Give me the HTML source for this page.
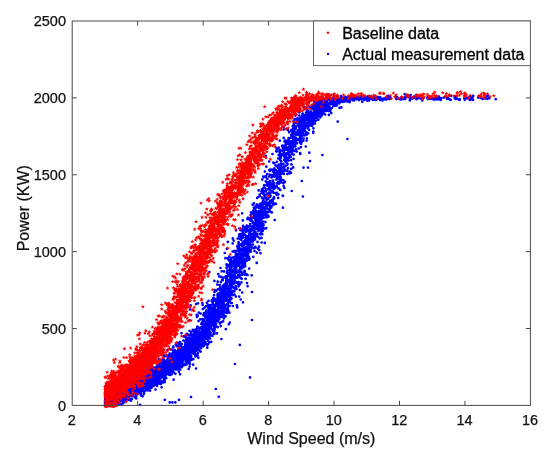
<!DOCTYPE html>
<html lang="en"><head><meta charset="utf-8"><title>Wind power scatter</title>
<style>html,body{margin:0;padding:0;background:#fff}body{width:550px;height:456px;overflow:hidden}</style></head>
<body>
<svg width="550" height="456" viewBox="0 0 550 456" style="display:block;font-family:'Liberation Sans',Arial,sans-serif">
<rect width="550" height="456" fill="#fff"/>
<path d="M176.9 366.1h0M205.4 342.0h0M130.5 393.2h0M400.5 99.0h0M128.0 390.3h0M373.0 98.9h0M269.8 208.5h0M169.4 374.0h0M135.3 397.4h0M242.3 273.1h0M292.6 150.0h0M346.8 99.7h0M176.5 358.9h0M165.4 373.7h0M111.2 402.2h0M142.5 385.9h0M248.8 242.4h0M213.4 323.5h0M287.9 160.0h0M435.8 98.0h0M198.8 340.4h0M176.7 361.3h0M188.1 357.8h0M214.7 328.9h0M188.6 343.2h0M126.5 389.7h0M238.5 250.4h0M130.3 395.8h0M185.6 358.7h0M167.1 373.5h0M261.6 222.7h0M159.3 374.4h0M105.1 399.2h0M175.5 367.0h0M299.3 112.4h0M285.7 159.2h0M456.8 98.7h0M210.3 317.0h0M188.8 348.0h0M133.2 394.1h0M305.8 123.0h0M203.4 314.5h0M186.8 338.9h0M197.9 349.0h0M123.8 390.2h0M253.2 226.2h0M171.0 364.1h0M112.0 405.4h0M292.2 142.1h0M233.2 270.7h0M109.2 402.3h0M162.2 372.4h0M305.7 116.7h0M234.6 280.2h0M278.7 183.5h0M227.5 282.8h0M140.4 393.5h0M260.1 233.8h0M208.7 327.8h0M400.9 99.5h0M146.2 376.2h0M225.5 298.7h0M204.6 333.4h0M189.9 347.0h0M302.9 196.5h0M118.1 398.0h0M304.2 123.5h0M161.4 382.3h0M153.2 381.7h0M183.0 352.8h0M162.1 370.2h0M152.4 375.7h0M267.3 185.5h0M202.1 340.6h0M155.9 379.7h0M157.5 371.0h0M152.9 369.0h0M115.9 388.4h0M143.2 387.5h0M122.8 397.9h0M161.7 372.5h0M183.4 355.9h0M303.8 128.3h0M244.8 234.7h0M227.2 293.8h0M291.4 148.5h0M256.7 207.1h0M264.5 207.5h0M329.8 99.4h0M212.0 321.0h0M222.4 307.3h0M312.6 118.9h0M114.0 401.5h0M389.5 99.1h0M327.4 102.9h0M209.9 326.9h0M269.3 183.1h0M241.1 236.6h0M191.5 344.7h0M213.5 325.9h0M147.2 381.7h0M186.4 350.9h0M185.2 345.8h0M314.3 106.0h0M280.7 160.6h0M254.6 239.7h0M216.6 301.7h0M114.1 393.0h0M291.8 141.4h0M293.0 138.0h0M286.0 170.5h0M167.4 373.9h0M119.2 394.4h0M314.2 116.1h0M105.7 397.4h0M242.3 228.5h0M124.0 385.2h0M231.0 268.3h0M234.2 270.6h0M310.0 118.7h0M252.6 204.7h0M301.2 143.8h0M256.7 262.9h0M150.0 374.2h0M301.2 126.4h0M228.0 303.4h0M109.5 399.7h0M158.3 378.1h0M161.4 367.3h0M348.5 100.8h0M154.9 384.4h0M267.5 202.9h0M214.1 328.5h0M125.0 392.3h0M178.7 344.2h0M216.0 305.0h0M330.2 98.1h0M200.1 337.2h0M261.6 242.5h0M256.0 211.8h0M330.6 100.7h0M165.1 370.0h0M299.6 120.0h0M147.9 381.5h0M138.4 391.1h0M200.0 339.8h0M291.7 164.5h0M218.8 316.4h0M208.6 324.8h0M111.0 399.7h0M358.3 96.8h0M262.7 215.6h0M181.4 352.1h0M232.7 291.9h0M344.4 98.3h0M243.0 237.7h0M105.8 394.1h0M255.6 218.0h0M243.4 267.2h0M207.0 325.6h0M189.5 330.8h0M168.1 365.6h0M268.7 182.0h0M319.7 114.3h0M207.0 333.3h0M197.4 326.5h0M331.6 102.6h0M147.2 373.7h0M131.9 379.7h0M140.8 380.5h0M212.5 318.3h0M150.3 383.1h0M275.5 165.3h0M354.0 100.5h0M157.0 386.0h0M198.0 343.0h0M178.9 361.2h0M187.1 354.5h0M125.0 391.1h0M118.5 402.4h0M120.2 399.1h0M146.2 385.2h0M282.1 145.9h0M250.0 238.1h0M192.1 348.8h0M147.1 386.6h0M220.3 303.1h0M200.7 332.1h0M138.3 393.4h0M140.3 387.3h0M140.4 383.0h0M290.6 148.2h0M270.0 181.2h0M196.8 339.0h0M283.7 129.4h0M244.4 274.6h0M329.3 104.0h0M140.5 377.3h0M183.6 349.1h0M311.2 117.7h0M123.5 388.0h0M182.6 354.4h0M292.5 144.0h0M163.5 366.9h0M173.0 359.8h0M183.5 356.5h0M108.3 394.2h0M155.8 373.0h0M230.0 290.4h0M322.9 110.9h0M171.4 363.0h0M137.6 385.9h0M133.2 396.3h0M145.7 374.3h0M304.4 125.9h0M278.1 172.4h0M191.5 358.6h0M390.8 98.5h0M262.2 207.5h0M281.6 150.5h0M438.6 99.3h0M354.4 96.9h0M122.7 389.0h0M239.6 263.7h0M312.6 113.4h0M227.3 304.0h0M244.6 252.4h0M238.1 262.6h0M127.3 393.0h0M268.6 216.7h0M198.0 342.5h0M231.8 272.3h0M295.1 143.9h0M198.3 336.3h0M156.5 374.2h0M168.0 365.1h0M131.1 388.8h0M270.3 193.0h0M227.8 309.0h0M231.9 291.5h0M181.3 358.5h0M125.8 389.6h0M314.0 109.6h0M181.3 360.8h0M242.2 250.6h0M185.8 353.2h0M265.8 198.4h0M243.6 248.6h0M242.7 236.4h0M177.2 360.8h0M174.1 368.8h0M114.3 394.5h0M106.0 400.0h0M234.4 262.7h0M348.7 99.8h0M245.4 228.8h0M187.1 357.0h0M203.6 321.3h0M287.8 152.7h0M132.7 389.2h0M418.4 97.7h0M195.1 337.1h0M160.2 362.5h0M290.2 143.5h0M231.9 263.2h0M169.0 369.0h0M226.0 293.7h0M172.3 359.4h0M255.3 246.9h0M245.8 261.5h0M113.9 395.6h0M124.4 392.8h0M112.2 389.3h0M246.4 239.1h0M312.4 105.9h0M186.8 348.5h0M232.7 243.4h0M204.8 314.7h0M188.5 348.4h0M322.7 110.2h0M271.2 207.6h0M195.2 347.7h0M296.1 127.4h0M109.7 402.5h0M239.8 251.4h0M129.9 384.2h0M156.6 379.3h0M179.8 357.9h0M107.4 393.1h0M173.4 352.2h0M264.3 195.5h0M164.2 367.0h0M163.4 370.5h0M114.5 401.5h0M228.1 274.9h0M167.8 364.8h0M325.2 105.0h0M140.3 387.8h0M138.2 376.7h0M239.5 263.9h0M322.4 101.9h0M322.0 111.0h0M175.2 355.7h0M164.1 365.5h0M109.0 396.3h0M210.0 338.4h0M287.5 164.6h0M252.7 238.8h0M255.2 211.7h0M141.4 384.2h0M137.9 378.4h0M164.3 364.3h0M196.3 335.0h0M163.5 370.5h0M331.0 100.1h0M154.8 379.3h0M112.1 401.4h0M189.0 355.1h0M188.2 351.9h0M238.1 254.5h0M213.8 300.7h0M136.7 380.1h0M178.4 359.2h0M148.9 387.5h0M113.1 400.4h0M177.1 359.9h0M217.0 318.5h0M159.6 376.3h0M195.3 350.8h0M239.4 228.5h0M173.1 352.1h0M178.6 352.7h0M300.6 124.6h0M268.0 189.3h0M146.1 382.7h0M281.3 166.8h0M191.6 348.3h0M230.1 290.9h0M133.6 391.6h0M150.7 377.4h0M303.5 130.6h0M115.3 396.4h0M214.9 311.4h0M187.4 353.3h0M224.4 298.8h0M168.3 373.0h0M107.9 394.9h0M131.2 389.0h0M364.6 100.0h0M256.0 206.9h0M241.7 278.8h0M484.8 97.7h0M242.5 260.1h0M107.7 400.8h0M152.6 372.2h0M248.7 248.5h0M289.4 155.3h0M253.8 233.4h0M301.6 140.6h0M194.8 337.2h0M126.3 385.9h0M204.5 328.2h0M246.0 243.3h0M266.0 194.6h0M124.4 391.6h0M325.7 103.2h0M255.4 219.9h0M150.8 376.6h0M213.1 298.1h0M230.2 274.5h0M410.6 95.0h0M146.9 382.4h0M233.9 281.4h0M163.1 373.8h0M125.5 397.2h0M214.6 306.9h0M276.5 148.4h0M320.5 107.6h0M193.7 341.5h0M160.9 365.5h0M131.5 387.5h0M303.4 140.7h0M109.0 392.2h0M178.7 367.4h0M220.0 304.8h0M247.5 252.2h0M337.5 97.0h0M153.1 381.0h0M161.7 376.2h0M180.4 357.8h0M283.0 173.2h0M270.5 192.4h0M336.3 105.3h0M145.6 384.7h0M221.9 293.7h0M211.8 322.4h0M116.4 389.6h0M211.9 307.5h0M248.3 252.1h0M160.8 371.0h0M341.7 97.7h0M353.5 96.5h0M167.6 366.0h0M189.6 340.3h0M208.2 304.8h0M294.5 146.5h0M136.1 389.0h0M229.8 264.3h0M215.0 314.9h0M202.9 335.7h0M171.7 374.3h0M188.2 347.0h0M117.1 395.4h0M275.2 188.1h0M195.2 342.4h0M224.3 307.5h0M243.4 253.2h0M189.5 320.3h0M172.9 356.0h0M156.9 365.3h0M166.3 371.5h0M180.3 357.9h0M199.6 333.5h0M263.4 191.9h0M323.6 103.2h0M236.1 230.3h0M337.3 100.2h0M332.3 100.9h0M300.1 138.5h0M322.2 102.3h0M165.7 363.4h0M196.4 332.5h0M235.1 257.2h0M332.4 100.1h0M229.8 322.5h0M179.8 354.4h0M233.3 276.7h0M122.3 401.1h0M220.3 292.4h0M110.7 405.0h0M150.0 383.8h0M299.9 122.5h0M211.8 312.9h0M161.6 387.3h0M116.9 397.1h0M113.0 395.5h0M285.2 117.8h0M221.4 290.4h0M120.5 399.8h0M210.1 310.5h0M116.8 402.2h0M149.2 379.4h0M233.6 275.6h0M287.6 147.5h0M336.0 99.2h0M317.4 104.7h0M193.2 346.6h0M167.5 371.4h0M255.6 233.7h0M208.5 315.9h0M176.0 357.6h0M176.0 357.8h0M168.4 368.9h0M129.4 371.0h0M311.2 124.0h0M253.4 227.3h0M111.5 394.2h0M336.8 98.8h0M169.0 371.7h0M262.8 230.8h0M137.5 387.9h0M335.2 100.3h0M254.2 230.7h0M239.2 251.3h0M301.3 123.7h0M240.7 254.5h0M285.1 145.8h0M165.6 375.4h0M269.9 188.4h0M214.2 309.8h0M198.3 336.2h0M331.3 113.1h0M175.7 365.3h0M205.5 317.8h0M122.3 398.3h0M136.6 395.0h0M237.0 277.9h0M124.1 389.1h0M115.4 400.9h0M289.3 155.8h0M114.8 403.1h0M348.7 98.6h0M166.5 369.8h0M311.3 112.3h0M165.2 355.9h0M140.6 384.8h0M195.8 342.0h0M266.6 206.3h0M266.3 228.2h0M140.9 395.3h0M120.0 396.5h0M212.3 329.8h0M153.6 386.1h0M228.8 324.3h0M267.4 179.0h0M317.9 111.6h0M148.3 376.1h0M195.3 332.2h0M230.4 263.1h0M238.6 282.0h0M207.8 339.5h0M247.2 250.6h0M173.1 369.2h0M323.5 102.3h0M172.5 371.2h0M134.5 388.6h0M138.2 382.0h0M121.1 400.7h0M214.6 313.7h0M228.4 310.6h0M258.4 215.7h0M274.2 173.3h0M172.0 361.2h0M120.1 388.5h0M167.1 365.5h0M182.4 365.5h0M208.6 336.2h0M350.6 98.8h0M109.3 399.3h0M150.2 374.2h0M204.6 307.7h0M210.4 318.6h0M214.7 318.9h0M262.0 197.8h0M189.0 344.0h0M145.0 386.7h0M107.6 403.6h0M106.2 405.4h0M118.7 393.8h0M167.0 367.9h0M269.9 174.7h0M142.1 382.9h0M115.7 398.2h0M121.9 396.6h0M221.7 316.6h0M186.7 353.5h0M202.7 329.6h0M111.7 401.1h0M115.3 393.7h0M175.4 369.3h0M311.7 115.5h0M421.4 96.3h0M334.9 97.5h0M141.5 386.6h0M223.8 309.4h0M231.0 292.2h0M122.2 388.8h0M253.1 223.2h0M134.6 387.1h0M161.5 362.6h0M225.1 290.4h0M150.3 384.2h0M179.3 346.5h0M156.1 378.6h0M181.2 351.2h0M179.3 367.2h0M280.8 164.1h0M269.7 182.6h0M131.5 380.4h0M115.7 395.8h0M157.2 374.1h0M137.5 389.7h0M272.6 180.6h0M158.1 371.7h0M202.5 323.8h0M214.2 300.4h0M127.9 392.4h0M108.8 400.8h0M208.8 320.1h0M274.2 188.4h0M121.2 394.6h0M176.2 355.7h0M134.6 384.1h0M221.5 307.9h0M133.7 387.4h0M106.1 402.9h0M307.2 118.2h0M107.6 401.6h0M142.5 381.5h0M226.3 287.7h0M153.5 375.8h0M190.4 344.7h0M157.7 373.6h0M208.6 321.1h0M164.0 368.4h0M113.5 395.4h0M242.1 213.3h0M185.5 343.1h0M162.6 369.8h0M201.4 335.3h0M276.6 185.8h0M214.6 325.0h0M226.5 285.0h0M131.4 390.3h0M219.2 299.3h0M135.4 386.4h0M348.7 97.0h0M204.7 327.0h0M116.1 397.3h0M290.6 149.5h0M116.0 395.3h0M215.8 313.5h0M225.0 307.4h0M258.7 222.7h0M258.1 228.2h0M489.3 98.2h0M236.2 258.4h0M209.5 331.2h0M146.5 377.3h0M126.3 397.0h0M236.6 250.9h0M341.3 107.4h0M276.9 161.8h0M179.2 366.7h0M147.9 379.6h0M153.8 382.0h0M305.2 123.9h0M148.2 380.3h0M122.0 382.5h0M259.4 215.0h0M329.2 109.1h0M217.8 313.7h0M193.3 341.2h0M198.7 336.5h0M329.5 107.0h0M218.8 305.2h0M208.8 325.2h0M185.7 335.7h0M357.1 97.2h0M286.4 158.9h0M295.8 128.7h0M221.8 302.2h0M174.5 367.6h0M155.1 377.4h0M352.9 95.5h0M248.1 245.3h0M334.7 101.0h0M151.2 380.0h0M145.9 382.7h0M126.6 392.2h0M159.1 367.9h0M225.7 300.5h0M128.0 394.7h0M191.0 335.6h0M346.3 99.3h0M169.4 363.4h0M182.4 355.7h0M145.7 375.2h0M222.2 298.9h0M196.7 344.5h0M219.6 289.6h0M149.6 384.4h0M282.7 148.1h0M295.8 138.6h0M244.7 255.7h0M257.0 220.7h0M284.1 171.0h0M213.9 317.4h0M142.4 381.1h0M377.5 98.5h0M173.7 365.9h0M149.2 387.6h0M196.2 350.8h0M204.9 329.9h0M245.0 259.2h0M185.5 346.0h0M317.3 107.6h0M302.2 119.5h0M168.2 368.0h0M262.2 209.5h0M263.5 224.5h0M152.2 372.8h0M471.2 98.8h0M178.5 349.2h0M218.6 315.6h0M106.3 403.1h0M109.6 395.5h0M200.3 339.4h0M205.5 333.2h0M285.3 157.3h0M294.7 131.7h0M108.4 401.3h0M160.8 373.5h0M270.2 169.5h0M171.6 362.9h0M114.6 390.6h0M257.1 226.3h0M194.0 346.8h0M226.2 298.0h0M323.9 103.3h0M226.1 300.6h0M114.6 396.0h0M174.1 363.6h0M257.7 217.1h0M339.2 103.5h0M326.5 106.0h0M132.4 387.6h0M470.1 95.9h0M207.8 318.2h0M125.5 389.4h0M234.4 250.8h0M224.7 253.0h0M239.2 270.4h0M310.1 118.0h0M281.3 161.5h0M151.1 383.7h0M229.6 306.0h0M176.3 356.2h0M178.0 354.8h0M140.7 379.5h0M192.3 338.7h0M183.1 355.5h0M315.0 123.6h0M146.9 375.0h0M277.3 177.3h0M114.9 405.4h0M294.6 150.9h0M148.6 375.3h0M232.2 277.1h0M215.5 325.7h0M255.1 223.6h0M184.2 354.3h0M169.2 357.1h0M144.2 382.2h0M176.5 357.9h0M308.2 118.7h0M200.8 334.0h0M201.8 329.7h0M403.5 98.9h0M203.0 324.3h0M215.2 300.2h0M274.4 169.5h0M155.5 372.6h0M332.6 103.7h0M224.7 286.4h0M181.8 356.2h0M390.2 98.5h0M321.9 106.7h0M136.7 381.9h0M226.1 292.4h0M205.7 336.8h0M176.9 356.8h0M241.9 256.0h0M272.7 201.2h0M333.5 102.4h0M203.1 333.3h0M132.5 383.0h0M234.5 288.2h0M143.4 384.9h0M151.6 373.0h0M116.3 397.1h0M215.6 304.6h0M121.1 399.2h0M459.7 99.8h0M268.9 195.8h0M266.6 199.0h0M255.5 208.6h0M116.6 390.1h0M240.1 267.6h0M151.3 382.2h0M228.2 281.9h0M217.5 295.1h0M225.9 283.4h0M142.9 373.7h0M361.5 98.6h0M444.0 97.6h0M193.3 359.2h0M165.2 369.8h0M150.1 386.6h0M195.0 342.7h0M168.3 368.2h0M297.9 124.8h0M162.5 373.9h0M314.0 106.3h0M226.9 272.7h0M170.2 372.8h0M241.4 271.6h0M108.4 398.0h0M316.7 104.8h0M196.1 304.1h0M279.4 170.1h0M160.4 384.0h0M226.4 312.9h0M133.8 385.4h0M118.1 396.4h0M121.0 388.8h0M188.6 362.5h0M238.5 260.9h0M240.6 230.1h0M139.3 392.1h0M250.2 239.9h0M181.2 360.7h0M144.6 382.0h0M138.7 381.7h0M227.6 293.8h0M155.6 374.6h0M148.1 373.5h0M310.5 119.4h0M235.5 268.5h0M143.2 384.1h0M218.3 309.1h0M170.6 364.2h0M133.8 381.8h0M263.3 215.4h0M157.4 375.5h0M372.9 99.1h0M114.5 394.2h0M187.8 360.6h0M266.6 208.3h0M105.9 398.2h0M178.5 350.4h0M183.0 354.6h0M147.0 376.8h0M128.8 389.7h0M242.8 262.5h0M278.2 158.5h0M220.7 326.1h0M182.8 357.4h0M175.8 362.3h0M191.0 334.2h0M134.8 383.2h0M272.1 187.5h0M148.3 379.7h0M210.3 324.1h0M205.6 338.6h0M149.4 374.4h0M181.2 351.6h0M129.9 387.5h0M126.3 387.2h0M199.4 342.8h0M283.6 152.1h0M156.0 381.3h0M235.9 286.9h0M153.0 371.1h0M198.6 344.1h0M114.8 399.9h0M174.5 366.8h0M455.9 99.1h0M245.8 255.7h0M197.0 343.3h0M125.9 388.8h0M138.8 388.5h0M232.2 280.0h0M154.1 375.5h0M145.5 386.0h0M140.7 384.6h0M255.2 218.7h0M185.2 354.1h0M149.1 378.0h0M184.0 363.9h0M155.0 375.8h0M260.1 206.3h0M187.7 339.0h0M269.8 209.3h0M116.1 393.8h0M203.9 327.2h0M128.2 381.2h0M187.5 351.4h0M343.7 99.8h0M135.4 393.4h0M246.6 258.1h0M240.3 244.4h0M125.1 393.4h0M206.9 333.9h0M169.8 364.6h0M150.8 376.7h0M293.6 138.5h0M186.9 339.8h0M308.6 115.4h0M228.0 291.4h0M151.3 383.2h0M284.1 156.0h0M334.8 98.3h0M118.8 396.7h0M326.0 111.0h0M109.0 405.4h0M127.2 395.6h0M160.9 375.1h0M317.1 103.4h0M183.6 356.2h0M299.7 130.1h0M146.6 376.9h0M254.7 213.6h0M191.4 343.2h0M273.5 198.9h0M224.6 288.7h0M257.7 225.8h0M122.6 400.8h0M113.4 397.2h0M114.0 402.3h0M311.7 120.3h0M217.0 311.1h0M138.5 389.7h0M176.9 364.1h0M248.0 238.3h0M231.2 298.7h0M241.5 257.4h0M249.3 231.2h0M291.2 134.8h0M176.0 361.6h0M133.2 392.5h0M329.1 110.0h0M308.8 122.8h0M134.5 378.5h0M247.4 219.2h0M223.1 321.3h0M228.0 273.1h0M297.3 121.5h0M187.4 345.4h0M264.7 187.8h0M160.4 378.7h0M242.8 259.0h0M167.2 364.9h0M356.2 96.4h0M164.9 370.6h0M182.6 350.6h0M131.0 389.1h0M175.1 352.4h0M153.2 371.7h0M212.3 325.0h0M135.4 391.8h0M133.6 389.9h0M106.4 399.9h0M147.3 377.2h0M236.2 259.2h0M229.3 285.9h0M202.6 304.9h0M222.2 303.4h0M267.1 199.5h0M336.8 105.4h0M294.0 124.0h0M330.8 101.3h0M120.4 394.1h0M215.6 301.2h0M264.2 203.9h0M245.6 243.8h0M197.9 327.7h0M151.9 379.9h0M404.7 94.2h0M223.9 298.8h0M188.1 351.3h0M250.4 242.2h0M105.6 397.4h0M336.4 100.1h0M270.4 190.0h0M226.8 248.8h0M311.2 119.2h0M166.1 366.1h0M153.6 381.0h0M253.1 226.9h0M159.5 361.6h0M213.9 328.6h0M263.3 188.2h0M174.6 352.9h0M107.3 397.0h0M284.3 150.5h0M472.6 99.8h0M186.2 346.6h0M164.9 365.2h0M141.3 384.6h0M141.4 382.1h0M317.2 117.7h0M115.7 397.8h0M132.1 384.9h0M226.2 280.9h0M161.9 365.4h0M285.5 146.4h0M273.1 180.9h0M205.9 323.4h0M302.4 123.2h0M293.6 124.7h0M175.1 365.5h0M110.2 404.8h0M227.3 270.6h0M294.4 129.3h0M239.5 248.2h0M134.6 388.0h0M204.0 324.0h0M259.1 219.1h0M220.6 299.0h0M240.7 266.5h0M153.3 374.0h0M136.0 391.5h0M291.1 130.6h0M172.0 362.6h0M150.2 379.4h0M109.4 395.5h0M316.2 112.2h0M116.2 390.2h0M151.6 368.7h0M125.0 391.2h0M302.9 126.8h0M141.3 375.2h0M204.4 341.0h0M246.7 225.6h0M116.2 399.3h0M196.5 329.0h0M317.5 112.2h0M290.5 138.0h0M311.7 108.6h0M149.8 387.2h0M154.9 377.0h0M111.2 394.7h0M317.4 111.0h0M111.2 391.4h0M162.9 371.0h0M290.4 155.0h0M208.2 317.0h0M213.7 313.3h0M239.1 258.3h0M297.6 131.4h0M272.2 186.2h0M189.4 352.9h0M146.9 377.6h0M253.6 217.0h0M116.4 395.7h0M184.2 358.2h0M236.5 282.0h0M193.0 347.9h0M186.8 348.7h0M172.8 361.7h0M153.3 380.3h0M311.5 116.3h0M115.1 394.8h0M283.6 170.5h0M140.7 383.4h0M268.8 196.3h0M183.6 336.4h0M247.6 275.0h0M201.1 343.4h0M291.2 168.9h0M297.7 131.6h0M185.6 350.1h0M293.6 158.8h0M287.8 154.1h0M203.0 332.4h0M336.7 98.7h0M197.7 347.2h0M204.2 332.3h0M122.8 392.9h0M105.3 405.3h0M231.0 303.1h0M312.3 105.5h0M129.9 389.6h0M285.1 147.3h0M296.5 133.4h0M220.6 296.8h0M210.1 319.2h0M261.7 193.0h0M162.4 369.5h0M253.6 230.9h0M127.9 391.7h0M187.5 351.9h0M315.9 114.5h0M167.3 367.6h0M204.3 328.1h0M163.2 365.6h0M147.2 370.9h0M255.7 218.0h0M327.4 105.1h0M298.1 130.3h0M174.2 364.2h0M142.7 383.3h0M249.2 246.6h0M198.6 336.9h0M207.3 314.6h0M186.2 355.1h0M262.2 179.6h0M203.8 330.0h0M119.6 398.4h0M194.8 352.4h0M235.7 286.1h0M320.4 104.0h0M160.3 374.8h0M226.8 279.0h0M167.9 369.4h0M189.5 348.1h0M314.3 101.6h0M203.0 334.1h0M164.1 373.9h0M170.3 363.9h0M184.2 352.8h0M214.4 315.9h0M345.6 99.6h0M299.2 125.7h0M113.2 400.2h0M207.8 318.5h0M353.9 99.2h0M260.5 226.4h0M105.8 395.7h0M220.8 289.7h0M316.4 111.8h0M287.9 168.2h0M259.8 214.7h0M258.7 212.5h0M173.2 352.3h0M173.3 356.7h0M164.1 371.2h0M357.9 98.8h0M142.8 380.9h0M112.7 404.3h0M226.1 294.1h0M346.0 101.3h0M203.8 345.9h0M203.5 324.4h0M215.3 305.1h0M232.5 278.3h0M126.8 395.9h0M180.3 350.7h0M114.3 399.0h0M209.5 313.8h0M268.4 185.7h0M207.2 321.5h0M121.2 391.1h0M134.2 386.0h0M142.8 383.8h0M299.1 126.4h0M229.9 269.1h0M115.5 401.1h0M108.0 404.7h0M278.1 167.8h0M211.4 321.9h0M120.5 397.1h0M181.2 359.2h0M118.8 394.1h0M247.3 240.8h0M246.1 231.8h0M322.0 104.1h0M222.7 298.4h0M157.8 369.4h0M197.9 334.0h0M263.0 212.1h0M342.2 101.8h0M177.9 364.1h0M319.2 102.9h0M227.7 307.9h0M154.1 374.3h0M233.0 270.1h0M451.3 95.9h0M311.3 119.7h0M291.8 131.3h0M238.7 243.9h0M237.9 260.6h0M164.7 378.6h0M221.7 290.5h0M224.3 311.9h0M182.4 356.8h0M404.4 97.6h0M123.4 397.9h0M138.7 389.2h0M245.8 261.0h0M210.3 310.0h0M114.6 395.0h0M166.9 356.2h0M293.5 120.8h0M189.0 342.7h0M159.2 376.7h0M204.6 338.2h0M189.0 357.6h0M174.4 361.7h0M287.4 173.9h0M122.7 393.2h0M253.6 228.3h0M160.7 365.9h0M131.3 386.9h0M139.0 385.6h0M146.9 374.4h0M111.4 402.8h0M243.4 226.8h0M302.5 132.8h0M161.0 373.6h0M160.9 362.9h0M167.8 368.9h0M231.4 271.4h0M318.2 102.9h0M464.3 98.2h0M274.0 198.2h0M267.6 182.8h0M154.9 381.2h0M170.5 370.5h0M180.6 360.4h0M265.3 195.7h0M314.7 109.1h0M198.4 336.9h0M139.8 383.5h0M165.8 362.6h0M301.8 117.8h0M243.3 252.9h0M129.3 393.1h0M252.7 229.2h0M150.1 368.2h0M316.0 115.3h0M259.7 222.6h0M230.2 273.8h0M238.3 247.9h0M227.2 285.0h0M248.9 250.2h0M129.1 384.5h0M260.5 211.8h0M150.6 382.7h0M134.9 389.9h0M240.1 257.1h0M275.6 193.1h0M376.7 98.5h0M145.8 386.7h0M221.2 307.3h0M138.9 391.8h0M266.9 206.3h0M229.6 275.6h0M208.1 307.7h0M224.0 298.4h0M285.5 155.1h0M170.9 358.5h0M155.5 389.5h0M200.3 336.0h0M109.1 392.1h0M269.6 205.7h0M135.1 387.1h0M220.5 304.7h0M303.1 119.7h0M296.3 126.3h0M302.3 134.0h0M294.3 136.8h0M222.0 291.3h0M139.3 384.1h0M187.7 359.4h0M432.1 98.8h0M406.3 96.3h0M200.6 328.4h0M291.3 164.4h0M110.8 401.2h0M188.7 341.4h0M136.3 398.4h0M132.1 385.1h0M117.1 399.9h0M281.4 155.5h0M112.5 405.4h0M222.5 301.2h0M120.7 391.8h0M254.5 235.8h0M141.3 380.0h0M124.1 391.9h0M223.1 303.5h0M209.1 319.1h0M211.5 314.6h0M269.2 195.7h0M253.3 237.8h0M290.1 146.6h0M223.6 314.2h0M164.2 361.9h0M177.5 362.7h0M200.8 340.8h0M263.5 198.8h0M231.8 295.0h0M256.1 223.5h0M140.1 404.8h0M306.8 112.1h0M158.0 374.0h0M217.1 312.9h0M340.9 96.2h0M280.7 180.6h0M230.3 266.2h0M341.9 99.0h0M205.9 337.2h0M191.2 355.8h0M212.7 311.4h0M212.4 309.4h0M167.9 358.5h0M280.8 174.1h0M175.9 353.5h0M277.5 179.0h0M189.7 354.3h0M178.8 359.8h0M432.7 98.8h0M168.5 370.3h0M142.8 386.1h0M176.9 358.9h0M170.8 369.9h0M158.6 377.6h0M151.6 376.8h0M226.0 297.9h0M267.4 205.5h0M283.3 180.2h0M196.9 334.5h0M196.6 314.8h0M216.5 320.3h0M257.6 229.3h0M253.3 223.4h0M144.1 384.0h0M306.9 115.9h0M175.9 359.0h0M250.3 246.3h0M254.5 251.0h0M270.5 192.8h0M238.8 249.6h0M328.6 98.3h0M206.1 334.5h0M318.4 119.8h0M204.4 337.8h0M147.8 381.0h0M285.4 149.7h0M328.0 108.6h0M116.2 399.1h0M340.1 102.0h0M156.9 376.5h0M141.6 380.2h0M109.0 393.9h0M301.8 135.0h0M189.3 347.2h0M168.8 369.1h0M157.9 369.5h0M330.5 104.3h0M145.9 388.9h0M243.7 241.5h0M209.4 319.9h0M196.9 350.5h0M121.7 399.0h0M153.1 379.7h0M217.7 300.4h0M179.0 352.1h0M303.0 135.2h0M133.7 388.6h0M155.7 373.8h0M178.9 364.6h0M174.6 359.0h0M322.0 114.0h0M134.0 385.6h0M119.4 396.4h0M216.2 323.5h0M123.3 395.7h0M267.1 184.1h0M241.6 262.4h0M141.4 379.0h0M251.9 220.9h0M348.9 96.8h0M108.4 403.2h0M232.6 295.1h0M111.6 404.4h0M273.6 183.4h0M186.5 351.1h0M210.2 324.3h0M160.2 373.2h0M223.8 286.1h0M174.5 360.0h0M186.8 353.3h0M170.7 372.0h0M386.6 96.7h0M177.6 353.3h0M259.1 219.3h0M118.1 396.5h0M145.3 380.9h0M248.1 252.3h0M168.9 366.2h0M195.3 332.8h0M303.0 132.5h0M213.1 322.3h0M317.9 113.8h0M127.3 372.9h0M222.7 285.9h0M121.9 397.4h0M115.0 397.9h0M175.4 361.5h0M249.8 249.8h0M191.2 340.8h0M113.9 399.7h0M224.0 299.1h0M384.5 98.6h0M321.5 105.3h0M114.3 394.1h0M153.1 372.3h0M156.6 374.5h0M177.4 364.6h0M235.9 254.4h0M292.9 147.8h0M116.7 397.2h0M246.4 242.9h0M354.3 97.9h0M343.9 100.2h0M213.4 330.9h0M141.0 395.3h0M239.3 247.7h0M280.8 157.7h0M138.1 391.6h0M147.8 383.7h0M306.4 118.9h0M222.2 296.0h0M336.6 104.4h0M191.9 348.9h0M230.3 269.9h0M234.4 282.3h0M128.3 397.7h0M184.4 357.8h0M172.5 365.8h0M219.4 306.3h0M283.9 167.2h0M223.7 297.3h0M199.0 344.0h0M136.6 382.6h0M213.5 317.2h0M464.5 95.8h0M212.2 312.6h0M169.5 373.9h0M126.8 395.4h0M164.2 373.4h0M208.2 308.0h0M174.8 367.2h0M213.5 333.7h0M325.1 114.5h0M174.1 361.4h0M179.7 364.9h0M486.9 96.1h0M190.8 334.0h0M176.1 362.6h0M137.6 382.7h0M164.8 382.1h0M216.7 313.2h0M239.4 272.6h0M147.4 382.4h0M207.1 317.6h0M279.9 177.3h0M159.1 367.3h0M388.1 95.9h0M184.5 347.0h0M121.0 404.4h0M220.7 293.6h0M153.0 378.7h0M197.4 326.7h0M172.7 362.6h0M183.4 357.1h0M282.7 195.6h0M210.3 327.9h0M313.9 120.2h0M187.3 347.6h0M160.6 371.0h0M128.7 386.7h0M182.3 355.9h0M159.0 368.0h0M173.7 362.1h0M119.5 388.5h0M264.7 209.2h0M187.9 349.3h0M145.6 381.2h0M148.6 385.2h0M279.4 181.7h0M175.7 364.1h0M184.5 347.6h0M242.4 250.7h0M313.7 121.1h0M114.7 393.0h0M201.9 322.9h0M342.1 99.4h0M106.4 405.4h0M144.5 379.5h0M259.3 250.0h0M361.8 97.7h0M213.4 316.6h0M227.6 310.7h0M222.6 288.3h0M216.7 314.5h0M324.6 100.4h0M241.7 234.5h0M230.9 282.9h0M224.2 291.3h0M128.8 382.6h0M231.6 286.0h0M116.5 396.3h0M178.3 367.7h0M250.3 243.1h0M155.4 380.7h0M159.2 375.5h0M164.4 370.3h0M358.0 97.3h0M160.8 382.9h0M469.9 99.9h0M139.8 375.1h0M181.5 333.2h0M248.3 237.4h0M293.5 129.1h0M278.1 197.9h0M165.8 362.9h0M241.4 254.7h0M158.8 368.6h0M242.0 244.3h0M308.7 117.6h0M272.4 199.5h0M255.8 236.4h0M264.8 242.9h0M269.9 205.7h0M322.7 110.4h0M128.6 383.5h0M135.7 386.0h0M396.0 96.9h0M145.7 380.5h0M164.8 371.5h0M158.3 379.9h0M278.6 170.9h0M253.3 256.8h0M162.7 376.1h0M120.8 392.7h0M239.6 250.3h0M165.3 361.7h0M278.2 182.3h0M249.7 219.8h0M279.5 152.1h0M139.4 388.9h0M137.9 384.0h0M128.5 394.1h0M113.2 394.6h0M435.5 98.4h0M325.1 104.7h0M287.5 164.0h0M193.7 334.4h0M209.0 331.8h0M129.4 386.8h0M159.9 369.0h0M196.7 337.1h0M135.9 388.2h0M290.8 148.2h0M131.9 391.8h0M135.1 381.9h0M314.1 113.7h0M285.8 143.5h0M118.4 393.7h0M184.9 356.5h0M147.5 377.9h0M321.7 103.3h0M254.6 215.2h0M161.7 375.2h0M214.5 326.0h0M142.5 377.7h0M448.1 97.6h0M265.3 213.8h0M170.3 367.3h0M264.4 203.1h0M309.6 125.8h0M342.0 100.7h0M169.6 373.8h0M164.9 365.4h0M212.2 324.4h0M162.8 370.7h0M112.1 395.6h0M308.4 122.5h0M208.7 330.1h0M149.1 375.4h0M341.5 99.1h0M123.5 393.3h0M180.0 359.2h0M355.9 96.3h0M115.7 392.5h0M175.0 364.6h0M137.2 376.4h0M131.6 390.2h0M205.7 327.5h0M315.0 108.0h0M123.5 392.6h0M154.0 368.0h0M300.2 121.7h0M181.9 357.1h0M152.2 376.1h0M318.7 110.3h0M208.9 312.1h0M368.2 97.6h0M114.8 395.2h0M292.5 132.7h0M129.8 390.5h0M139.8 383.1h0M193.5 347.9h0M233.8 270.0h0M165.5 363.8h0M153.1 379.4h0M203.1 340.3h0M285.9 140.8h0M136.7 386.0h0M135.1 392.3h0M295.4 141.1h0M190.3 352.9h0M147.2 389.3h0M256.5 221.4h0M178.3 355.8h0M254.9 217.9h0M134.8 383.5h0M214.1 306.7h0M257.5 204.7h0M264.1 217.6h0M464.7 99.8h0M227.8 286.4h0M148.3 380.1h0M316.3 104.8h0M157.0 375.6h0M107.4 400.9h0M320.6 108.7h0M282.7 145.5h0M195.6 339.3h0M176.7 346.2h0M339.3 100.4h0M232.9 306.0h0M125.4 385.1h0M147.0 381.0h0M160.9 370.6h0M107.2 405.4h0M213.7 313.9h0M136.0 383.5h0M172.4 366.9h0M174.5 359.6h0M219.7 285.0h0M208.6 313.7h0M192.1 347.6h0M248.6 243.7h0M220.0 302.2h0M181.6 353.2h0M359.1 98.1h0M240.7 263.5h0M110.4 398.2h0M202.9 330.5h0M129.6 392.9h0M196.9 341.0h0M174.6 362.7h0M155.0 371.4h0M271.9 169.7h0M139.6 380.7h0M125.7 393.7h0M105.0 401.4h0M163.2 365.9h0M396.3 97.6h0M261.4 210.4h0M192.5 339.2h0M281.1 174.0h0M127.4 391.4h0M263.4 201.2h0M193.6 341.7h0M153.1 381.2h0M346.2 98.5h0M223.5 294.1h0M183.1 351.6h0M135.8 384.0h0M402.5 98.8h0M182.3 351.4h0M273.9 204.3h0M254.0 223.0h0M124.3 398.9h0M219.9 315.2h0M158.8 377.5h0M149.8 384.4h0M278.8 178.8h0M268.5 209.1h0M153.0 369.5h0M153.5 378.9h0M292.7 134.7h0M206.2 331.6h0M156.1 375.6h0M312.9 119.9h0M178.9 352.7h0M117.2 401.9h0M203.1 326.3h0M121.5 391.7h0M139.9 388.5h0M269.2 161.5h0M143.1 370.7h0M257.7 215.3h0M210.4 319.7h0M109.5 393.2h0M148.3 385.7h0M185.1 347.3h0M239.7 252.3h0M158.0 382.1h0M249.2 245.5h0M209.9 332.4h0M194.2 337.0h0M277.9 174.1h0M280.1 159.9h0M240.8 258.0h0M116.7 404.1h0M289.6 171.6h0M159.3 368.3h0M380.3 97.3h0M148.1 375.7h0M302.0 121.3h0M183.2 355.0h0M328.5 110.9h0M266.5 185.2h0M269.7 171.0h0M285.1 140.8h0M161.6 375.6h0M158.7 380.0h0M149.5 377.2h0M321.4 107.6h0M349.4 98.6h0M230.7 278.8h0M259.7 194.6h0M266.1 202.8h0M159.8 370.5h0M189.9 309.4h0M131.9 384.8h0M194.6 342.2h0M141.7 385.5h0M110.9 398.6h0M226.1 285.5h0M111.8 394.6h0M322.8 104.3h0M152.1 378.6h0M273.5 188.8h0M127.6 384.6h0M246.4 246.8h0M209.2 334.3h0M432.7 98.3h0M147.6 385.2h0M297.3 133.7h0M128.7 388.9h0M198.5 331.6h0M116.8 382.0h0M339.7 98.7h0M212.4 312.6h0M189.6 354.1h0M213.4 328.6h0M301.0 129.8h0M248.2 248.3h0M195.3 345.5h0M236.4 261.3h0M169.7 353.6h0M155.4 370.2h0M153.1 382.1h0M312.9 113.9h0M201.1 335.2h0M485.5 97.9h0M157.7 383.3h0M178.5 352.9h0M297.1 140.1h0M312.7 106.4h0M230.4 276.1h0M164.6 367.2h0M233.3 257.4h0M267.1 184.1h0M222.7 307.2h0M251.5 213.1h0M241.4 237.8h0M118.4 383.6h0M137.6 385.4h0M356.1 98.9h0M259.9 220.4h0M209.3 334.9h0M316.5 104.2h0M138.2 376.3h0M347.7 99.6h0M124.3 401.4h0M109.8 399.2h0M195.7 335.8h0M119.1 393.1h0M155.2 376.3h0M179.8 349.3h0M213.3 308.4h0M207.1 333.6h0M293.2 138.7h0M288.8 152.8h0M110.8 391.9h0M165.3 362.9h0M242.3 260.1h0M146.0 380.5h0M130.7 394.7h0M106.1 399.0h0M231.7 267.0h0M222.7 306.7h0M158.7 377.9h0M142.3 388.9h0M179.6 353.4h0M340.3 98.4h0M265.5 198.1h0M175.7 368.7h0M196.8 345.4h0M288.8 149.4h0M152.1 385.9h0M328.7 94.6h0M287.9 153.2h0M200.7 332.1h0M434.7 99.1h0M164.0 378.1h0M113.2 388.5h0M163.4 371.9h0M111.1 392.3h0M201.3 347.9h0M168.6 367.3h0M260.6 234.3h0M232.6 251.5h0M238.7 258.7h0M289.7 147.9h0M167.2 366.0h0M214.0 323.1h0M171.4 363.4h0M209.0 323.2h0M198.2 339.8h0M108.5 404.2h0M228.7 265.0h0M176.9 363.5h0M310.4 114.4h0M148.6 379.6h0M163.7 365.9h0M157.4 371.1h0M204.3 336.7h0M256.7 235.1h0M163.0 366.9h0M217.3 284.6h0M330.6 98.6h0M356.8 99.3h0M173.3 366.0h0M297.9 134.0h0M245.7 254.0h0M174.9 367.3h0M152.9 382.1h0M152.7 371.8h0M111.0 395.0h0M118.1 392.8h0M105.8 403.0h0M200.2 319.4h0M286.8 160.1h0M271.5 177.4h0M316.9 117.7h0M300.8 120.2h0M223.8 292.0h0M108.5 397.1h0M185.4 349.6h0M229.6 266.0h0M285.2 140.8h0M287.1 163.4h0M360.5 97.7h0M441.4 98.2h0M159.9 360.0h0M125.4 393.5h0M133.2 388.2h0M286.3 147.8h0M247.8 240.2h0M125.9 392.2h0M240.6 259.8h0M382.6 99.4h0M214.3 316.9h0M164.7 370.6h0M146.5 377.4h0M140.5 383.9h0M188.4 338.5h0M261.4 224.9h0M280.5 174.3h0M137.9 384.9h0M286.6 159.3h0M269.8 184.9h0M159.1 370.2h0M208.7 312.3h0M180.5 357.3h0M314.8 111.4h0M174.7 355.6h0M206.5 322.9h0M422.2 100.4h0M345.2 98.5h0M204.6 315.8h0M283.0 150.5h0M180.1 374.3h0M105.9 398.7h0M171.4 365.5h0M126.6 393.2h0M145.6 381.8h0M213.2 330.9h0M164.9 374.5h0M188.0 340.7h0M239.1 236.3h0M296.6 121.7h0M225.7 316.3h0M293.2 151.0h0M238.7 265.7h0M274.1 176.7h0M259.7 212.8h0M269.1 187.0h0M222.9 301.2h0M157.8 378.4h0M113.5 393.2h0M306.6 134.7h0M232.9 284.2h0M217.4 303.4h0M348.5 99.1h0M153.6 370.2h0M119.3 394.5h0M254.2 216.3h0M215.8 304.9h0M136.2 387.3h0M106.2 404.6h0M227.6 296.9h0M190.0 348.1h0M128.3 390.9h0M183.5 352.6h0M242.8 232.6h0M120.9 391.2h0M194.3 332.1h0M397.3 97.4h0M454.7 96.9h0M117.5 396.2h0M200.9 334.0h0M285.5 161.6h0M133.1 390.4h0M292.0 153.5h0M152.7 376.5h0M193.4 343.3h0M247.0 248.2h0M299.7 142.5h0M110.3 399.7h0M115.0 405.3h0M217.1 303.4h0M144.1 392.9h0M120.5 391.2h0M199.3 338.9h0M308.1 111.0h0M291.3 146.8h0M328.5 107.6h0M230.8 274.1h0M200.7 337.5h0M119.8 387.4h0M261.1 207.9h0M211.8 300.2h0M300.8 117.7h0M209.6 336.0h0M184.9 354.6h0M266.0 204.2h0M302.1 130.1h0M236.2 267.5h0M139.0 388.9h0M311.5 123.1h0M114.0 404.3h0M414.1 96.5h0M162.7 367.2h0M175.6 356.1h0M169.5 365.5h0M198.5 337.9h0M132.1 385.1h0M254.2 232.8h0M110.4 395.2h0M196.9 346.3h0M311.2 120.4h0M129.5 386.9h0M227.4 275.6h0M246.5 250.6h0M397.1 98.5h0M253.6 212.1h0M321.1 104.2h0M248.0 247.1h0M219.9 323.4h0M279.6 154.1h0M222.0 305.4h0M247.1 260.4h0M250.8 240.4h0M234.2 271.3h0M314.0 105.8h0M228.6 295.8h0M145.0 375.0h0M147.5 385.2h0M273.5 162.5h0M320.9 105.7h0M335.4 99.6h0M203.6 336.2h0M124.5 395.1h0M278.4 174.5h0M386.4 99.6h0M148.9 376.2h0M427.8 97.4h0M209.1 305.1h0M225.7 276.3h0M184.2 351.8h0M208.5 300.9h0M162.1 365.3h0M128.8 390.1h0M286.2 143.3h0M215.2 322.3h0M230.0 289.0h0M125.4 396.8h0M313.0 123.8h0M203.8 330.6h0M173.1 350.6h0M164.6 372.1h0M323.4 112.9h0M145.8 380.7h0M309.1 114.4h0M128.8 384.0h0M133.0 385.7h0M203.3 331.8h0M301.0 132.2h0M313.3 104.9h0M113.1 392.9h0M238.8 242.5h0M243.2 250.3h0M146.7 383.5h0M336.0 99.3h0M259.8 238.5h0M241.7 272.8h0M175.0 368.2h0M346.9 97.5h0M148.4 387.6h0M211.3 310.8h0M244.1 263.3h0M240.7 299.5h0M447.2 99.0h0M182.6 365.6h0M292.6 143.1h0M205.1 329.2h0M244.0 244.8h0M219.1 317.6h0M158.0 381.4h0M138.7 386.4h0M182.0 362.5h0M268.1 198.7h0M191.3 350.5h0M106.0 404.9h0M472.6 97.1h0M162.3 374.0h0M209.1 332.9h0M277.0 179.3h0M270.6 188.1h0M254.5 227.5h0M235.7 282.2h0M269.8 208.9h0M107.9 397.8h0M143.5 382.7h0M243.1 245.8h0M188.8 351.7h0M201.4 337.3h0M274.5 163.1h0M173.8 372.5h0M279.5 173.6h0M282.7 146.3h0M189.4 360.9h0M270.9 200.7h0M176.2 362.3h0M171.4 367.8h0M352.9 99.9h0M299.0 139.4h0M168.2 370.8h0M114.5 393.1h0M328.9 114.9h0M205.9 343.9h0M283.2 172.8h0M108.9 401.0h0M227.6 288.2h0M166.2 368.3h0M146.9 378.4h0M272.5 154.0h0M105.6 401.9h0M199.2 347.0h0M231.5 298.4h0M115.3 399.1h0M378.7 97.4h0M303.6 138.5h0M470.0 97.4h0M304.1 122.5h0M245.8 249.8h0M189.0 359.6h0M169.4 361.9h0M106.8 401.8h0M130.3 389.2h0M112.3 394.1h0M136.5 388.1h0M122.7 390.3h0M196.0 342.2h0M185.1 354.8h0M297.0 133.5h0M188.5 344.3h0M230.3 283.4h0M308.8 116.5h0M233.5 275.6h0M405.9 96.6h0M212.1 311.0h0M218.3 321.3h0M348.6 99.2h0M227.2 287.4h0M313.6 118.7h0M165.3 372.7h0M173.2 367.0h0M141.9 388.8h0M210.9 305.0h0M321.4 104.9h0M226.6 295.7h0M336.5 97.8h0M203.7 315.5h0M247.3 252.5h0M281.2 179.3h0M263.9 188.2h0M178.7 360.2h0M194.6 330.2h0M180.2 362.3h0M105.9 399.5h0M255.9 218.5h0M139.5 389.5h0M260.1 205.3h0M165.8 370.0h0M144.2 391.3h0M167.5 359.9h0M183.4 356.5h0M132.4 389.3h0M274.0 197.2h0M188.9 350.9h0M244.9 272.2h0M200.7 351.6h0M160.0 376.6h0M222.7 307.1h0M315.7 104.9h0M147.8 378.5h0M252.6 238.2h0M304.6 127.0h0M238.6 254.1h0M190.8 348.8h0M142.7 387.0h0M256.7 215.4h0M127.7 390.3h0M151.7 368.8h0M126.6 389.6h0M174.3 365.0h0M200.0 338.6h0M209.9 319.9h0M318.8 111.1h0M121.6 392.7h0M207.4 320.5h0M188.3 348.0h0M213.1 304.7h0M110.3 396.6h0M251.6 228.6h0M242.2 246.3h0M259.2 228.6h0M139.1 376.8h0M309.2 122.5h0M296.6 120.2h0M197.0 316.9h0M263.3 202.6h0M159.3 378.5h0M181.7 344.0h0M119.5 396.0h0M105.0 403.3h0M112.7 396.2h0M159.4 372.3h0M244.3 242.8h0M209.9 325.7h0M119.4 394.3h0M184.6 341.2h0M307.3 109.9h0M298.7 148.5h0M217.0 302.7h0M246.6 275.0h0M313.7 106.9h0M165.1 372.8h0M190.6 353.9h0M248.0 248.5h0M341.7 97.5h0M245.6 252.6h0M293.2 167.4h0M128.9 393.2h0M266.7 182.5h0M253.9 203.3h0M280.6 165.1h0M249.1 259.8h0M202.1 332.4h0M203.4 333.8h0M196.2 350.1h0M337.6 101.5h0M185.8 354.1h0M107.1 398.1h0M134.5 383.5h0M373.9 97.0h0M213.9 327.5h0M209.9 314.1h0M166.2 365.7h0M170.3 357.9h0M292.6 141.1h0M226.5 294.8h0M139.8 388.1h0M209.5 318.1h0M206.4 323.8h0M224.8 292.2h0M151.1 365.2h0M335.6 103.2h0M152.1 384.8h0M167.4 364.2h0M255.8 207.7h0M311.4 113.9h0M313.5 109.2h0M338.1 98.6h0M230.2 288.6h0M115.0 401.9h0M255.5 224.7h0M181.4 358.7h0M259.6 219.6h0M240.7 258.2h0M123.9 395.5h0M123.0 389.8h0M231.6 282.4h0M165.2 377.7h0M369.1 97.9h0M333.8 99.3h0M198.1 342.8h0M272.1 176.3h0M238.0 262.1h0M139.5 384.3h0M125.9 394.5h0M217.5 296.1h0M183.5 364.6h0M256.7 204.7h0M225.1 294.5h0M318.3 111.8h0M112.2 400.6h0M154.8 373.4h0M272.9 171.6h0M147.1 383.1h0M157.8 366.4h0M114.3 393.0h0M225.2 295.7h0M108.4 400.3h0M134.3 385.5h0M320.2 117.4h0M176.6 369.3h0M251.3 237.0h0M212.0 307.9h0M140.2 389.0h0M109.3 399.9h0M290.1 151.1h0M161.1 376.3h0M202.9 339.6h0M137.4 384.4h0M207.5 318.6h0M205.2 332.9h0M226.2 284.0h0M296.0 149.3h0M230.0 299.8h0M161.0 377.0h0M221.7 271.3h0M286.0 144.7h0M108.7 399.7h0M368.2 96.2h0M261.3 212.7h0M306.0 112.5h0M232.8 238.4h0M118.7 401.5h0M366.2 97.5h0M306.8 124.7h0M113.1 397.7h0M227.7 282.4h0M247.6 286.2h0M179.1 364.7h0M183.5 353.2h0M138.7 383.3h0M132.0 381.5h0M123.9 399.6h0M178.0 358.3h0M147.3 376.7h0M325.9 102.0h0M224.8 294.5h0M119.5 388.7h0M213.1 324.8h0M130.4 394.2h0M156.4 384.4h0M166.8 371.1h0M117.7 395.7h0M228.4 299.9h0M202.4 324.5h0M198.5 344.7h0M161.7 370.1h0M155.7 381.5h0M168.7 362.9h0M241.7 266.5h0M159.9 379.0h0M207.6 336.8h0M190.0 357.6h0M310.8 108.0h0M344.4 101.2h0M228.2 292.2h0M304.8 115.2h0M158.6 376.7h0M255.5 210.7h0M202.6 345.8h0M152.8 379.3h0M149.8 373.9h0M188.6 341.2h0M188.7 368.9h0M118.9 393.3h0M299.6 140.6h0M214.3 308.8h0M262.4 211.8h0M266.0 211.8h0M250.7 249.6h0M247.0 236.9h0M390.0 97.2h0M186.8 354.9h0M321.1 114.0h0M181.1 353.8h0M254.8 216.3h0M141.8 373.9h0M276.1 151.3h0M146.9 377.4h0M155.1 381.6h0M139.5 377.6h0M183.3 349.2h0M136.7 377.3h0M111.6 393.0h0M156.4 367.0h0M199.6 341.8h0M319.3 101.9h0M219.7 312.6h0M205.7 328.7h0M254.1 209.0h0M164.9 365.1h0M107.9 402.0h0M131.0 398.9h0M291.2 135.7h0M121.4 395.6h0M107.5 398.0h0M117.3 398.9h0M177.3 360.6h0M225.2 298.6h0M136.1 395.6h0M225.8 305.1h0M206.1 306.0h0M217.8 305.1h0M217.4 313.2h0M244.9 249.2h0M185.8 353.4h0M183.5 350.5h0M224.3 284.6h0M246.8 228.6h0M192.4 348.1h0M140.0 376.3h0M307.7 120.1h0M211.0 317.7h0M263.3 224.2h0M214.2 318.0h0M456.2 97.0h0M133.9 392.4h0M212.8 302.9h0M118.6 402.1h0M211.4 310.9h0M166.6 373.8h0M233.3 283.8h0M144.5 380.3h0M201.3 324.0h0M268.1 204.5h0M129.5 387.7h0M271.8 212.4h0M331.6 102.0h0M198.8 334.6h0M386.3 97.9h0M198.3 343.4h0M152.7 383.6h0M231.7 264.7h0M184.1 350.1h0M147.7 385.5h0M170.9 361.6h0M299.9 137.5h0M132.7 387.4h0M110.7 400.9h0M244.3 262.6h0M126.7 392.8h0M142.4 382.3h0M255.3 228.8h0M279.8 151.2h0M177.9 362.6h0M247.9 218.2h0M284.3 150.5h0M169.6 369.2h0M270.6 211.9h0M221.5 304.6h0M161.6 377.1h0M291.0 172.8h0M189.8 363.9h0M109.4 404.0h0M172.8 364.2h0M119.5 385.1h0M206.1 333.6h0M202.7 327.4h0M241.9 260.8h0M319.3 103.0h0M217.8 301.2h0M105.8 405.4h0M126.6 394.3h0M260.5 253.2h0M113.2 403.4h0M301.1 140.4h0M127.7 394.4h0M258.7 213.6h0M172.6 363.3h0M221.9 306.5h0M126.5 394.2h0M239.2 296.6h0M195.0 335.0h0M231.1 262.1h0M146.7 379.9h0M167.6 360.4h0M259.9 223.9h0M242.8 220.4h0M241.8 230.4h0M108.6 404.3h0M438.4 98.0h0M182.0 349.0h0M170.8 358.5h0M172.0 361.3h0M230.1 294.1h0M278.7 155.2h0M243.6 227.5h0M210.5 305.6h0M159.8 371.3h0M155.6 378.1h0M314.4 112.1h0M186.6 350.4h0M258.7 222.4h0M217.5 301.4h0M141.5 381.5h0M281.3 165.1h0M262.4 218.2h0M280.0 152.0h0M127.7 385.6h0M237.7 253.8h0M127.6 390.2h0M320.9 113.0h0M161.1 373.2h0M138.0 388.4h0M216.7 326.5h0M232.1 270.8h0M267.8 193.4h0M271.1 201.4h0M225.2 307.2h0M142.5 380.3h0M230.9 288.2h0M153.0 375.6h0M179.4 361.0h0M123.5 402.8h0M294.5 132.7h0M319.9 104.9h0M216.7 315.1h0M147.7 380.5h0M265.8 181.3h0M364.1 99.0h0M214.7 309.9h0M246.8 237.1h0M307.8 123.3h0M129.9 385.6h0M274.1 186.0h0M120.9 392.5h0M223.1 298.5h0M345.2 98.0h0M177.2 351.2h0M252.9 237.0h0M148.6 389.8h0M122.8 390.6h0M142.6 380.2h0M157.9 377.3h0M279.5 174.8h0M236.6 255.8h0M213.2 312.5h0M128.1 388.2h0M174.1 361.3h0M305.3 117.2h0M169.2 361.5h0M246.6 255.0h0M270.6 187.3h0M300.3 153.9h0M202.1 330.5h0M179.9 354.7h0M143.1 380.8h0M170.2 366.1h0M120.9 394.6h0M184.4 355.9h0M306.8 112.3h0M250.5 245.0h0M333.3 97.8h0M202.4 328.5h0M163.7 362.8h0M320.9 109.4h0M246.7 246.9h0M137.4 385.7h0M405.1 97.8h0M208.0 324.0h0M161.2 370.4h0M139.9 377.2h0M108.9 397.9h0M281.1 182.3h0M173.3 357.8h0M209.2 328.7h0M163.4 376.1h0M276.8 186.4h0M193.0 340.0h0M218.1 300.5h0M339.5 100.6h0M161.2 381.3h0M125.9 393.0h0M119.5 394.7h0M322.3 105.6h0M123.7 398.1h0M304.3 106.9h0M302.2 115.5h0M163.0 376.5h0M232.8 261.1h0M242.1 258.7h0M286.0 142.5h0M119.2 391.8h0M268.5 193.7h0M240.3 262.1h0M266.3 166.7h0M202.3 342.0h0M165.5 367.0h0M296.1 142.2h0M237.1 259.3h0M278.9 174.5h0M155.0 374.1h0M401.1 97.7h0M167.2 361.6h0M195.3 336.2h0M202.4 326.7h0M247.0 252.5h0M274.7 220.1h0M153.9 372.7h0M125.0 392.1h0M289.5 147.7h0M132.0 385.4h0M135.4 383.7h0M130.2 389.3h0M153.4 372.4h0M114.4 394.8h0M277.0 166.2h0M174.6 357.9h0M200.8 327.5h0M298.3 124.7h0M181.2 357.6h0M312.1 125.8h0M465.3 98.4h0M119.5 401.3h0M198.4 343.9h0M117.6 392.5h0M176.8 361.1h0M237.5 246.0h0M276.2 174.4h0M202.9 333.6h0M117.2 398.6h0M250.4 229.5h0M292.8 126.2h0M218.2 304.4h0M252.8 229.2h0M261.2 219.3h0M145.6 378.0h0M180.1 342.3h0M224.5 297.9h0M401.3 98.8h0M300.9 147.2h0M288.0 140.3h0M253.4 214.2h0M228.9 270.3h0M195.7 342.3h0M420.8 98.6h0M111.6 399.9h0M245.9 261.2h0M221.7 307.3h0M301.5 119.3h0M208.4 325.9h0M288.2 141.6h0M266.5 217.5h0M114.4 397.3h0M181.0 362.2h0M314.5 107.0h0M346.3 98.3h0M200.2 338.0h0M111.1 387.3h0M211.8 321.3h0M230.7 290.8h0M292.4 133.9h0M253.6 230.7h0M171.5 358.3h0M304.9 118.7h0M123.4 391.6h0M108.6 397.2h0M263.1 201.4h0M119.2 395.6h0M136.9 390.1h0M283.8 166.5h0M106.6 398.5h0M283.0 154.1h0M130.2 388.1h0M327.1 107.2h0M313.2 114.4h0M198.0 347.1h0M298.4 124.2h0M229.8 290.6h0M151.2 385.8h0M312.5 116.0h0M246.8 250.7h0M130.2 386.8h0M149.7 383.4h0M295.4 132.2h0M204.6 329.8h0M308.6 111.9h0M218.3 274.0h0M261.4 191.6h0M371.9 96.6h0M278.8 173.2h0M142.1 390.2h0M255.0 206.7h0M266.3 211.5h0M159.0 365.4h0M123.9 386.2h0M205.9 329.5h0M123.3 388.1h0M231.4 267.7h0M242.2 292.5h0M162.0 373.7h0M227.8 258.4h0M161.8 367.2h0M153.5 376.9h0M235.2 267.6h0M119.6 395.4h0M160.7 368.4h0M156.8 380.3h0M168.2 365.5h0M150.2 375.6h0M273.8 185.0h0M194.9 336.6h0M177.6 367.0h0M134.8 383.8h0M272.9 204.8h0M423.3 98.2h0M338.6 99.0h0M198.4 336.8h0M302.6 118.2h0M284.6 141.4h0M291.7 130.6h0M183.4 340.5h0M440.8 100.0h0M262.7 207.3h0M298.3 108.3h0M217.3 311.2h0M206.1 337.5h0M223.5 288.3h0M139.4 378.7h0M107.6 405.4h0M277.1 149.2h0M108.5 399.4h0M133.1 390.3h0M238.0 275.2h0M204.6 338.3h0M108.7 398.7h0M149.5 374.4h0M176.7 367.3h0M254.9 222.7h0M125.4 399.9h0M301.6 142.0h0M216.2 303.6h0M291.1 160.2h0M361.0 98.5h0M132.2 389.2h0M266.3 189.6h0M166.2 363.5h0M231.7 281.4h0M297.0 121.8h0M227.9 302.3h0M432.1 99.0h0M301.0 138.1h0M288.7 160.5h0M295.4 133.7h0M196.5 344.7h0M342.7 97.5h0M278.2 182.9h0M221.0 290.1h0M187.4 353.5h0M178.8 362.4h0M295.0 119.0h0M224.3 296.2h0M120.0 394.9h0M310.3 114.0h0M108.5 395.6h0M266.2 215.9h0M239.2 234.5h0M141.3 383.1h0M199.6 350.7h0M144.9 383.9h0M301.0 120.4h0M296.7 143.2h0M211.9 320.3h0M206.1 324.2h0M204.9 333.7h0M210.7 319.3h0M208.9 313.9h0M395.7 97.6h0M313.0 124.0h0M196.7 335.0h0M308.4 122.1h0M106.1 397.6h0M197.7 315.7h0M148.6 390.3h0M198.0 303.3h0M117.5 389.3h0M260.8 211.6h0M302.3 126.8h0M339.6 99.9h0M188.3 334.8h0M287.3 144.0h0M141.6 383.2h0M158.1 369.6h0M339.6 100.1h0M292.7 150.7h0M158.0 368.8h0M231.8 283.0h0M117.2 392.7h0M202.3 303.0h0M150.6 380.9h0M165.8 375.5h0M193.1 348.7h0M115.2 393.0h0M456.2 97.6h0M117.0 399.2h0M324.9 109.9h0M142.0 384.6h0M130.3 391.6h0M285.6 165.9h0M235.7 277.2h0M110.8 399.8h0M211.8 324.0h0M128.1 391.1h0M271.5 206.4h0M120.6 387.0h0M186.3 349.0h0M311.6 115.7h0M159.3 362.6h0M114.8 397.8h0M243.4 256.8h0M208.7 305.3h0M190.1 356.2h0M117.0 401.4h0M241.8 274.8h0M328.7 108.4h0M377.2 98.8h0M129.7 390.4h0M265.6 176.2h0M315.8 104.5h0M187.0 358.8h0M145.3 387.9h0M345.7 99.6h0M162.3 369.4h0M146.3 382.0h0M146.8 380.2h0M182.4 349.3h0M236.7 256.8h0M188.1 355.7h0M180.6 359.5h0M132.2 388.6h0M168.2 370.5h0M365.2 96.5h0M146.1 384.4h0M112.6 398.7h0M115.5 395.7h0M220.1 314.6h0M308.8 119.2h0M146.6 378.0h0M305.1 125.0h0M115.0 400.4h0M214.9 315.1h0M196.7 348.9h0M130.2 385.9h0M255.0 238.0h0M134.5 393.5h0M108.6 401.3h0M339.5 107.8h0M126.4 388.5h0M116.0 397.3h0M171.2 368.5h0M114.9 391.5h0M159.8 353.0h0M146.8 388.4h0M229.6 261.2h0M206.2 321.4h0M305.8 125.4h0M220.1 294.1h0M189.4 348.6h0M160.1 369.8h0M170.0 366.1h0M299.2 139.2h0M427.4 97.8h0M219.3 306.8h0M229.3 291.4h0M213.7 319.6h0M111.2 398.1h0M395.7 96.5h0M119.5 401.2h0M118.1 396.1h0M212.9 308.1h0M196.0 344.5h0M230.8 281.8h0M248.9 256.9h0M146.4 374.6h0M140.8 393.9h0M194.8 338.3h0M125.9 396.7h0M200.4 344.9h0M266.2 177.4h0M212.8 303.5h0M112.4 401.5h0M260.6 203.7h0M245.5 254.0h0M284.2 170.9h0M269.4 194.4h0M230.3 263.9h0M218.2 298.8h0M161.4 369.1h0M120.8 388.2h0M322.6 103.0h0M332.0 101.9h0M158.9 379.0h0M330.5 98.7h0M224.5 309.4h0M121.4 393.7h0M119.7 393.5h0M165.3 364.1h0M171.9 362.4h0M148.6 380.8h0M182.4 364.3h0M148.1 373.7h0M478.1 97.6h0M255.0 213.5h0M123.9 395.0h0M187.3 353.9h0M143.5 385.2h0M231.9 293.0h0M249.2 244.7h0M176.9 355.6h0M224.2 317.1h0M244.8 227.6h0M139.9 392.1h0M376.6 97.9h0M385.6 98.0h0M197.3 336.7h0M222.1 279.9h0M235.4 289.1h0M187.6 357.9h0M124.1 391.2h0M111.3 401.2h0M175.0 364.2h0M134.3 393.6h0M191.8 342.9h0M238.6 242.2h0M249.5 243.7h0M374.8 98.4h0M299.1 131.8h0M136.0 384.0h0M154.1 371.7h0M207.1 332.4h0M226.7 295.8h0M248.2 254.6h0M119.9 392.5h0M230.1 297.3h0M251.1 226.3h0M225.6 294.8h0M285.0 140.8h0M129.2 393.6h0M113.1 394.9h0M128.3 392.1h0M142.2 383.7h0M273.8 171.6h0M134.2 390.1h0M109.8 399.2h0M217.9 309.5h0M297.0 139.3h0M240.2 261.0h0M115.0 400.1h0M209.2 310.1h0M263.7 213.1h0M183.9 354.5h0M202.8 324.6h0M465.0 98.6h0M209.4 328.4h0M297.6 118.5h0M186.1 347.5h0M113.4 390.8h0M281.8 155.1h0M320.1 107.0h0M145.0 385.2h0M370.9 96.3h0M276.9 183.2h0M160.0 369.6h0M120.9 397.7h0M323.2 109.7h0M234.1 266.5h0M240.3 261.6h0M379.5 99.0h0M294.1 131.9h0M212.6 315.6h0M233.3 264.8h0M239.7 284.5h0M109.3 398.5h0M223.5 277.7h0M365.4 98.3h0M237.3 246.6h0M178.4 367.0h0M116.3 396.7h0M257.6 213.4h0M159.7 376.5h0M225.8 283.0h0M245.6 237.4h0M148.1 381.8h0M301.2 127.5h0M212.6 308.9h0M134.1 392.4h0M299.3 120.6h0M223.1 298.8h0M254.2 231.4h0M377.4 97.2h0M197.5 348.9h0M251.2 238.3h0M307.4 111.4h0M136.9 388.8h0M155.3 373.2h0M310.4 113.6h0M138.8 391.6h0M207.8 323.9h0M261.0 229.2h0M239.2 248.3h0M140.3 389.8h0M197.0 336.8h0M197.0 341.4h0M177.8 346.1h0M235.4 288.4h0M106.8 393.7h0M127.9 388.0h0M156.2 368.5h0M182.3 353.9h0M225.3 305.7h0M132.3 392.5h0M173.6 367.1h0M299.2 131.2h0M155.3 383.0h0M244.1 265.9h0M207.9 324.5h0M107.5 399.9h0M167.5 373.5h0M170.4 372.7h0M148.3 382.6h0M107.3 400.5h0M244.6 270.8h0M151.1 372.4h0M304.7 121.2h0M130.2 391.8h0M242.4 254.2h0M160.9 383.9h0M115.7 401.3h0M170.2 371.3h0M294.1 133.8h0M275.9 203.9h0M116.0 388.7h0M151.4 387.9h0M144.7 383.4h0M273.5 183.7h0M186.5 364.4h0M197.2 327.2h0M242.7 262.1h0M324.1 104.5h0M107.7 403.5h0M162.7 370.9h0M109.7 403.2h0M214.5 292.0h0M184.0 353.9h0M172.6 370.9h0M205.6 317.0h0M171.4 361.1h0M219.5 293.8h0M151.0 379.9h0M350.8 96.3h0M276.1 179.5h0M183.2 348.2h0M167.7 373.6h0M244.9 254.0h0M145.5 377.8h0M140.6 385.6h0M331.8 108.0h0M126.5 393.3h0M316.0 109.3h0M168.2 368.8h0M230.0 291.7h0M228.6 259.7h0M120.5 390.7h0M147.4 383.9h0M234.5 294.5h0M122.8 401.6h0M324.5 107.5h0M276.6 173.4h0M473.2 95.9h0M141.4 388.6h0M219.8 312.0h0M161.7 373.8h0M273.5 170.4h0M164.3 373.5h0M307.5 133.0h0M209.4 272.0h0M148.0 385.7h0M195.0 348.6h0M348.7 100.4h0M301.3 124.9h0M228.0 258.8h0M189.4 358.5h0M201.5 332.4h0M276.1 170.2h0M270.2 202.9h0M158.5 369.3h0M248.3 230.5h0M242.8 234.8h0M155.6 376.3h0M163.4 369.6h0M256.3 216.0h0M163.4 371.8h0M288.3 143.4h0M223.8 290.9h0M195.3 344.6h0M214.0 295.2h0M133.2 392.8h0M164.8 377.4h0M242.0 255.3h0M209.7 335.3h0M322.6 111.0h0M259.8 196.0h0M123.3 391.4h0M163.1 373.5h0M203.1 322.8h0M183.4 365.2h0M176.9 358.4h0M131.0 389.8h0M173.2 347.5h0M178.1 356.1h0M204.1 345.1h0M117.6 388.6h0M255.0 228.1h0M315.0 112.8h0M201.7 329.3h0M185.0 346.7h0M201.5 323.6h0M143.4 384.5h0M237.9 248.2h0M226.9 266.7h0M154.4 382.5h0M163.0 357.5h0M106.7 395.4h0M210.4 308.4h0M184.4 352.6h0M186.4 340.4h0M155.1 378.7h0M198.8 312.7h0M155.8 373.9h0M200.7 340.0h0M350.8 98.0h0M223.1 292.8h0M300.5 127.1h0M397.3 98.0h0M201.5 331.6h0M202.8 338.2h0M245.4 254.4h0M155.2 376.3h0M196.5 333.2h0M266.1 176.0h0M235.3 276.5h0M107.5 404.9h0M270.2 208.0h0M291.6 151.6h0M158.8 381.3h0M192.8 329.9h0M200.6 339.6h0M244.5 253.2h0M184.0 352.1h0M200.5 339.1h0M333.4 106.1h0M156.9 372.1h0M219.7 302.8h0M306.9 138.3h0M289.4 146.3h0M139.6 383.7h0M376.4 99.6h0M188.8 348.5h0M252.3 229.6h0M237.2 264.8h0M178.7 357.6h0M185.9 349.2h0M319.2 108.2h0M262.8 227.9h0M223.5 310.5h0M253.9 248.3h0M220.6 310.9h0M106.2 403.2h0M150.8 369.7h0M273.3 162.8h0M253.8 248.0h0M172.1 364.8h0M292.6 146.1h0M152.0 371.3h0M335.6 105.6h0M300.2 128.3h0M114.4 399.6h0M154.9 376.3h0M139.2 384.8h0M324.5 111.1h0M279.8 140.7h0M125.8 387.0h0M233.0 287.3h0M135.4 377.4h0M121.8 395.8h0M300.2 133.8h0M123.3 380.0h0M109.7 398.3h0M268.2 184.9h0M181.8 351.9h0M128.3 387.2h0M196.6 344.0h0M153.8 377.5h0M251.8 247.4h0M305.2 128.6h0M217.7 281.7h0M306.6 115.1h0M243.5 254.8h0M190.2 348.0h0M142.7 380.3h0M161.3 370.0h0M223.1 305.3h0M189.9 350.6h0M156.9 380.6h0M201.2 337.8h0M213.5 318.2h0M319.1 107.1h0M267.0 184.6h0M300.1 153.2h0M141.8 387.7h0M192.4 338.7h0M303.3 124.2h0M119.5 399.0h0M118.9 397.0h0M219.9 296.9h0M147.8 378.1h0M189.9 363.3h0M216.0 311.8h0M295.2 133.2h0M173.5 367.1h0M132.1 396.1h0M148.6 385.4h0M282.9 147.6h0M107.0 395.6h0M268.6 205.4h0M468.1 97.7h0M205.0 330.4h0M264.3 228.6h0M244.9 242.4h0M296.7 151.6h0M317.6 108.3h0M257.3 217.6h0M229.0 290.3h0M166.2 366.0h0M108.0 394.8h0M115.3 396.8h0M172.2 360.2h0M287.2 170.8h0M177.9 361.7h0M206.2 327.8h0M243.5 230.5h0M175.5 358.0h0M320.2 109.7h0M296.2 138.0h0M223.6 298.6h0M174.7 350.0h0M332.1 104.0h0M186.3 362.3h0M194.7 333.4h0M118.3 403.6h0M212.3 319.6h0M244.7 248.7h0M220.3 303.8h0M215.1 306.5h0M473.1 99.8h0M142.2 381.1h0M337.2 101.1h0M429.2 98.9h0M179.2 365.7h0M204.9 330.3h0M143.0 390.6h0M208.2 344.0h0M298.8 134.9h0M330.0 102.4h0M242.0 262.1h0M361.6 96.4h0M120.5 391.5h0M256.8 252.7h0M193.9 342.5h0M198.4 334.8h0M247.2 241.8h0M131.1 392.6h0M201.8 333.5h0M159.2 368.4h0M122.5 403.5h0M224.5 295.2h0M148.1 383.5h0M279.7 149.9h0M276.9 176.5h0M185.1 355.8h0M230.3 276.8h0M343.8 101.7h0M210.5 325.9h0M258.8 217.5h0M118.8 397.6h0M207.3 347.7h0M222.8 280.2h0M248.8 235.5h0M261.7 203.0h0M304.4 125.5h0M263.0 214.5h0M221.2 298.8h0M323.7 106.8h0M220.5 311.6h0M326.5 102.0h0M191.9 351.9h0M173.4 355.5h0M182.1 360.0h0M114.6 395.3h0M106.8 402.2h0M111.1 401.7h0M264.9 171.6h0M269.9 197.0h0M315.4 116.0h0M199.5 328.3h0M455.0 96.6h0M296.1 135.0h0M301.8 120.1h0M313.3 131.7h0M349.6 102.2h0M119.0 392.7h0M130.8 384.8h0M229.3 312.7h0M192.2 334.5h0M162.7 370.5h0M242.5 260.6h0M194.6 339.6h0M202.6 341.4h0M186.1 337.8h0M127.6 388.2h0M293.6 146.2h0M108.1 403.9h0M157.3 374.8h0M240.8 278.0h0M183.4 347.5h0M171.8 365.6h0M125.9 389.6h0M257.9 227.7h0M367.7 98.0h0M454.8 98.6h0M250.9 251.7h0M176.5 361.4h0M370.7 98.0h0M314.7 112.3h0M171.7 357.4h0M333.7 99.3h0M257.2 197.9h0M265.1 191.0h0M312.3 120.0h0M158.0 380.9h0M310.5 122.4h0M115.8 398.0h0M261.7 229.2h0M230.3 299.7h0M265.4 221.9h0M304.6 135.4h0M360.2 98.3h0M126.9 388.2h0M177.1 361.7h0M250.9 237.6h0M236.8 305.4h0M258.3 197.0h0M119.6 387.1h0M361.7 99.3h0M333.8 94.3h0M212.8 315.5h0M126.7 398.7h0M241.8 262.1h0M240.9 251.2h0M236.5 253.9h0M119.3 392.7h0M148.0 373.3h0M115.7 396.0h0M284.7 159.7h0M285.1 153.8h0M217.2 309.9h0M191.3 360.1h0M371.1 98.7h0M159.1 375.0h0M106.3 405.4h0M220.5 268.0h0M188.1 334.8h0M106.1 398.6h0M181.6 354.5h0M322.5 106.0h0M226.9 277.4h0M188.4 355.4h0M206.1 311.4h0M210.7 327.1h0M162.2 376.6h0M114.9 394.5h0M148.4 380.3h0M153.0 374.3h0M309.2 125.9h0M192.1 339.9h0M190.6 356.0h0M246.3 228.1h0M147.1 383.1h0M262.6 198.5h0M207.3 317.1h0M311.6 106.6h0M196.6 339.3h0M320.5 109.7h0M170.8 356.3h0M136.3 388.6h0M405.3 98.8h0M120.2 385.9h0M124.4 397.8h0M117.1 390.0h0M177.1 354.8h0M199.0 345.2h0M122.7 383.8h0M202.9 309.1h0M328.5 106.8h0M207.0 325.3h0M243.0 302.3h0M156.1 376.1h0M164.1 372.3h0M170.8 357.4h0M252.8 241.6h0M257.9 248.7h0M285.9 149.4h0M214.3 317.1h0M207.3 345.0h0M210.7 320.8h0M449.3 99.1h0M185.4 357.6h0M262.1 209.9h0M279.9 157.8h0M186.1 351.5h0M109.7 396.6h0M332.6 101.0h0M179.5 355.7h0M332.1 101.1h0M188.4 344.8h0M301.4 133.6h0M263.5 177.2h0M198.8 341.8h0M281.1 182.4h0M293.3 139.8h0M157.3 381.5h0M181.8 366.0h0M256.9 206.0h0M217.2 319.5h0M316.9 106.6h0M285.6 148.9h0M136.1 393.5h0M339.9 100.1h0M218.0 302.2h0M251.8 238.6h0M173.0 355.7h0M116.2 389.4h0M262.2 222.2h0M111.4 396.9h0M230.1 284.9h0M258.2 226.1h0M105.7 400.4h0M182.0 366.8h0M139.2 383.2h0M184.1 357.3h0M122.7 394.6h0M250.5 218.3h0M122.1 395.6h0M196.0 354.5h0M149.7 380.2h0M178.9 359.8h0M478.7 96.3h0M231.2 275.9h0M247.4 225.9h0M240.0 268.7h0M126.1 389.7h0M322.1 112.8h0M106.6 400.5h0M303.3 122.0h0M212.0 300.8h0M124.7 400.5h0M146.7 390.2h0M187.3 347.9h0M130.6 390.0h0M231.8 303.0h0M240.7 260.1h0M344.6 99.1h0M260.0 207.4h0M104.9 405.4h0M187.9 353.0h0M324.3 103.3h0M214.7 318.8h0M137.2 386.7h0M329.8 99.6h0M238.5 264.1h0M479.4 96.1h0M107.3 399.5h0M248.2 226.8h0M154.9 377.4h0M165.8 366.4h0M156.2 376.0h0M247.1 238.3h0M105.6 399.9h0M231.7 293.0h0M236.7 257.7h0M249.3 226.3h0M215.2 309.0h0M316.8 108.9h0M223.2 301.9h0M171.3 366.3h0M303.7 117.6h0M242.7 235.5h0M257.7 225.7h0M313.4 128.3h0M402.4 98.7h0M108.3 398.3h0M123.3 393.1h0M178.9 362.9h0M366.6 98.5h0M230.8 283.8h0M180.0 355.5h0M210.6 328.5h0M113.8 398.2h0M320.3 112.7h0M155.1 381.7h0M243.2 261.5h0M202.6 337.2h0M127.6 381.6h0M289.3 144.5h0M297.6 122.5h0M178.0 355.3h0M241.7 268.4h0M160.7 362.3h0M211.8 301.3h0M152.4 379.7h0M222.4 311.7h0M233.9 269.4h0M182.6 364.8h0M283.4 163.8h0M146.4 378.5h0M170.8 363.9h0M234.7 270.9h0M110.4 397.5h0M220.5 287.8h0M207.4 317.9h0M285.0 149.8h0M240.3 258.1h0M240.2 252.5h0M272.0 184.3h0M249.5 258.6h0M178.2 366.4h0M112.0 395.8h0M308.0 114.3h0M324.4 102.2h0M171.5 363.2h0M219.8 308.1h0M335.8 100.3h0M112.9 400.7h0M328.2 97.1h0M409.9 98.9h0M115.4 395.8h0M148.9 386.9h0M277.2 177.5h0M232.1 277.3h0M112.5 402.4h0M168.0 356.8h0M284.9 181.9h0M140.3 376.0h0M219.1 319.2h0M164.1 364.3h0M122.8 393.6h0M325.2 105.0h0M127.5 393.8h0M224.4 316.2h0M222.4 310.6h0M244.5 251.7h0M220.7 302.5h0M232.1 271.6h0M403.3 99.0h0M480.7 98.0h0M222.3 292.1h0M167.7 362.1h0M306.3 119.8h0M256.8 229.1h0M319.2 109.5h0M157.1 370.7h0M184.7 359.0h0M169.0 355.0h0M207.7 337.2h0M347.7 98.4h0M287.2 163.3h0M285.3 145.3h0M237.7 253.8h0M150.1 390.6h0M134.1 386.1h0M187.2 337.8h0M161.7 372.2h0M238.4 284.5h0M163.3 375.9h0M121.0 393.3h0M127.5 399.5h0M116.2 393.1h0M210.9 323.7h0M238.6 243.3h0M204.9 328.9h0M176.4 356.1h0M195.0 337.2h0M147.2 376.4h0M197.3 331.0h0M171.1 349.4h0M348.2 98.6h0M303.5 117.0h0M166.0 366.2h0M162.5 359.7h0M169.7 364.0h0M202.4 336.5h0M132.0 399.1h0M307.8 123.5h0M153.4 380.1h0M108.8 405.1h0M304.8 131.1h0M202.6 319.5h0M115.9 402.5h0M202.5 319.1h0M219.5 304.5h0M177.4 363.3h0M121.4 399.7h0M264.7 210.9h0M225.8 284.8h0M320.6 113.1h0M301.0 122.0h0M317.1 116.7h0M157.2 382.9h0M183.8 357.7h0M192.3 348.2h0M190.2 338.6h0M171.1 355.8h0M226.3 297.6h0M236.8 272.6h0M264.1 185.4h0M142.1 383.5h0M181.8 348.7h0M126.1 388.0h0M131.7 387.1h0M163.7 369.5h0M141.0 386.5h0M262.3 234.2h0M144.0 392.9h0M367.4 100.7h0M163.0 382.5h0M184.5 336.6h0M163.0 371.9h0M283.9 174.0h0M252.7 221.8h0M295.4 146.3h0M169.7 361.0h0M151.6 375.3h0M235.0 261.8h0M190.7 359.7h0M238.8 283.9h0M150.7 387.2h0M182.9 361.1h0M165.4 365.5h0M192.9 330.5h0M160.4 368.7h0M133.1 381.9h0M185.3 348.6h0M169.9 374.9h0M169.1 362.8h0M271.9 183.3h0M264.3 204.0h0M145.9 373.9h0M295.1 126.3h0M215.2 312.5h0M229.7 282.1h0M135.3 386.4h0M186.7 346.2h0M143.8 393.9h0M214.2 318.6h0M229.8 279.4h0M214.1 308.9h0M162.5 372.3h0M105.1 397.3h0M294.6 140.6h0M263.2 176.5h0M142.1 383.1h0M416.9 95.6h0M123.9 389.1h0M239.2 263.5h0M249.8 250.2h0M112.5 401.1h0M167.7 372.3h0M235.7 263.9h0M239.8 290.0h0M175.2 361.4h0M246.3 230.0h0M209.9 327.3h0M227.5 285.5h0M173.8 366.0h0M354.5 98.5h0M140.3 381.5h0M283.2 145.8h0M286.9 129.2h0M254.6 211.2h0M258.2 236.8h0M125.1 388.7h0M172.1 366.2h0M255.0 239.6h0M273.0 176.1h0M231.1 280.6h0M113.5 399.4h0M163.9 368.2h0M152.8 382.3h0M236.5 270.1h0M152.1 367.1h0M251.2 219.4h0M208.7 328.7h0M213.6 330.6h0M318.7 107.4h0M147.7 379.9h0M222.7 305.3h0M288.9 138.7h0M179.9 361.0h0M266.1 205.1h0M173.3 358.8h0M181.3 346.1h0M218.6 311.0h0M234.6 273.4h0M177.9 360.9h0M326.0 110.4h0M185.9 344.8h0M268.1 215.5h0M439.7 98.1h0M284.2 159.9h0M136.0 386.0h0M239.0 257.6h0M164.5 363.2h0M106.9 404.3h0M198.9 339.7h0M173.5 347.0h0M236.7 261.5h0M220.3 316.0h0M334.7 104.6h0M201.6 345.2h0M118.2 396.8h0M321.2 99.9h0M251.7 275.4h0M273.7 197.8h0M152.4 372.8h0M160.5 372.7h0M112.2 394.7h0M184.5 352.6h0M263.5 201.1h0M221.3 276.9h0M265.8 211.6h0M268.3 203.1h0M253.9 237.7h0M176.8 342.8h0M111.3 401.9h0M223.2 309.2h0M185.0 365.0h0M226.1 278.7h0M280.3 189.9h0M192.7 348.3h0M157.4 384.1h0M258.7 220.7h0M215.5 326.8h0M119.8 397.7h0M127.3 390.4h0M251.0 212.4h0M288.6 138.0h0M206.9 332.2h0M249.1 233.5h0M212.8 309.8h0M158.7 370.5h0M117.0 394.4h0M207.8 337.1h0M181.6 348.3h0M214.4 330.4h0M185.9 357.1h0M190.9 339.2h0M295.4 115.6h0M187.0 341.7h0M135.5 379.4h0M157.9 372.9h0M322.1 105.9h0M185.9 356.8h0M207.1 319.3h0M327.3 108.0h0M231.7 263.5h0M130.9 400.7h0M111.6 404.7h0M114.2 396.8h0M193.3 353.4h0M230.7 259.5h0M243.1 225.9h0M226.4 289.1h0M144.5 376.1h0M207.3 334.4h0M109.3 405.4h0M274.1 188.6h0M151.2 377.7h0M268.9 192.6h0M213.7 320.0h0M107.1 396.8h0M347.8 101.4h0M170.3 366.8h0M146.6 376.5h0M236.2 265.6h0M176.7 360.2h0M247.6 257.5h0M155.5 383.6h0M189.7 354.9h0M308.3 133.5h0M125.5 389.4h0M134.3 388.6h0M119.5 399.2h0M111.7 401.3h0M342.7 97.7h0M237.0 282.9h0M118.1 387.0h0M201.3 346.8h0M191.0 356.4h0M286.3 162.2h0M110.1 386.9h0M190.9 352.2h0M112.8 397.6h0M125.1 395.4h0M155.2 374.7h0M116.6 397.3h0M113.2 394.2h0M182.1 359.5h0M134.7 386.3h0M257.3 233.9h0M204.0 313.4h0M284.3 168.8h0M234.1 259.8h0M291.4 144.8h0M140.4 388.5h0M139.4 377.5h0M261.0 230.3h0M190.5 343.3h0M122.9 393.4h0M137.9 389.9h0M247.3 244.6h0M238.5 263.8h0M235.8 255.4h0M112.6 396.3h0M204.1 325.6h0M322.3 114.2h0M273.5 192.7h0M229.2 265.9h0M108.4 402.5h0M162.7 370.6h0M158.6 359.2h0M169.3 374.9h0M240.0 239.0h0M198.0 353.0h0M416.6 97.7h0M231.1 281.4h0M229.6 301.7h0M133.7 388.6h0M254.6 236.7h0M206.6 310.3h0M198.8 331.5h0M362.3 101.7h0M202.4 322.2h0M319.8 110.5h0M109.0 397.8h0M156.4 373.5h0M220.1 287.4h0M243.1 255.5h0M301.0 119.7h0M229.7 269.3h0M287.3 148.4h0M325.8 106.2h0M214.4 298.6h0M210.4 321.2h0M166.4 355.5h0M132.2 391.5h0M222.5 290.4h0M331.7 103.2h0M166.3 368.0h0M242.2 253.5h0M106.9 405.4h0M188.0 340.0h0M128.2 391.2h0M121.6 394.7h0M173.5 357.3h0M168.7 373.3h0M213.4 310.7h0M158.3 369.8h0M260.8 208.7h0M116.9 395.8h0M317.9 108.5h0M169.4 361.3h0M234.7 252.0h0M216.3 318.9h0M112.2 404.6h0M227.9 276.3h0M259.1 218.4h0M214.4 280.9h0M283.7 137.9h0M308.8 117.5h0M314.8 102.1h0M153.8 381.1h0M217.0 333.4h0M399.3 99.1h0M258.7 208.0h0M182.2 356.2h0M273.1 186.2h0M194.4 350.3h0M250.3 224.0h0M270.6 195.7h0M246.9 247.1h0M143.6 373.3h0M161.0 370.4h0M201.2 340.2h0M308.4 112.8h0M229.2 256.6h0M345.4 99.3h0M289.1 132.3h0M229.7 282.1h0M255.3 210.7h0M279.3 167.7h0M376.9 99.2h0M165.1 367.5h0M168.4 363.8h0M211.2 341.9h0M315.5 102.9h0M299.0 119.7h0M156.8 371.6h0M185.2 344.5h0M207.6 325.0h0M207.2 335.2h0M332.1 101.3h0M211.9 322.1h0M132.3 386.1h0M154.4 374.2h0M174.9 369.3h0M226.7 298.4h0M155.7 370.1h0M119.1 398.6h0M216.4 290.7h0M116.0 396.8h0M217.3 320.7h0M162.1 370.8h0M310.1 122.1h0M322.7 104.7h0M166.4 367.1h0M117.5 393.3h0M266.2 197.9h0M345.5 97.1h0M251.0 234.0h0M312.4 119.6h0M201.3 328.5h0M326.3 107.2h0M323.9 98.8h0M169.0 367.8h0M105.1 402.3h0M133.7 394.5h0M156.8 370.3h0M265.5 214.4h0M254.3 218.0h0M190.3 346.6h0M181.1 358.6h0M177.6 369.5h0M310.7 113.3h0M133.3 369.3h0M255.5 232.0h0M234.7 277.9h0M129.0 393.2h0M249.6 234.8h0M155.7 368.4h0M190.6 305.3h0M200.7 313.5h0M239.6 263.8h0M275.8 176.1h0M262.0 197.7h0M153.9 369.2h0M154.7 380.8h0M152.3 373.2h0M110.8 399.6h0M140.9 379.6h0M129.8 390.3h0M177.5 359.5h0M208.6 323.7h0M124.2 386.6h0M329.6 97.5h0M197.9 340.3h0M263.8 207.5h0M228.1 289.8h0M134.2 382.9h0M341.8 100.8h0M183.2 359.0h0M181.2 345.6h0M303.8 119.2h0M356.0 98.0h0M111.6 399.1h0M314.8 103.1h0M161.4 374.3h0M122.7 396.6h0M197.3 333.1h0M245.1 240.2h0M236.6 258.1h0M352.7 96.7h0M246.6 231.4h0M158.1 372.8h0M178.7 353.5h0M200.1 343.8h0M467.8 98.2h0M226.6 267.9h0M155.3 371.7h0M228.1 305.6h0M236.1 269.3h0M123.4 391.5h0M178.9 371.9h0M158.7 368.9h0M131.7 392.1h0M195.8 341.7h0M292.4 136.1h0M136.9 386.1h0M309.3 152.7h0M105.0 404.3h0M310.2 113.1h0M122.0 391.1h0M111.5 395.2h0M207.2 339.0h0M205.2 328.2h0M115.9 393.3h0M344.0 100.7h0M145.4 379.8h0M187.2 350.9h0M160.3 373.0h0M121.1 388.8h0M205.5 335.1h0M107.1 397.7h0M192.5 351.1h0M364.8 97.7h0M117.9 398.8h0M182.7 355.4h0M231.6 294.2h0M137.7 393.8h0M277.0 192.9h0M285.6 159.1h0M121.8 396.8h0M216.6 316.2h0M118.4 404.4h0M204.4 333.5h0M248.1 251.3h0M195.6 345.5h0M210.5 313.1h0M139.4 389.2h0M125.3 389.0h0M150.5 373.4h0M174.2 366.1h0M236.5 289.0h0M108.3 392.5h0M181.6 359.3h0M202.5 326.9h0M143.3 378.2h0M299.3 115.5h0M281.1 171.2h0M124.3 390.9h0M192.1 344.2h0M237.3 307.4h0M138.8 385.4h0M217.8 313.8h0M106.3 395.1h0M183.5 353.9h0M282.4 155.0h0M277.0 151.3h0M168.3 364.8h0M148.1 378.3h0M224.5 287.4h0M254.5 223.4h0M179.3 349.7h0M165.3 370.3h0M256.4 224.8h0M364.4 98.9h0M262.8 214.1h0M155.5 380.2h0M225.4 258.2h0M285.2 153.5h0M168.3 370.6h0M143.8 378.0h0M224.0 271.4h0M150.4 380.3h0M314.1 113.7h0M235.0 263.9h0M138.6 388.8h0M133.6 390.8h0M138.4 383.1h0M257.3 206.4h0M170.4 371.2h0M211.6 322.2h0M258.9 225.3h0M145.7 376.1h0M205.0 337.5h0M301.5 126.9h0M198.1 335.3h0M198.5 332.7h0M382.5 100.4h0M238.1 271.8h0M248.6 238.7h0M174.0 363.2h0M206.9 302.8h0M207.6 319.4h0M250.6 229.7h0M226.2 296.0h0M120.0 385.7h0M135.9 388.0h0M239.7 275.4h0M122.4 400.1h0M214.3 317.6h0M285.2 158.5h0M297.6 118.1h0M127.3 390.0h0M122.0 395.5h0M318.2 115.9h0M148.8 380.0h0M155.4 368.3h0M197.0 345.5h0M175.4 373.8h0M219.7 301.1h0M384.5 99.2h0M191.2 358.1h0M125.8 384.2h0M201.5 339.0h0M132.5 391.7h0M162.2 362.8h0M186.3 360.0h0M269.9 200.8h0M191.3 332.3h0M269.2 194.2h0M186.6 364.2h0M387.3 98.6h0M189.5 355.8h0M199.4 350.0h0M210.6 334.2h0M180.5 356.5h0M177.6 353.4h0M123.6 389.8h0M118.9 391.6h0M163.4 366.4h0M140.3 387.9h0M170.4 360.2h0M125.1 391.9h0M313.0 121.9h0M119.4 389.4h0M210.1 318.6h0M219.3 276.4h0M121.7 396.0h0M121.0 394.9h0M327.2 110.5h0M192.5 345.3h0M128.0 393.4h0M317.4 114.4h0M139.0 391.1h0M204.2 343.3h0M313.9 113.8h0M128.9 399.8h0M231.7 274.0h0M197.8 339.7h0M268.8 211.3h0M164.8 365.6h0M272.8 176.4h0M219.8 296.0h0M363.1 98.5h0M337.7 98.6h0M314.0 110.6h0M215.1 290.0h0M128.7 384.6h0M305.8 146.5h0M203.3 325.6h0M250.7 220.8h0M195.9 339.3h0M196.1 356.0h0M198.0 335.0h0M162.6 373.5h0M231.6 257.9h0M256.0 221.2h0M218.3 297.3h0M244.4 271.7h0M345.5 98.1h0M252.7 239.1h0M220.4 295.7h0M166.8 368.1h0M290.7 157.0h0M218.0 311.8h0M241.3 239.9h0M255.2 213.0h0M134.3 388.5h0M180.8 353.8h0M345.4 100.9h0M231.2 258.7h0M229.4 267.0h0M142.9 388.9h0M187.7 357.7h0M365.5 98.4h0M203.5 339.4h0M160.2 361.0h0M169.1 361.6h0M193.1 364.7h0M158.5 370.8h0M217.9 306.4h0M224.4 293.2h0M113.5 396.6h0M124.3 384.8h0M226.6 312.5h0M256.8 216.4h0M193.5 342.6h0M113.9 396.1h0M163.9 355.3h0M122.6 400.8h0M232.7 263.1h0M227.0 287.3h0M245.9 228.0h0M261.5 237.9h0M164.6 380.1h0M131.0 390.4h0M153.7 378.1h0M133.7 392.5h0M254.9 209.0h0M119.4 401.5h0M165.9 371.2h0M139.2 385.5h0M219.0 298.4h0M237.6 245.9h0M250.6 215.2h0M416.2 97.3h0M396.3 99.1h0M382.3 98.9h0M176.2 355.5h0M147.1 377.8h0M123.3 394.4h0M201.8 335.0h0M201.0 341.6h0M398.3 98.6h0M248.8 257.7h0M157.0 382.7h0M307.2 120.0h0M195.3 336.7h0M115.1 403.2h0M262.5 223.5h0M306.6 113.3h0M177.7 361.4h0M170.1 364.2h0M188.3 356.3h0M230.3 262.5h0M487.4 98.8h0M217.8 293.8h0M212.5 323.3h0M269.5 202.3h0M139.9 389.8h0M230.7 275.6h0M131.8 390.2h0M157.5 369.7h0M145.6 372.8h0M304.3 125.7h0M151.8 383.0h0M315.0 111.3h0M107.3 404.3h0M227.0 312.7h0M284.8 154.8h0M260.4 214.8h0M124.1 386.4h0M214.4 333.8h0M119.0 396.3h0M151.4 376.2h0M154.0 380.1h0M190.6 348.5h0M286.3 156.9h0M113.0 395.6h0M196.5 334.0h0M210.7 328.2h0M109.8 404.8h0M214.8 307.5h0M293.3 137.5h0M198.7 330.6h0M205.3 327.5h0M185.2 357.6h0M240.5 253.1h0M231.6 266.5h0M168.5 363.2h0M336.3 101.7h0M161.6 373.4h0M254.7 224.7h0M189.7 338.4h0M212.9 323.8h0M115.8 394.7h0M191.3 341.6h0M142.7 375.0h0M223.2 315.7h0M227.3 295.3h0M154.6 372.1h0M264.1 214.7h0M480.9 97.7h0M111.5 400.7h0M315.3 117.9h0M210.9 319.3h0M215.0 311.0h0M228.4 312.2h0M411.1 97.9h0M122.6 388.7h0M220.4 317.1h0M356.3 97.7h0M383.3 98.6h0M170.1 362.2h0M258.8 227.4h0M294.4 129.1h0M278.9 171.9h0M250.8 217.6h0M167.7 362.6h0M133.8 392.8h0M166.0 360.9h0M311.0 120.9h0M259.0 246.7h0M325.2 103.3h0M208.8 319.8h0M288.0 130.1h0M229.8 273.0h0M234.4 291.3h0M254.7 225.3h0M140.5 380.1h0M276.6 194.8h0M260.3 216.8h0M274.3 168.3h0M136.5 385.3h0M117.4 398.4h0M221.2 290.1h0M240.9 259.3h0M134.2 389.1h0M404.0 99.1h0M125.8 395.4h0M180.1 374.3h0M167.2 372.0h0M114.1 394.5h0M171.9 353.7h0M284.3 188.0h0M288.2 159.8h0M115.5 393.1h0M358.0 97.8h0M324.6 105.8h0M152.3 378.5h0M160.1 366.3h0M311.2 111.7h0M294.1 142.5h0M245.1 243.6h0M123.3 393.5h0M279.2 167.6h0M282.9 207.7h0M187.7 349.2h0M209.0 307.1h0M172.1 364.3h0M279.3 182.8h0M468.7 97.9h0M130.8 386.1h0M121.8 393.4h0M190.1 354.5h0M321.6 115.6h0M263.6 194.0h0M211.5 319.7h0M211.0 320.4h0M299.5 121.1h0M306.3 133.4h0M267.7 185.9h0M301.6 136.6h0M146.8 373.8h0M210.1 323.3h0M186.2 338.6h0M269.0 205.5h0M169.0 370.7h0M273.8 183.2h0M155.7 373.9h0M171.4 371.1h0M134.4 385.6h0M243.7 233.4h0M128.4 396.1h0M153.9 367.7h0M237.2 262.6h0M174.0 360.6h0M217.4 306.1h0M261.7 192.2h0M225.8 329.2h0M198.4 327.6h0M178.9 348.5h0M278.7 171.3h0M184.9 347.8h0M217.0 298.8h0M134.3 380.4h0M109.6 404.3h0M260.2 204.3h0M156.9 374.0h0M231.3 260.6h0M161.5 372.3h0M278.5 188.4h0M300.2 126.6h0M193.7 353.4h0M278.4 194.4h0M258.4 220.0h0M329.1 104.2h0M246.4 248.1h0M174.2 352.7h0M126.0 398.5h0M117.7 405.1h0M278.9 128.8h0M179.8 368.4h0M199.1 335.9h0M125.6 392.4h0M356.0 98.7h0M324.2 103.3h0M109.3 400.6h0M289.5 173.3h0M185.7 361.2h0M156.9 378.7h0M165.5 367.0h0M243.9 249.3h0M173.3 346.6h0M135.3 383.3h0M170.3 358.5h0M112.7 401.0h0M257.5 241.9h0M131.8 390.6h0M163.9 379.8h0M218.1 320.3h0M184.5 349.3h0M301.8 121.7h0M169.0 355.1h0M139.4 377.8h0M446.3 96.7h0M194.4 341.5h0M111.4 402.0h0M238.8 276.4h0M304.4 131.0h0M116.6 403.1h0M232.0 270.8h0M161.9 381.7h0M230.3 274.9h0M151.7 373.0h0M319.6 111.7h0M191.5 347.7h0M212.7 313.7h0M196.3 336.3h0M169.4 364.9h0M293.6 130.4h0M278.9 183.7h0M147.7 379.0h0M259.9 223.9h0M143.8 383.8h0M236.8 260.1h0M317.6 115.1h0M201.2 334.3h0M139.1 383.2h0M258.9 215.3h0M229.2 296.1h0M283.4 183.2h0M139.0 379.5h0M114.5 401.2h0M214.5 324.0h0M306.5 117.1h0M248.4 252.7h0M225.4 290.4h0M232.2 271.8h0M173.3 364.5h0M360.2 97.2h0M148.3 372.9h0M243.3 246.7h0M122.8 394.2h0M176.2 366.5h0M168.1 360.9h0M175.3 358.0h0M111.2 396.7h0M168.8 371.7h0M179.9 342.2h0M178.4 357.8h0M188.8 355.7h0M186.6 348.9h0M155.5 380.9h0M289.7 155.1h0M201.6 344.7h0M124.8 398.0h0M249.9 229.4h0M293.3 127.7h0M231.4 278.8h0M125.8 395.3h0M138.5 388.0h0M144.0 379.1h0M147.7 382.1h0M151.7 382.9h0M242.2 266.1h0M138.8 387.3h0M186.3 359.6h0M287.4 149.8h0M156.1 380.2h0M200.4 347.4h0M232.5 283.9h0M181.3 352.3h0M106.5 405.0h0M338.2 100.8h0M120.2 396.2h0M194.4 350.3h0M128.7 391.2h0M218.7 317.1h0M151.4 377.9h0M327.1 101.2h0M154.9 378.0h0M164.7 373.9h0M192.6 335.1h0M150.1 376.4h0M121.8 389.2h0M158.8 372.6h0M221.0 311.1h0M485.2 98.4h0M266.6 212.4h0M314.0 118.7h0M429.7 98.7h0M210.2 315.1h0M211.9 315.6h0M245.2 266.2h0M330.3 111.3h0M163.1 363.1h0M316.7 102.7h0M115.0 396.1h0M236.8 261.2h0M262.8 216.5h0M293.6 154.7h0M228.9 270.3h0M289.4 150.9h0M334.1 98.3h0M154.3 372.2h0M145.8 375.7h0M287.5 148.1h0M119.7 397.3h0M169.7 363.6h0M178.3 361.0h0M114.5 395.0h0M253.9 207.6h0M226.9 304.7h0M228.3 287.9h0M165.6 367.9h0M208.0 341.1h0M130.7 378.6h0M238.0 265.6h0M170.8 357.9h0M199.4 338.8h0M209.8 323.2h0M145.0 371.4h0M299.3 118.9h0M182.7 358.1h0M197.1 338.6h0M291.8 142.1h0M128.7 389.4h0M374.3 99.6h0M278.5 177.0h0M108.2 393.8h0M204.1 344.0h0M302.2 127.6h0M216.8 320.3h0M236.2 269.4h0M222.7 289.3h0M223.8 318.4h0M202.5 334.2h0M176.8 362.2h0M182.3 352.7h0M238.5 256.8h0M168.3 365.4h0M312.1 123.8h0M319.4 101.9h0M178.8 359.9h0M153.6 378.3h0M124.0 393.9h0M248.0 217.8h0M198.7 346.4h0M183.8 353.7h0M252.9 244.6h0M106.8 400.9h0M430.5 98.7h0M298.7 122.3h0M314.3 122.0h0M319.3 99.4h0M234.1 283.5h0M125.6 391.8h0M264.2 208.8h0M188.9 344.5h0M353.6 98.3h0M279.4 169.8h0M242.6 242.4h0M143.8 386.1h0M156.4 367.6h0M288.8 157.8h0M283.8 126.7h0M214.0 309.2h0M487.9 95.7h0M255.1 228.0h0M310.0 111.9h0M194.1 354.1h0M163.0 369.2h0M181.1 363.0h0M128.1 389.7h0M173.2 363.3h0M111.5 400.4h0M163.4 360.8h0M185.3 345.9h0M247.7 247.6h0M294.3 133.5h0M133.3 382.0h0M255.6 247.5h0M309.7 119.1h0M301.8 134.0h0M128.1 392.2h0M134.3 381.8h0M168.2 370.2h0M262.0 205.0h0M167.0 373.2h0M160.6 370.5h0M352.6 100.2h0M127.8 391.3h0M114.2 392.6h0M220.0 288.7h0M128.7 398.2h0M230.4 272.2h0M132.8 395.1h0M176.1 362.3h0M296.4 134.9h0M158.4 373.3h0M133.5 391.0h0M179.4 346.5h0M337.2 101.7h0M121.3 396.3h0M210.9 316.0h0M304.9 119.1h0M152.0 372.1h0M215.2 317.4h0M434.3 99.7h0M272.9 202.4h0M186.8 361.6h0M201.3 328.6h0M198.5 321.1h0M222.0 299.0h0M293.6 141.9h0M253.3 210.5h0M219.5 313.8h0M161.6 368.4h0M332.8 101.1h0M306.3 132.1h0M175.8 344.4h0M106.5 399.2h0M409.9 100.4h0M255.9 222.3h0M309.8 113.1h0M207.9 324.0h0M225.0 292.8h0M180.6 358.2h0M110.4 398.7h0M203.5 334.2h0M242.8 232.7h0M324.4 106.1h0M231.8 285.0h0M152.0 372.1h0M109.5 398.8h0M142.6 396.3h0M263.3 225.8h0M188.0 357.1h0M139.7 386.1h0M380.1 100.1h0M140.6 380.5h0M216.6 313.6h0M118.7 394.9h0M303.7 129.4h0M314.7 122.9h0M224.1 287.8h0M154.7 369.3h0M179.7 349.9h0M254.0 237.2h0M140.7 386.4h0M296.8 143.4h0M459.6 99.1h0M160.6 362.8h0M211.0 326.1h0M274.8 203.7h0M136.4 396.1h0M245.6 278.8h0M296.7 133.1h0M314.0 107.6h0M318.1 104.0h0M315.8 112.5h0M289.4 141.0h0M280.2 156.7h0M125.5 385.6h0M250.3 240.1h0M124.4 390.6h0M219.4 300.5h0M120.0 395.4h0M174.3 360.5h0M306.7 123.2h0M272.9 181.0h0M208.3 312.6h0M214.5 331.5h0M495.7 99.2h0M191.3 347.0h0M278.4 173.1h0M333.1 99.9h0M427.9 99.1h0M343.5 100.4h0M106.1 400.9h0M165.2 366.0h0M170.2 368.2h0M209.2 342.2h0M414.4 97.7h0M134.1 382.0h0M164.7 370.7h0M230.8 294.8h0M279.6 170.7h0M140.6 389.6h0M340.8 99.1h0M325.6 99.1h0M218.0 289.1h0M129.8 382.2h0M234.7 278.5h0M286.8 158.3h0M144.6 373.7h0M117.4 396.4h0M119.1 400.0h0M214.9 310.7h0M250.7 231.6h0M131.1 394.5h0M114.6 396.0h0M129.3 391.2h0M235.8 296.6h0M161.1 362.5h0M213.7 320.8h0M246.7 274.3h0M278.7 164.6h0M117.8 401.6h0M293.9 127.2h0M459.0 99.6h0M185.8 350.5h0M140.2 386.1h0M186.0 357.4h0M107.4 405.4h0M280.7 176.9h0M239.1 263.0h0M210.5 321.1h0M311.3 117.4h0M202.5 339.7h0M177.1 353.6h0M438.9 96.5h0M199.6 338.5h0M131.1 384.2h0M286.7 141.6h0M179.2 365.1h0M174.9 359.8h0M202.0 329.6h0M145.9 377.8h0M242.3 262.9h0M237.6 238.6h0M156.8 369.9h0M186.5 344.5h0M280.0 182.1h0M106.8 405.1h0M299.2 127.3h0M333.7 101.1h0M177.5 361.5h0M318.7 104.6h0M278.7 147.6h0M137.6 385.5h0M143.7 381.1h0M303.5 133.8h0M158.9 371.8h0M179.9 357.4h0M140.0 382.8h0M345.8 98.6h0M224.6 285.0h0M109.1 400.9h0M109.3 395.5h0M138.3 386.5h0M372.7 99.8h0M148.0 383.3h0M174.7 362.4h0M115.7 393.4h0M217.8 314.2h0M188.0 338.8h0M190.5 345.6h0M243.6 259.7h0M112.2 392.5h0M308.9 106.5h0M178.2 342.9h0M313.2 132.8h0M313.0 117.1h0M253.4 226.8h0M318.4 113.9h0M281.5 168.7h0M289.5 155.9h0M131.5 388.2h0M309.0 113.6h0M175.7 357.4h0M112.2 396.2h0M146.1 383.2h0M146.9 368.5h0M288.2 152.4h0M145.0 377.4h0M143.4 381.0h0M346.8 99.9h0M136.1 387.2h0M215.2 306.4h0M230.4 290.3h0M167.4 350.2h0M416.7 97.8h0M245.1 259.4h0M113.7 398.7h0M272.7 204.1h0M251.7 234.6h0M138.1 386.2h0M169.9 365.2h0M374.7 98.2h0M197.5 338.8h0M154.2 378.5h0M446.0 96.9h0M257.8 205.9h0M120.8 385.2h0M212.4 335.9h0M326.4 103.0h0M186.2 346.1h0M122.5 391.0h0M286.0 154.6h0M226.0 287.9h0M121.4 398.4h0M177.7 358.9h0M284.7 157.4h0M203.8 332.8h0M370.5 97.9h0M289.4 141.9h0M146.4 378.9h0M238.6 286.3h0M133.2 396.3h0M151.1 381.1h0M166.8 373.9h0M317.6 114.6h0M107.4 405.4h0M240.4 234.2h0M187.2 355.7h0M239.4 245.5h0M277.8 173.2h0M186.2 347.4h0M144.0 379.0h0M251.9 218.3h0M152.4 367.8h0M173.1 372.0h0M207.1 329.6h0M144.6 384.5h0M156.9 377.3h0M356.2 99.0h0M134.8 384.9h0M210.0 332.6h0M237.7 259.5h0M120.3 396.3h0M162.7 368.1h0M167.4 363.1h0M189.4 356.9h0M181.0 360.2h0M187.5 343.5h0M105.7 401.5h0M318.4 104.7h0M135.8 381.0h0M138.9 391.2h0M312.5 113.2h0M232.8 290.8h0M107.4 405.4h0M140.4 386.0h0M409.5 96.4h0M204.1 341.8h0M218.1 304.2h0M138.3 389.5h0M253.1 238.7h0M265.7 155.8h0M292.7 135.2h0M178.3 355.3h0M198.3 327.5h0M229.6 286.0h0M273.0 175.9h0M161.3 375.1h0M416.6 99.2h0M337.8 98.5h0M161.0 377.1h0M109.0 397.1h0M158.6 383.5h0M290.3 143.8h0M149.9 381.1h0M116.0 399.4h0M163.5 371.2h0M149.2 371.5h0M112.5 399.0h0M228.9 279.8h0M189.4 356.4h0M207.9 320.4h0M436.7 99.3h0M260.8 216.6h0M150.6 370.3h0M218.2 307.4h0M136.1 390.0h0M267.2 174.0h0M129.7 387.3h0M320.9 108.0h0M336.6 103.9h0M179.8 357.6h0M179.9 358.9h0M220.8 299.7h0M154.5 352.7h0M209.7 324.8h0M216.9 310.6h0M190.5 351.6h0M132.3 388.1h0M366.0 97.8h0M179.2 366.2h0M140.6 390.3h0M149.0 388.8h0M154.9 379.6h0M360.1 98.6h0M121.5 396.6h0M182.4 347.8h0M217.8 327.2h0M226.8 298.3h0M109.2 402.8h0M186.8 345.9h0M199.7 331.8h0M244.7 251.3h0M199.2 335.9h0M210.8 332.6h0M335.7 102.7h0M300.2 137.0h0M154.7 383.5h0M197.4 342.5h0M233.6 277.3h0M232.3 281.1h0M304.3 117.8h0M204.2 342.2h0M258.5 230.9h0M356.7 99.1h0M189.0 335.6h0M260.6 214.5h0M470.3 98.1h0M107.0 397.3h0M205.6 316.4h0M315.8 107.4h0M177.0 353.3h0M163.8 370.2h0M132.7 387.9h0M376.0 100.0h0M159.4 372.0h0M154.5 377.1h0M417.6 97.3h0M165.0 378.3h0M265.7 191.4h0M232.2 286.9h0M161.5 377.4h0M183.1 355.1h0M177.7 361.7h0M234.4 265.8h0M258.9 211.0h0M210.8 318.5h0M161.5 366.4h0M250.3 231.0h0M220.9 293.0h0M134.2 387.3h0M195.6 346.8h0M412.2 98.7h0M214.4 313.0h0M173.1 368.5h0M164.2 378.5h0M191.7 337.9h0M209.3 321.3h0M234.8 275.6h0M141.9 379.9h0M141.3 385.5h0M144.1 380.2h0M152.1 381.4h0M208.5 317.3h0M145.3 384.3h0M178.6 352.0h0M133.4 387.0h0M286.3 153.3h0M187.6 355.9h0M164.0 380.8h0M226.9 309.3h0M257.2 211.5h0M132.4 392.7h0M234.1 274.5h0M334.5 105.2h0M404.9 98.8h0M237.5 246.2h0M371.8 97.7h0M369.0 100.5h0M226.5 264.4h0M227.7 265.2h0M349.9 97.6h0M228.1 295.2h0M174.6 366.8h0M190.0 341.6h0M230.0 289.8h0M128.3 391.3h0M272.1 187.5h0M163.4 363.0h0M204.1 321.0h0M255.7 224.2h0M247.3 255.2h0M244.4 230.3h0M138.2 384.3h0M206.9 327.0h0M221.4 322.1h0M244.8 248.0h0M193.5 343.5h0M109.3 400.7h0M202.4 342.8h0M155.3 377.1h0M235.7 256.0h0M309.0 129.8h0M211.3 318.8h0M179.8 345.1h0M297.5 120.7h0M218.0 309.1h0M155.9 370.7h0M223.9 304.0h0M256.5 222.1h0M180.2 369.5h0M300.8 139.1h0M155.3 368.7h0M247.5 230.5h0M325.9 107.4h0M114.0 390.4h0M262.9 190.3h0M174.9 351.8h0M150.0 380.0h0M308.8 113.5h0M135.2 389.5h0M256.4 213.8h0M244.9 263.9h0M252.3 227.3h0M309.5 118.3h0M418.9 98.1h0M121.9 389.1h0M261.6 231.7h0M134.3 388.4h0M109.0 393.8h0M252.1 218.0h0M201.2 338.6h0M264.7 196.6h0M307.0 126.3h0M224.4 309.9h0M188.8 341.5h0M171.6 365.3h0M153.4 369.5h0M108.0 401.0h0M124.9 394.2h0M139.3 393.2h0M148.1 369.3h0M130.2 389.2h0M144.7 390.7h0M306.6 140.6h0M223.6 291.4h0M193.5 336.0h0M213.0 318.3h0M184.5 347.3h0M246.4 250.9h0M305.0 120.5h0M128.3 388.4h0M262.8 221.6h0M229.4 289.4h0M208.3 321.2h0M137.5 390.7h0M195.7 351.1h0M330.7 109.1h0M214.7 321.1h0M253.9 236.4h0M220.4 304.3h0M261.9 228.7h0M163.7 359.4h0M245.3 227.5h0M136.4 386.0h0M158.3 371.9h0M120.7 398.6h0M427.3 97.7h0M267.5 212.4h0M223.4 291.4h0M120.5 398.7h0M172.5 364.5h0M195.4 346.0h0M149.9 380.0h0M140.9 382.2h0M197.5 355.3h0M352.3 97.0h0M352.1 99.3h0M220.8 316.3h0M151.8 373.2h0M206.7 326.1h0M239.3 284.6h0M329.0 99.6h0M299.6 128.9h0M168.2 362.5h0M154.3 375.1h0M264.4 212.4h0M218.5 319.4h0M108.7 401.3h0M279.6 155.6h0M171.5 368.2h0M302.2 118.2h0M189.0 358.6h0M192.1 346.8h0M247.8 244.5h0M266.3 214.9h0M209.5 308.1h0M166.2 378.1h0M345.9 97.8h0M227.9 241.9h0M154.4 383.8h0M147.1 387.4h0M327.5 106.7h0M232.5 270.3h0M152.0 377.0h0M200.4 340.3h0M172.9 356.8h0M291.6 129.8h0M209.3 319.4h0M170.7 372.1h0M197.4 343.7h0M435.4 97.7h0M186.1 352.3h0M155.7 377.5h0M187.0 351.5h0M437.8 98.8h0M116.1 398.9h0M147.5 380.1h0M263.0 201.2h0M132.5 388.0h0M213.6 321.9h0M347.5 100.7h0M162.6 365.0h0M302.5 127.2h0M159.3 372.9h0M204.7 332.7h0M213.9 319.1h0M172.3 359.4h0M176.5 351.5h0M307.7 111.6h0M241.2 249.1h0M111.9 393.7h0M135.2 386.5h0M134.9 389.7h0M185.1 348.1h0M112.9 402.9h0M302.6 113.7h0M283.0 172.1h0M169.6 355.7h0M210.3 317.6h0M303.4 121.1h0M198.8 335.9h0M231.3 273.5h0M345.4 99.8h0M290.0 151.8h0M209.1 322.9h0M291.7 146.2h0M233.7 240.6h0M316.1 120.5h0M309.4 121.5h0M138.3 385.7h0M269.3 170.0h0M260.0 224.4h0M187.7 356.3h0M300.1 135.6h0M194.5 331.2h0M181.7 356.3h0M105.1 402.3h0M300.9 133.5h0M256.9 214.5h0M147.4 376.9h0M270.9 188.1h0M413.0 97.1h0M440.1 98.0h0M205.5 334.9h0M175.0 366.9h0M190.2 352.6h0M168.8 366.0h0M344.8 98.1h0M183.8 351.2h0M284.6 148.7h0M128.8 380.8h0M320.4 101.5h0M214.5 326.4h0M157.5 375.7h0M151.8 376.8h0M259.0 214.5h0M257.7 224.6h0M190.1 349.6h0M202.9 335.4h0M272.8 191.4h0M173.6 379.7h0M344.1 98.3h0M224.8 304.8h0M245.8 252.2h0M343.0 99.6h0M196.2 341.2h0M277.0 150.1h0M188.9 355.8h0M221.0 294.2h0M221.1 313.7h0M119.5 401.9h0M253.0 233.9h0M247.7 257.0h0M118.7 394.7h0M349.8 100.9h0M450.7 99.8h0M344.8 96.8h0M256.8 225.1h0M203.7 328.9h0M247.8 229.9h0M107.9 404.6h0M213.9 310.1h0M108.1 395.0h0M168.3 366.4h0M222.7 300.9h0M380.5 99.5h0M220.3 296.5h0M142.5 384.4h0M137.6 380.0h0M239.0 276.9h0M214.1 313.2h0M111.8 396.5h0M255.9 216.9h0M224.3 301.4h0M195.9 335.9h0M304.9 121.6h0M276.4 165.8h0M227.0 298.9h0M138.0 379.9h0M108.1 392.4h0M138.4 375.0h0M288.8 144.1h0M178.7 355.9h0M217.0 311.2h0M128.6 387.8h0M358.4 97.4h0M131.0 379.4h0M145.2 378.2h0M215.8 312.3h0M335.6 98.1h0M482.7 98.9h0M261.9 189.4h0M169.7 366.0h0M233.9 263.6h0M155.3 379.8h0M212.8 309.4h0M220.9 282.1h0M110.8 405.2h0M359.1 100.1h0M210.6 305.4h0M160.1 368.8h0M182.1 353.3h0M120.7 399.6h0M246.7 236.0h0M219.4 316.5h0M195.4 356.4h0M132.0 383.1h0M226.8 311.6h0M326.9 98.2h0M326.3 96.0h0M197.1 332.9h0M213.4 313.0h0M317.4 109.5h0M133.2 391.2h0M126.4 387.9h0M408.0 96.7h0M273.7 169.9h0M273.3 175.8h0M242.7 264.3h0M190.8 349.5h0M127.7 392.0h0M135.7 387.9h0M132.6 391.0h0M272.0 175.1h0M110.1 401.5h0M116.8 399.9h0M201.1 339.2h0M120.3 395.0h0M190.0 350.2h0M162.0 372.2h0M204.1 319.4h0M263.2 206.6h0M123.4 392.4h0M204.1 313.1h0M164.6 368.0h0M199.7 337.7h0M217.6 316.8h0M198.1 346.4h0M189.6 366.6h0M215.1 311.5h0M203.8 343.9h0M181.8 367.1h0M114.1 399.9h0M354.1 98.5h0M239.5 270.3h0M265.8 201.5h0M270.0 207.7h0M276.5 173.8h0M354.2 96.9h0M109.7 397.0h0M169.1 370.9h0M288.3 152.7h0M191.5 346.1h0M269.4 194.4h0M152.2 370.1h0M283.4 172.1h0M190.1 343.4h0M206.3 312.2h0M306.2 116.6h0M227.2 285.8h0M326.8 102.6h0M389.3 98.6h0M139.6 389.4h0M187.0 333.8h0M141.3 391.5h0M249.1 268.6h0M347.7 99.7h0M299.8 120.0h0M126.5 393.7h0M228.1 281.4h0M132.9 373.5h0M185.7 351.5h0M129.5 387.9h0M236.5 272.8h0M155.7 372.2h0M281.7 154.1h0M315.7 106.3h0M253.0 234.4h0M269.0 176.6h0M210.7 325.9h0M194.3 338.5h0M124.7 394.0h0M178.8 357.1h0M412.6 98.5h0M178.2 361.9h0M136.6 386.0h0M177.2 351.3h0M321.8 100.6h0M309.4 125.9h0M199.8 339.0h0M230.1 266.1h0M352.0 98.4h0M159.4 368.0h0M149.7 379.8h0M230.1 299.0h0M258.6 190.4h0M156.6 380.2h0M195.0 342.1h0M328.4 105.0h0M219.5 293.2h0M200.5 333.7h0M196.0 329.5h0M280.3 167.9h0M222.4 309.3h0M106.0 403.6h0M226.6 294.5h0M112.2 394.5h0M227.7 286.3h0M258.7 229.1h0M233.4 264.1h0M278.9 177.2h0M192.6 346.9h0M108.8 399.5h0M295.5 122.9h0M223.7 292.1h0M197.6 341.8h0M276.4 171.9h0M257.8 206.2h0M215.7 304.9h0M288.5 140.7h0M123.9 396.5h0M110.2 401.2h0M214.9 322.0h0M133.8 394.3h0M183.6 356.0h0M467.3 98.2h0M240.6 255.4h0M109.5 396.0h0M270.4 193.1h0M183.3 364.4h0M308.0 128.2h0M186.3 360.8h0M172.4 361.8h0M283.7 186.0h0M227.4 281.3h0M124.4 392.3h0M172.5 364.2h0M274.6 174.6h0M250.4 234.8h0M347.4 139.0h0M337.7 121.6h0M322.4 155.0h0M310.0 161.0h0M303.5 167.6h0M308.0 167.6h0M301.8 181.0h0M291.7 191.0h0M283.0 196.0h0M252.0 292.0h0M252.0 320.0h0M239.8 344.9h0M221.4 339.0h0M234.9 364.0h0M250.0 377.4h0M215.8 389.0h0M218.8 396.8h0M191.0 397.0h0M164.8 399.8h0M169.7 402.4h0M172.4 402.4h0M175.3 402.4h0M179.0 399.8h0M247.0 283.0h0M241.4 282.4h0M196.0 368.5h0M198.4 357.7h0" fill="none" stroke="#0000ff" stroke-width="2.7" stroke-linecap="round"/>
<defs><marker id="s" markerUnits="userSpaceOnUse" markerWidth="6" markerHeight="6" viewBox="-3 -3 6 6" refX="0" refY="0" overflow="visible"><path d="M0.0 -2.1L0.5 -0.7L2.0 -0.6L0.9 0.3L1.2 1.7L0.0 0.9L-1.2 1.7L-0.9 0.3L-2.0 -0.6L-0.5 -0.7Z" fill="#ff0000"/></marker></defs>
<path d="M197.9 262.6 276.5 118.1 243.2 191.6 120.8 378.4 141.0 363.9 269.6 136.8 246.5 161.9 234.1 174.5 164.7 327.3 147.8 366.7 143.6 372.5 127.2 384.1 166.9 336.7 180.8 317.8 195.0 297.4 470.3 95.7 240.9 191.2 206.7 266.1 402.5 97.9 124.4 395.0 182.7 269.7 179.3 311.8 173.6 328.7 281.0 117.3 196.6 259.1 174.8 306.4 170.4 316.1 130.5 375.4 117.4 377.7 206.5 236.7 118.5 372.4 155.6 347.4 258.5 160.1 112.1 377.9 141.1 367.5 262.2 136.0 171.4 314.8 259.1 154.3 202.4 260.1 222.5 210.4 114.3 400.0 181.3 298.6 176.7 309.2 262.1 140.2 159.1 361.1 196.3 277.7 144.7 347.6 145.0 365.0 110.0 387.6 248.2 174.2 158.0 346.2 337.2 95.0 191.0 286.1 197.7 286.0 200.2 263.1 205.6 245.0 106.7 388.1 159.4 335.2 121.0 372.8 162.4 335.8 309.2 97.0 124.0 377.2 199.0 252.2 120.0 361.2 272.4 138.6 211.1 255.1 252.0 152.1 297.4 100.6 275.3 115.7 181.1 289.0 108.9 395.4 118.7 379.6 284.5 109.5 184.0 288.4 116.7 400.2 262.1 123.5 200.1 256.5 176.4 289.1 160.4 351.7 148.2 346.0 127.8 382.0 269.0 126.9 169.6 323.5 189.3 296.6 136.2 359.5 225.3 213.0 148.5 351.5 115.3 400.5 311.0 100.7 200.6 252.6 159.6 338.6 175.5 311.2 266.5 135.5 145.3 356.8 191.9 289.4 209.8 234.7 151.2 344.9 184.8 313.3 225.2 194.1 287.8 121.9 110.3 393.0 293.4 100.7 224.7 199.0 233.5 172.5 119.5 383.7 155.2 342.0 241.4 165.5 197.7 262.7 248.8 185.4 185.5 313.6 223.2 222.0 127.4 373.8 129.9 378.7 142.3 356.7 118.7 378.3 147.6 359.5 295.8 95.5 188.0 285.8 137.4 350.1 139.0 374.3 307.5 104.7 156.6 340.8 350.3 96.1 185.2 315.5 179.7 303.8 269.1 122.9 218.1 206.7 192.8 291.0 171.3 341.3 256.5 132.6 158.4 340.6 277.1 116.5 163.2 341.2 176.8 306.5 296.6 102.2 142.2 375.4 241.0 174.4 206.4 238.2 223.2 223.8 197.5 260.0 318.8 97.2 149.9 357.8 150.0 351.4 126.1 380.2 127.3 379.8 280.9 112.7 254.0 160.4 191.6 276.9 171.6 321.5 195.5 279.3 204.4 254.3 137.7 359.5 304.0 100.7 167.4 324.5 197.9 268.8 205.4 260.5 118.6 375.8 157.6 344.6 226.8 196.7 244.4 169.0 207.8 214.8 274.8 122.1 243.8 178.3 267.0 138.6 178.5 307.9 287.8 124.0 126.5 378.5 138.2 375.9 111.0 377.5 179.0 289.0 192.0 277.5 114.3 381.6 195.6 240.0 140.1 363.4 305.5 108.6 188.1 301.8 245.1 175.6 197.2 247.0 195.6 273.1 113.2 381.9 187.9 287.4 239.0 184.0 308.4 98.6 255.5 148.1 154.2 362.9 145.2 365.5 192.5 266.1 240.8 184.1 144.3 362.2 266.4 142.5 255.7 183.7 111.6 376.2 224.2 198.1 279.5 129.3 127.4 381.8 191.3 289.6 206.8 258.1 185.0 268.7 201.1 253.2 204.6 261.7 242.3 174.4 240.0 177.0 160.7 361.3 221.8 219.2 259.7 146.1 282.6 126.8 200.5 252.8 126.7 381.3 183.2 295.2 291.9 99.3 153.8 350.7 123.0 386.0 169.0 334.3 199.6 250.4 109.3 393.0 150.2 349.6 105.9 389.9 206.5 252.9 257.2 162.9 140.4 356.3 152.6 355.9 184.0 305.8 115.9 385.8 124.6 376.8 147.5 361.2 161.5 333.3 235.7 206.9 182.3 281.2 133.8 360.3 223.2 196.5 119.3 381.7 123.0 390.2 288.1 127.9 137.7 373.4 138.8 371.9 255.7 157.3 199.8 274.3 114.7 386.3 152.3 335.2 265.0 130.0 151.8 350.7 213.4 227.5 224.9 221.6 227.3 190.8 253.8 170.1 204.1 243.5 151.6 357.6 176.8 308.2 223.3 198.3 109.8 397.0 132.7 376.3 179.3 307.6 229.6 202.9 275.8 127.3 115.0 389.0 227.1 185.6 187.8 258.0 232.4 225.7 487.4 93.6 300.7 103.0 256.5 150.5 236.5 196.5 158.0 341.9 189.9 256.3 113.6 398.1 234.6 193.6 234.1 196.5 219.3 225.2 162.2 333.0 150.1 357.0 156.5 342.1 245.4 152.5 181.8 304.7 151.4 349.7 180.7 302.9 227.6 219.6 156.2 348.0 247.0 162.5 286.4 109.4 136.9 346.5 116.3 389.2 229.8 197.1 446.3 93.6 115.4 390.7 224.0 232.4 246.5 165.9 278.9 115.0 119.8 387.9 413.1 97.3 119.3 387.3 183.2 287.0 167.8 337.1 224.0 212.2 115.8 395.7 289.2 111.8 126.2 388.7 208.7 198.7 163.7 322.4 137.8 357.1 138.1 367.5 217.7 221.0 161.2 328.3 464.9 96.7 275.8 128.8 275.1 115.6 132.9 386.6 157.7 345.5 123.4 376.0 109.9 390.0 171.8 315.6 119.7 379.0 275.3 146.9 166.9 320.0 125.2 371.2 193.7 247.9 127.7 374.3 172.5 308.6 145.5 377.4 173.0 312.8 201.5 259.6 168.2 307.4 156.0 348.8 240.7 180.4 265.5 134.7 112.1 394.4 110.7 396.1 351.9 94.2 296.3 102.7 116.9 377.4 317.1 97.6 127.7 394.6 170.0 311.9 176.3 320.5 276.6 115.8 145.6 359.8 187.4 278.9 114.3 395.6 128.4 382.0 169.4 327.5 264.6 127.4 228.9 196.9 248.7 165.0 220.4 200.6 205.8 229.6 258.8 152.0 207.9 240.8 206.8 209.0 114.4 362.5 113.8 377.0 226.5 197.6 118.7 397.0 277.0 112.6 194.2 281.6 142.0 368.5 288.9 111.0 112.6 392.9 181.7 305.7 105.5 397.0 317.1 98.7 182.9 288.8 240.2 180.7 128.8 368.1 238.1 179.2 211.1 236.7 194.9 260.8 303.4 89.3 164.3 335.1 163.1 343.3 212.3 233.3 263.6 163.9 145.4 359.0 216.8 242.9 125.7 392.5 186.8 300.7 230.2 198.4 211.4 219.7 307.5 95.2 170.6 325.8 156.7 340.8 215.1 217.7 194.0 310.9 214.0 215.2 184.2 291.2 177.2 296.8 276.1 108.9 163.3 332.4 194.8 270.5 187.0 297.8 192.5 283.2 133.5 378.8 125.5 376.5 261.7 135.4 175.2 334.0 228.3 205.3 211.1 228.8 190.2 300.7 240.7 176.6 168.2 321.0 189.5 275.8 250.2 174.6 205.2 241.1 196.9 264.8 163.3 338.2 185.0 301.0 146.8 353.0 227.8 211.3 157.5 346.4 162.9 324.7 224.7 201.8 174.5 315.0 143.8 352.6 250.1 171.7 156.5 349.6 252.9 149.1 247.2 192.1 156.2 332.2 209.7 220.9 114.9 394.3 168.0 349.6 261.2 138.0 186.5 285.1 177.5 291.5 211.2 252.6 208.5 245.4 183.5 288.2 162.0 334.6 126.2 401.8 141.3 377.2 150.1 362.7 168.1 337.7 147.6 357.9 167.5 334.5 158.1 347.3 192.9 293.4 303.4 105.0 272.6 123.1 156.5 348.3 139.8 376.9 268.9 130.8 165.0 325.2 219.2 233.8 260.9 136.3 142.2 359.4 171.1 322.7 111.1 384.2 158.6 338.9 242.2 162.5 250.7 158.7 168.3 321.4 236.8 196.3 165.5 327.6 153.6 355.2 179.8 302.3 119.3 378.6 133.5 361.1 219.9 232.8 232.2 196.4 222.0 217.1 244.0 165.3 159.8 337.5 215.7 238.0 127.7 374.6 192.0 258.2 148.5 357.5 209.1 261.8 126.7 375.2 176.2 327.7 176.4 310.2 201.8 265.6 121.2 376.7 300.7 100.0 134.4 367.1 151.8 357.0 130.3 372.6 158.1 340.3 231.0 190.6 216.8 221.9 123.2 389.5 122.9 375.9 142.3 365.5 229.6 200.0 167.6 323.2 278.3 106.4 193.7 251.1 199.4 265.7 220.1 205.8 233.4 206.6 151.2 358.1 129.5 369.0 156.0 337.9 171.8 316.5 111.2 395.8 169.7 340.2 195.2 266.5 107.9 382.8 110.1 386.1 115.1 392.0 132.2 362.5 299.7 100.4 114.5 395.3 113.8 391.5 174.8 324.9 176.1 332.1 117.0 380.9 154.9 362.6 237.5 186.9 115.4 382.1 208.1 276.4 151.1 343.8 156.8 345.6 244.7 171.0 122.8 387.0 282.3 112.3 277.2 121.2 203.2 249.6 205.7 248.0 192.5 278.2 225.4 194.2 118.7 381.8 297.6 103.7 275.4 126.0 108.9 394.2 142.7 358.3 248.3 163.7 284.0 118.4 418.2 95.7 186.2 275.4 201.0 255.2 208.9 236.0 186.4 289.0 306.5 92.4 183.4 276.9 143.6 356.2 178.0 311.4 220.0 215.9 209.0 234.7 153.3 341.2 263.8 149.6 219.2 212.0 150.8 362.3 113.4 380.7 135.1 360.9 159.5 330.8 288.7 109.9 113.6 360.1 281.5 123.7 217.8 246.3 265.9 146.7 151.1 341.8 233.0 185.6 128.2 369.1 114.7 379.9 237.6 177.8 209.1 232.1 124.3 378.7 115.4 359.1 302.3 110.9 126.8 365.6 214.8 229.5 115.2 391.7 241.3 176.1 106.9 386.6 185.7 311.9 194.3 300.7 257.8 154.0 138.3 375.2 228.4 202.4 191.9 273.1 146.4 363.6 198.7 258.1 168.5 332.6 255.5 140.8 137.6 357.4 234.4 203.3 203.8 258.6 224.8 209.9 149.4 350.8 215.4 213.2 214.9 236.2 162.1 351.7 316.5 95.3 212.7 221.3 129.0 383.6 214.7 213.0 136.1 373.5 162.1 322.5 264.4 145.5 167.8 334.7 131.2 358.7 131.3 364.7 116.2 378.6 128.4 366.6 111.6 385.5 175.5 326.7 121.3 377.2 220.9 210.4 285.9 112.8 131.0 360.0 184.8 292.4 184.4 314.3 107.7 400.8 264.1 133.7 177.5 322.8 235.6 174.6 184.7 286.4 259.8 142.8 264.5 139.7 180.4 304.7 151.1 350.8 220.6 197.9 138.3 385.1 241.6 169.0 176.8 328.2 165.5 329.7 312.5 97.6 145.4 367.0 154.9 346.8 107.8 390.4 191.8 292.9 299.2 92.6 197.9 287.8 197.7 249.3 144.3 365.0 167.5 288.1 215.4 201.2 201.5 287.7 249.3 181.7 189.0 296.7 111.3 375.1 189.6 280.5 176.9 318.3 115.8 380.1 197.0 274.1 241.2 171.8 109.0 381.7 174.9 302.4 219.2 215.4 158.8 352.8 129.0 371.9 148.2 358.9 178.4 300.2 209.7 232.8 189.2 293.7 106.4 394.6 248.6 171.3 278.0 109.3 134.6 377.1 111.8 371.2 254.8 156.5 274.7 119.9 141.8 353.8 115.8 385.4 171.8 331.4 290.0 117.1 127.5 382.0 172.5 318.6 177.0 308.5 221.8 205.4 159.8 331.3 107.6 386.3 150.1 362.9 359.2 96.1 226.2 211.6 113.6 392.6 243.0 180.7 132.8 369.3 230.3 190.0 255.1 142.8 115.3 381.4 159.0 329.0 196.7 247.1 168.8 311.0 120.2 377.6 108.9 391.7 141.7 369.5 121.6 381.8 112.3 396.9 170.8 324.3 149.2 352.3 183.1 278.6 132.7 363.1 142.6 357.6 227.4 203.5 139.5 375.7 165.0 346.1 230.6 207.7 162.7 343.9 272.0 128.3 297.1 121.9 149.2 377.8 251.5 216.1 132.7 376.8 113.0 393.6 174.8 331.4 193.0 279.7 292.6 111.9 221.0 222.1 170.0 319.1 113.9 399.7 321.4 96.2 201.5 235.6 111.7 382.5 283.8 117.5 142.4 361.8 291.0 107.2 291.9 116.2 199.5 274.3 175.2 290.5 168.4 324.6 196.1 290.0 226.6 213.1 214.4 250.3 478.7 96.2 115.0 392.7 236.7 174.2 169.3 349.0 238.3 190.6 261.6 125.7 420.3 94.8 135.5 372.7 166.9 332.2 293.3 107.5 303.0 107.1 162.8 352.9 295.3 104.8 136.4 349.6 150.8 360.5 219.9 207.0 163.9 324.6 166.3 339.2 152.7 346.3 155.7 339.9 110.5 390.8 229.5 202.7 183.4 292.9 208.5 244.0 239.8 185.9 130.7 373.7 126.3 388.0 134.7 371.8 136.0 362.8 229.2 202.1 141.4 350.1 157.9 361.0 194.7 262.0 119.4 390.7 209.2 229.4 229.4 205.6 135.0 371.5 196.1 261.7 151.5 345.7 180.6 284.8 140.8 370.3 139.3 350.4 187.1 272.7 190.6 286.7 121.3 395.6 204.5 226.9 318.5 92.2 123.5 389.0 122.4 366.0 110.9 384.1 430.2 96.9 140.5 362.6 192.2 279.9 431.8 96.0 298.8 104.4 180.6 307.3 190.9 279.8 214.5 228.9 139.6 367.8 140.0 359.3 177.9 304.0 124.7 390.0 144.3 353.1 299.5 110.5 157.4 335.2 113.1 382.1 210.1 226.0 121.7 369.1 301.4 99.1 279.0 120.9 208.2 261.7 110.9 390.4 145.9 363.2 130.6 387.4 106.2 384.2 184.3 265.3 110.7 396.7 119.1 380.9 274.2 123.5 142.9 358.1 144.5 358.7 243.7 181.4 207.5 239.6 183.9 296.1 186.2 271.9 121.3 371.0 198.4 286.5 307.9 104.1 249.9 174.1 205.8 257.3 188.1 321.0 263.7 131.6 201.4 240.2 237.6 176.9 236.0 182.9 167.3 334.1 111.7 386.6 260.4 147.7 335.0 99.6 127.7 370.4 250.3 139.6 153.8 344.7 145.0 370.0 175.7 311.0 161.8 338.1 122.5 385.8 209.9 228.8 181.3 315.2 259.7 137.3 272.4 119.5 140.7 363.5 147.8 372.8 291.0 107.2 170.7 320.4 107.1 402.5 427.2 94.4 174.4 289.0 174.8 312.5 166.6 313.3 169.8 340.2 298.8 105.7 297.3 98.1 153.9 344.5 243.5 167.6 198.7 268.8 224.8 219.2 183.1 286.7 113.5 383.7 241.7 178.3 213.1 242.1 121.0 386.8 165.8 329.1 327.7 96.2 186.1 303.0 105.8 394.8 157.9 342.2 207.6 253.2 124.1 371.4 182.5 301.3 153.4 351.8 176.0 318.0 135.6 369.4 196.7 249.4 126.4 376.8 282.6 112.6 308.2 102.8 177.6 321.0 174.6 328.2 259.5 146.2 140.0 373.9 237.6 170.5 139.9 360.3 215.9 222.7 172.0 361.9 189.7 277.5 288.7 115.0 240.9 173.3 185.9 295.9 151.7 347.7 144.8 351.0 126.8 392.0 202.6 263.4 106.7 396.1 211.1 246.8 301.9 99.2 352.7 95.3 267.4 130.7 242.9 179.1 124.4 375.2 320.7 98.6 120.4 394.6 269.7 133.7 272.3 134.1 206.1 267.4 166.3 312.4 122.9 370.7 174.3 308.7 131.8 360.8 108.7 400.6 228.6 179.1 279.8 113.2 109.3 397.1 127.9 379.1 107.7 385.1 186.1 283.5 158.4 346.6 161.8 342.7 105.1 386.5 200.1 254.8 123.6 369.5 156.7 348.5 157.9 329.5 262.9 119.2 142.1 369.8 219.9 219.8 142.1 363.0 275.1 122.9 148.9 351.5 180.3 319.1 261.5 132.2 217.2 243.0 433.2 93.5 137.1 368.4 311.3 100.4 110.6 375.4 108.5 378.7 108.3 403.0 165.8 325.4 192.0 282.0 128.4 369.6 250.0 172.7 239.7 173.0 181.9 296.1 181.8 302.3 201.5 271.8 158.1 330.0 261.1 150.6 147.1 353.7 191.0 314.8 183.6 291.9 239.2 200.2 218.9 215.8 122.0 372.2 428.3 98.4 215.3 221.7 170.2 341.0 159.8 341.5 232.5 188.6 121.5 388.4 213.9 262.4 212.7 224.1 192.4 310.3 269.9 138.4 170.4 328.6 153.6 333.9 136.9 358.2 290.4 118.4 139.7 354.6 224.7 231.4 158.0 340.9 280.0 106.4 300.9 101.3 464.8 94.0 191.0 273.3 106.6 388.8 169.6 322.3 174.7 293.1 113.9 375.4 151.5 357.7 135.5 363.5 189.2 276.5 246.7 166.6 292.6 115.2 147.9 356.4 190.1 296.9 152.3 349.7 304.6 99.2 262.4 138.6 197.3 256.5 126.9 367.5 242.7 190.8 126.0 372.2 275.4 122.1 105.6 386.8 239.9 202.3 164.6 328.0 107.5 385.4 185.9 307.5 128.6 366.1 173.7 297.3 217.9 204.4 256.2 139.9 191.8 287.1 363.6 95.3 168.4 325.4 243.4 189.8 264.9 135.8 195.9 288.3 277.3 131.0 232.6 181.6 259.0 135.7 222.6 228.3 125.8 386.9 120.0 375.3 130.4 362.7 182.5 292.9 188.1 265.2 290.9 102.5 142.6 383.6 153.9 353.1 247.5 173.6 189.0 297.0 170.3 315.9 220.3 203.1 202.7 252.3 142.2 367.9 172.0 332.4 272.6 129.7 188.1 283.2 161.3 337.3 153.7 354.9 192.7 286.1 184.2 287.8 305.6 103.6 150.2 359.5 167.8 342.0 182.5 269.5 260.6 126.7 218.0 229.9 164.9 332.1 241.4 172.6 166.4 323.3 303.2 101.5 133.8 371.8 246.9 159.8 140.8 373.5 250.0 152.8 199.7 269.5 162.0 316.9 116.0 405.0 228.5 188.3 316.8 100.8 266.9 129.4 143.4 366.0 107.9 389.1 260.9 131.1 171.9 325.6 114.6 391.4 169.9 320.5 119.3 367.6 153.8 346.5 201.3 260.9 283.1 119.5 246.8 180.9 120.6 395.5 172.4 326.3 160.3 326.9 430.2 97.5 180.3 320.4 279.3 109.6 154.9 347.8 132.2 367.2 201.4 300.1 150.9 351.9 289.9 113.9 112.6 398.7 120.0 371.4 212.8 234.8 144.9 367.4 275.8 125.3 278.2 128.9 300.4 110.3 118.8 382.3 155.7 344.5 307.6 98.9 207.4 200.1 199.8 226.5 282.8 118.0 314.3 97.8 227.1 223.9 260.1 146.3 260.2 156.6 155.6 357.6 115.6 380.6 217.9 217.4 114.6 395.3 144.4 349.7 464.9 92.9 182.3 298.4 177.1 315.7 285.0 98.0 130.9 365.2 277.8 117.5 148.8 349.0 138.1 374.5 116.5 384.1 291.1 116.2 119.9 380.1 280.6 114.9 196.6 281.6 202.3 241.1 213.1 224.9 115.2 391.9 170.0 323.4 112.0 406.1 174.2 315.5 220.5 209.3 210.8 247.7 193.2 273.7 121.5 385.9 268.0 116.9 180.6 300.1 282.5 107.3 119.0 375.2 156.8 347.7 180.0 294.9 213.6 224.0 280.0 110.0 230.9 216.4 144.1 351.7 222.6 229.7 328.2 96.2 232.6 189.9 118.8 384.0 171.8 326.7 180.8 321.4 191.6 274.2 421.4 95.8 212.0 237.6 158.8 351.0 217.5 223.6 175.8 330.5 159.5 346.0 155.3 359.2 172.6 319.3 132.0 373.4 123.0 379.1 111.3 380.2 166.2 335.7 144.9 367.3 252.3 165.0 251.0 154.6 143.3 353.0 202.8 267.9 277.0 121.3 146.0 355.7 187.4 296.5 155.9 333.0 202.3 256.9 306.5 95.5 109.7 377.3 306.3 98.0 210.7 248.8 248.6 176.7 190.7 267.8 265.2 133.8 147.0 360.1 227.8 224.6 129.9 374.2 169.4 313.7 208.4 238.6 133.2 375.5 239.1 183.2 253.3 177.2 192.3 241.6 129.6 360.9 208.6 252.7 105.5 400.8 196.1 254.4 190.0 291.2 195.1 276.7 165.5 332.7 120.9 379.4 216.4 218.0 162.1 333.3 224.5 210.6 148.5 356.8 111.5 390.8 188.3 307.2 186.7 274.2 286.6 107.7 278.5 126.3 237.9 190.3 131.7 363.5 216.2 229.0 147.0 359.9 147.1 361.2 163.4 324.7 186.4 307.0 202.5 240.7 186.6 254.8 210.8 245.0 152.3 349.1 208.1 239.7 151.6 354.6 192.8 273.6 161.3 331.3 185.8 292.8 176.2 326.7 136.4 373.0 149.3 352.5 206.3 254.1 270.8 130.6 141.1 361.4 201.7 267.7 106.9 384.7 275.7 125.8 154.7 348.5 168.6 320.7 142.6 372.3 134.6 369.2 224.5 219.8 383.9 93.6 152.6 357.1 246.6 186.1 118.8 397.7 185.4 289.0 157.8 336.8 133.7 372.1 249.3 164.3 225.5 212.2 111.8 387.2 140.8 365.4 241.1 170.6 437.0 96.5 186.5 274.7 257.9 131.5 375.5 95.8 226.5 206.7 230.2 254.4 128.0 381.8 151.0 345.7 204.4 277.2 282.6 109.3 143.0 365.0 161.0 348.1 216.7 235.1 161.6 335.3 232.9 176.7 126.2 378.2 200.1 255.1 210.6 242.6 166.5 328.7 125.8 388.7 147.1 344.4 229.7 212.1 114.3 391.6 158.9 329.6 123.5 376.9 253.3 184.3 250.1 163.8 290.2 101.4 254.3 157.0 200.4 256.1 109.7 403.0 242.7 163.6 196.0 221.6 219.6 206.3 196.5 237.8 246.1 159.3 132.8 369.3 201.7 245.9 171.7 305.1 152.0 354.1 141.3 368.0 114.9 394.4 176.5 319.7 155.9 354.2 163.8 337.9 255.0 153.0 202.0 248.1 203.6 244.9 369.7 96.1 124.3 376.5 173.9 311.7 108.9 388.5 154.2 347.7 309.0 102.9 113.4 392.9 224.8 203.2 267.4 143.7 158.2 315.9 247.5 177.7 165.6 329.6 150.3 349.9 164.6 321.5 135.1 376.0 138.5 370.7 138.7 366.9 415.8 96.9 143.6 366.0 121.3 386.3 300.1 108.8 316.8 97.3 259.3 152.8 207.5 256.7 153.8 338.7 128.0 381.2 106.6 401.5 116.0 386.0 143.4 358.6 168.2 342.1 289.0 118.1 184.4 302.4 424.2 97.2 221.0 216.3 115.8 405.8 178.0 295.1 107.3 382.8 303.2 99.5 146.2 348.6 124.9 378.2 105.8 390.8 202.7 249.6 168.0 327.7 223.5 222.1 132.1 377.7 236.9 194.8 163.4 316.7 181.5 301.8 162.1 333.1 204.2 243.3 428.7 95.8 227.7 187.7 176.3 316.7 140.7 371.9 122.2 390.8 131.3 373.9 300.8 98.4 211.7 209.1 248.0 158.5 219.4 228.6 142.0 363.2 146.7 350.8 159.4 339.9 135.1 360.4 155.6 340.0 231.3 194.3 112.5 396.7 130.0 367.5 170.7 320.9 198.2 236.7 193.3 261.8 213.7 219.6 114.6 373.5 142.2 365.9 136.7 378.4 221.9 204.0 460.5 91.5 201.9 242.9 150.9 373.6 237.6 185.7 292.5 103.8 198.8 281.1 149.1 361.3 137.4 352.8 206.4 258.4 262.9 149.4 142.6 360.5 127.0 382.4 122.8 388.6 254.8 155.4 199.4 270.1 422.4 99.2 144.8 353.5 235.2 184.9 205.0 251.8 157.4 338.6 206.5 263.2 209.2 239.0 154.2 331.1 117.5 380.6 313.5 97.8 173.6 330.4 222.9 229.7 185.1 305.1 131.4 380.5 134.7 382.6 123.8 374.0 161.6 343.6 140.2 370.9 149.9 351.6 238.7 167.0 248.5 174.9 182.6 306.8 174.7 335.3 132.7 369.3 180.3 299.3 126.1 371.8 260.5 146.3 247.9 166.6 136.0 349.5 268.0 128.9 135.0 368.2 196.0 249.6 254.0 142.1 238.4 185.9 265.7 139.0 170.5 325.7 258.3 146.0 172.4 332.0 136.8 365.6 165.3 324.6 140.1 355.9 209.2 200.9 247.3 161.6 113.7 391.2 108.6 387.4 161.1 347.0 175.5 330.4 301.9 98.4 299.1 110.3 306.9 98.4 214.0 218.7 205.3 239.4 133.5 367.1 150.2 355.6 262.2 156.4 136.2 371.3 145.3 350.2 143.7 358.8 217.2 217.2 116.9 383.3 282.1 122.9 254.1 155.7 177.7 263.7 179.1 293.7 115.8 384.6 276.9 139.1 232.6 202.0 184.0 313.5 122.9 377.0 127.3 382.1 155.8 351.8 139.8 361.1 153.7 347.4 164.8 338.2 132.3 367.5 160.7 359.4 148.8 365.6 151.4 350.5 175.6 278.2 177.0 324.5 126.0 376.4 238.6 187.6 168.4 312.6 168.8 329.0 222.0 229.4 215.1 212.2 260.1 146.1 234.2 175.9 206.1 244.6 228.0 224.3 114.3 386.5 215.3 237.4 128.8 382.4 131.3 379.7 121.0 398.9 163.3 350.4 200.8 250.8 225.0 209.7 245.2 189.9 110.0 398.0 206.2 257.5 251.3 153.3 127.8 398.2 132.6 361.2 162.3 335.9 112.3 376.6 176.4 302.9 142.8 356.1 193.6 257.0 186.0 302.1 211.7 236.0 135.0 378.7 212.4 230.9 223.3 210.9 219.0 216.9 105.1 394.4 301.2 105.2 189.2 288.1 130.0 365.2 155.0 334.1 171.9 306.5 172.9 310.3 126.4 379.4 125.3 370.3 159.4 352.0 236.0 192.6 139.1 334.6 157.4 331.0 122.8 387.1 327.9 94.1 141.2 365.6 178.4 308.4 155.5 360.8 277.6 122.7 294.8 106.0 118.8 396.4 157.0 347.9 144.7 351.7 119.3 389.2 203.2 255.3 232.7 193.0 227.3 198.8 204.8 245.4 123.3 367.3 182.7 310.7 212.0 230.1 161.8 352.3 158.0 328.2 246.9 162.5 137.7 371.5 133.1 376.0 449.2 94.6 131.4 382.6 107.0 398.2 158.3 343.7 201.1 257.0 253.9 165.1 122.2 391.3 221.9 231.7 107.2 372.2 264.3 128.4 115.6 377.8 225.6 219.9 239.8 154.7 118.2 366.1 114.5 392.1 192.6 274.3 157.9 323.1 169.6 328.1 239.3 191.3 170.3 332.5 171.7 318.4 166.7 319.7 170.4 331.4 157.0 345.3 119.1 385.6 140.1 362.5 129.8 376.0 138.0 379.1 232.3 184.9 108.7 397.7 118.5 388.1 176.8 306.5 139.4 365.6 124.4 375.6 152.8 352.5 181.4 314.3 217.6 240.7 329.2 95.6 257.4 154.4 169.7 332.4 167.5 334.8 169.2 348.7 120.7 388.7 308.3 101.7 128.8 395.1 201.4 253.7 194.8 287.0 133.3 363.9 281.9 105.9 146.5 344.7 189.4 285.0 260.5 123.9 150.8 344.1 269.1 128.8 297.3 101.5 272.9 119.1 241.5 166.7 128.8 368.8 175.4 329.0 310.8 99.8 144.6 365.4 122.3 378.3 168.0 313.2 271.2 126.9 208.9 234.4 158.0 355.8 270.4 159.3 239.7 181.4 147.4 361.2 257.0 149.1 293.8 98.2 198.0 268.1 153.7 349.5 277.7 123.1 307.4 103.6 154.8 359.7 266.8 135.3 205.2 246.9 180.3 295.2 137.4 355.4 279.5 114.6 146.7 361.3 110.2 383.8 150.5 354.5 420.2 96.0 122.5 387.3 166.2 332.0 319.2 97.0 140.7 370.4 258.3 168.5 294.9 112.5 245.9 163.9 110.3 391.9 184.0 286.4 186.3 293.0 210.9 235.3 143.4 366.2 161.9 346.4 128.0 377.9 139.4 374.4 122.2 386.3 277.0 112.3 268.1 127.5 151.2 352.4 214.0 236.1 176.3 321.6 144.9 366.4 143.5 369.2 316.8 100.0 153.0 361.2 184.8 288.5 298.2 98.5 134.7 352.9 245.4 172.6 126.3 392.3 222.0 212.3 237.5 170.5 254.9 162.6 329.6 95.8 221.7 226.0 326.8 97.7 129.6 380.8 176.9 307.8 114.8 391.6 114.0 393.0 139.7 332.7 212.8 230.8 225.6 190.0 298.8 107.5 132.9 369.2 142.6 356.2 254.6 159.9 262.9 129.2 223.5 218.8 133.8 365.7 164.2 332.8 250.0 156.2 145.6 354.0 245.0 177.1 230.4 186.6 178.0 327.1 277.4 123.9 160.2 353.7 229.7 209.2 204.6 260.5 143.9 366.0 201.7 299.2 186.6 275.4 182.6 305.8 105.7 388.6 433.7 97.4 315.5 100.4 300.3 97.2 183.6 307.8 108.9 396.5 251.3 171.8 150.0 342.5 205.6 224.5 246.5 168.8 178.8 302.0 109.4 405.8 246.8 163.4 217.3 244.7 288.4 116.6 145.6 370.9 236.5 188.2 269.0 139.5 147.2 347.7 152.9 346.0 138.9 357.6 135.0 380.2 145.8 359.7 230.1 203.2 157.6 341.3 185.4 297.0 135.8 366.4 153.0 358.6 231.5 207.9 158.9 324.4 192.2 280.1 168.0 339.2 177.7 296.5 272.1 122.2 134.0 371.2 189.6 314.7 216.7 237.4 311.5 96.6 185.3 317.0 131.4 379.0 238.8 205.6 248.0 166.8 185.6 257.8 278.0 116.7 177.2 305.7 227.0 212.7 284.1 118.3 209.6 261.0 196.6 279.2 162.6 350.9 181.8 290.7 180.7 301.2 281.1 117.1 250.1 169.2 225.6 217.0 286.7 108.1 240.6 191.2 173.8 328.2 217.3 208.3 134.5 360.4 168.0 328.0 252.4 166.7 129.4 365.3 176.3 330.4 255.9 148.5 140.4 383.1 251.6 163.8 134.8 385.5 144.1 361.8 188.1 287.7 196.7 255.1 273.5 137.2 269.1 125.6 122.9 377.4 222.1 213.2 196.6 258.1 156.5 361.7 236.9 199.0 269.0 128.7 174.1 326.8 281.7 123.2 120.2 380.5 225.3 199.8 132.9 367.3 193.2 290.8 178.3 316.9 108.1 395.9 232.6 202.3 228.9 207.0 108.8 390.6 143.2 385.9 240.6 183.3 281.7 112.0 252.2 138.0 181.4 311.4 147.0 363.4 166.6 334.5 107.5 387.8 179.6 325.3 135.1 382.2 125.5 381.4 136.0 348.6 170.5 325.4 194.7 229.3 193.8 259.3 327.5 97.2 285.2 125.0 193.6 266.1 275.9 118.6 163.7 334.7 242.4 176.3 133.9 363.4 183.5 306.5 351.7 97.3 176.1 281.6 181.3 314.3 232.6 186.2 139.4 356.3 257.0 162.9 131.4 365.8 122.0 384.0 134.9 370.6 294.0 97.8 146.7 364.1 195.8 286.2 215.7 231.0 231.5 198.8 158.3 356.6 124.8 381.2 251.2 145.6 109.5 386.8 131.4 371.9 167.4 322.6 290.9 110.7 222.0 219.3 182.5 294.3 177.1 312.4 216.8 231.7 201.8 269.8 155.7 356.4 131.5 395.2 241.2 191.2 213.2 258.3 240.1 178.3 283.0 126.5 147.9 353.6 284.3 110.1 192.2 276.0 184.3 297.8 239.4 170.3 198.3 266.3 205.5 241.1 114.1 401.9 193.8 280.4 147.9 355.3 106.1 390.5 112.8 384.7 169.4 326.9 133.0 372.4 236.0 201.8 112.7 396.9 481.2 94.1 142.2 366.6 187.2 318.3 123.6 392.4 132.8 383.1 161.8 346.0 235.5 183.2 256.8 161.8 422.0 96.4 180.4 293.6 139.8 350.8 134.4 381.1 119.4 390.8 143.4 367.6 260.5 146.6 237.1 194.4 208.8 250.3 226.1 213.1 209.6 244.3 141.7 363.8 270.1 145.1 115.6 391.2 144.9 333.1 115.5 396.3 203.6 253.2 115.9 382.1 234.1 203.0 167.2 322.4 207.8 249.1 233.6 210.7 201.2 270.4 121.2 374.1 214.8 233.8 134.7 374.8 163.2 335.3 213.6 251.5 224.3 217.7 140.5 347.8 152.5 351.6 131.6 371.8 187.1 305.0 184.9 291.2 293.0 108.1 277.7 121.8 422.7 94.9 141.8 358.9 219.7 216.1 245.2 162.6 195.0 256.9 135.2 363.3 201.9 262.7 271.0 131.2 181.5 327.1 255.7 151.3 226.8 190.3 224.0 212.3 201.7 231.3 188.7 300.9 214.9 241.6 146.0 361.0 179.7 318.5 321.9 96.3 194.4 257.8 166.9 318.7 105.9 385.8 260.9 150.4 229.6 214.6 257.9 166.0 203.2 286.1 184.7 289.3 179.3 305.5 224.8 212.5 139.8 362.2 171.9 319.8 171.1 324.3 199.5 250.6 127.3 382.3 105.1 377.0 260.8 145.2 211.4 226.5 226.9 207.4 161.8 329.7 106.5 392.6 174.4 334.9 266.7 147.3 173.6 313.4 191.6 257.5 124.4 348.8 192.7 264.4 171.9 322.3 143.2 358.9 128.5 370.8 203.1 242.1 123.9 357.4 177.6 286.4 135.6 375.6 215.8 208.3 155.9 357.1 165.0 323.2 290.1 109.1 218.8 222.1 226.2 206.7 159.5 369.3 250.1 159.9 148.3 353.1 406.9 94.9 270.3 125.2 207.4 255.0 250.5 161.5 181.5 299.3 223.4 208.9 105.5 391.8 417.0 95.2 230.8 181.7 112.6 397.0 131.6 372.8 182.5 285.7 225.2 201.1 117.5 391.2 305.9 103.1 135.8 356.9 457.5 92.8 237.4 209.5 166.0 324.5 157.1 363.8 111.0 405.6 200.4 260.6 227.7 195.6 276.5 123.8 146.0 353.4 295.1 102.2 130.8 367.4 292.6 102.3 283.4 114.3 116.3 398.3 239.0 148.2 203.4 231.1 208.2 222.1 252.8 154.9 180.7 304.6 176.8 313.8 161.8 352.5 269.5 143.6 279.0 122.4 111.5 390.4 240.3 192.5 138.3 361.1 122.2 375.7 119.3 385.6 189.9 287.4 143.7 373.6 124.0 382.8 147.6 358.3 240.3 194.5 167.9 319.8 207.6 274.3 130.6 374.5 273.1 112.8 461.5 93.7 250.9 148.4 113.6 383.8 231.0 200.8 162.4 325.4 116.7 382.3 169.8 323.6 279.4 113.6 267.4 138.1 147.9 353.9 271.0 123.9 391.3 98.4 165.1 311.3 123.0 381.1 173.9 298.5 220.2 236.2 169.6 325.1 153.5 351.9 119.5 379.2 130.9 363.1 123.0 373.6 307.2 107.2 220.2 222.2 238.5 190.9 155.9 342.7 194.8 283.8 120.9 387.8 209.3 248.9 221.2 228.5 222.3 220.5 172.6 318.0 317.1 95.2 263.3 143.6 190.0 286.8 207.1 246.3 124.6 373.5 296.1 105.2 198.5 257.8 275.9 120.3 136.7 369.8 369.6 96.0 173.2 305.5 109.1 392.4 113.5 386.8 231.1 198.9 130.6 348.1 127.0 388.9 264.4 153.5 137.0 362.8 267.4 147.5 203.6 236.1 212.6 231.5 434.6 95.4 195.0 244.7 223.1 215.0 224.5 212.7 211.1 224.7 105.0 386.8 231.3 198.2 190.9 273.4 125.1 375.3 179.7 302.2 217.2 202.3 143.5 357.0 239.5 177.8 178.8 320.4 108.9 393.6 237.6 192.7 184.5 284.2 125.3 375.9 311.2 96.1 205.7 240.3 142.9 353.6 250.2 146.5 152.1 352.4 294.2 107.5 148.2 370.8 379.8 93.7 225.4 213.2 131.5 370.6 165.7 334.2 202.8 260.8 110.3 405.4 119.1 379.4 221.8 218.1 126.4 378.0 177.0 308.0 138.0 355.7 123.3 382.7 292.1 106.9 185.2 315.6 195.2 245.0 204.9 232.4 253.3 169.2 136.7 374.3 105.9 406.0 162.2 340.0 114.7 389.0 287.5 115.3 195.8 264.8 158.1 340.3 115.5 387.0 226.1 207.5 172.8 299.4 114.1 380.5 358.3 93.7 300.4 101.9 285.6 109.9 246.9 167.1 186.7 304.0 140.2 360.9 199.8 257.1 119.5 384.0 191.5 272.8 209.8 221.0 143.8 348.8 212.3 232.5 226.4 192.9 250.1 161.7 195.7 269.1 257.4 155.2 204.9 247.8 309.7 108.7 277.5 120.4 132.1 377.2 153.9 352.4 132.5 371.8 115.4 391.9 273.0 134.2 121.3 390.4 230.8 202.2 118.8 391.2 134.6 376.8 317.5 93.8 225.4 200.6 177.0 333.9 113.8 386.7 131.2 376.2 351.3 93.5 233.6 186.8 214.5 228.2 144.0 351.0 205.9 217.3 133.7 368.7 106.6 394.4 130.2 369.9 264.0 141.0 276.7 124.9 209.0 249.9 201.0 203.1 119.2 397.7 150.9 357.7 274.7 119.1 394.9 96.7 163.9 332.5 224.9 189.9 264.7 106.7 484.4 98.0 134.8 364.6 204.4 256.4 152.5 358.9 166.3 329.3 174.1 327.0 128.2 368.9 224.1 191.7 211.9 232.9 258.5 153.5 116.4 387.2 128.3 366.3 175.3 281.5 292.5 102.4 173.2 319.3 126.5 385.4 201.9 276.7 307.4 97.9 258.5 139.0 272.5 120.1 158.2 347.4 137.5 383.1 258.8 138.4 241.3 187.7 260.9 149.8 149.6 347.6 139.3 363.6 123.9 366.3 264.5 136.9 281.7 119.5 151.4 350.4 260.1 134.6 155.5 350.0 152.4 327.2 182.8 291.1 121.6 381.7 141.3 368.7 135.5 381.0 128.8 366.9 171.1 311.3 227.3 188.2 128.7 383.7 148.4 333.6 200.0 264.0 168.5 343.4 180.0 289.7 190.8 296.8 269.9 123.0 241.2 185.5 109.2 397.7 257.3 160.0 182.1 299.4 191.3 247.0 110.1 399.3 159.9 322.9 217.6 226.5 242.3 175.8 242.3 179.8 126.4 370.0 252.2 155.5 182.2 294.2 216.0 244.7 258.9 143.8 154.5 345.3 276.1 109.0 265.3 134.1 242.9 176.8 151.4 347.1 175.6 307.3 116.0 385.6 221.9 201.5 272.0 130.1 105.8 377.5 219.2 209.6 207.1 235.9 284.5 114.6 170.1 327.4 126.8 366.0 238.7 186.9 151.8 363.0 159.4 316.1 117.7 389.9 193.6 274.4 157.3 352.8 242.5 172.9 208.5 249.0 210.0 217.5 138.4 376.5 268.2 136.4 293.4 111.2 206.3 256.5 288.6 114.6 218.7 224.7 199.4 278.4 158.4 339.7 152.2 359.2 179.9 327.4 120.8 369.7 153.1 339.9 169.2 310.8 106.8 402.1 161.6 355.1 133.8 366.2 199.4 259.0 246.7 168.4 199.9 265.8 194.1 247.4 191.0 272.6 129.4 372.9 153.5 356.5 255.6 152.0 295.1 100.9 119.4 383.0 323.3 102.1 264.7 147.5 197.6 270.3 242.6 172.7 192.5 282.8 287.4 121.5 138.6 382.0 164.4 337.7 199.1 246.8 124.7 396.8 214.5 216.9 136.6 370.1 200.9 225.8 240.8 180.8 161.7 339.4 421.4 96.2 203.3 264.0 221.1 208.9 219.9 226.9 293.5 108.1 193.7 268.2 284.5 118.0 269.8 121.4 267.6 134.2 195.8 269.7 164.5 333.0 214.6 234.8 124.4 379.0 202.6 248.0 209.0 237.5 182.4 297.3 133.6 370.3 119.3 385.6 253.2 157.6 129.3 382.0 139.9 373.2 176.9 308.7 192.8 282.1 265.4 135.3 253.9 154.1 317.4 98.0 272.0 140.1 166.5 333.6 111.8 397.0 301.7 101.1 117.0 395.9 194.1 261.0 134.9 374.1 250.9 176.6 162.9 339.4 130.5 376.9 273.5 136.6 197.3 273.0 201.1 263.6 138.6 362.5 116.5 391.2 262.5 145.8 217.7 194.5 216.9 217.5 483.6 93.0 176.5 291.1 117.7 381.3 185.1 280.4 137.4 366.5 175.8 314.1 163.2 325.2 179.4 293.8 281.6 105.3 232.2 179.0 156.4 341.0 246.7 173.6 272.9 138.1 229.5 188.3 181.4 301.6 282.1 119.9 191.0 320.4 139.4 376.9 209.5 251.8 155.2 349.0 154.5 342.1 151.2 345.6 122.9 381.9 115.3 395.4 223.4 244.5 153.1 358.8 159.0 336.3 287.7 101.4 204.9 261.1 249.0 173.4 231.7 192.5 301.8 103.8 149.7 352.8 311.4 105.1 160.9 321.3 288.9 102.9 119.3 385.5 271.3 118.4 157.6 343.4 169.2 315.8 290.9 105.9 118.9 371.4 305.7 96.8 147.3 342.3 126.4 373.1 137.2 378.5 176.3 308.7 168.7 320.1 281.3 129.6 115.7 388.5 185.7 275.8 236.2 187.2 176.2 321.5 188.1 271.0 197.0 256.8 123.3 379.3 484.6 96.0 145.2 361.9 295.5 104.3 167.4 321.5 133.8 375.7 126.0 381.7 137.6 357.5 161.6 329.4 156.6 333.2 191.9 294.7 166.5 320.3 126.4 370.2 306.3 97.0 221.6 212.9 165.7 329.6 213.5 226.5 129.8 360.6 151.1 353.9 161.7 309.1 280.1 121.4 158.3 369.1 106.1 398.0 266.5 132.4 143.6 369.1 189.6 283.9 255.0 159.3 172.7 281.7 117.8 395.5 159.5 345.6 137.3 353.0 316.1 98.8 168.9 327.7 252.2 132.9 383.5 93.3 242.2 170.9 130.4 373.5 115.9 382.7 186.0 308.5 177.8 281.3 260.6 130.5 309.7 93.8 272.8 118.8 142.7 364.6 188.5 282.1 178.7 303.2 112.9 404.6 111.7 384.7 118.6 400.7 145.0 374.8 140.1 368.7 223.6 228.2 116.0 401.9 201.7 249.1 194.8 246.9 208.7 228.8 218.5 223.0 207.2 243.4 181.5 297.0 228.4 209.8 119.3 380.1 228.4 209.8 120.1 372.8 179.8 309.2 139.4 377.1 167.5 341.7 247.8 163.2 205.9 248.2 154.5 337.1 133.9 363.3 244.2 177.1 183.8 255.9 171.6 338.1 274.2 144.7 213.6 241.2 355.0 95.8 212.9 245.6 274.7 126.3 188.0 300.2 217.2 221.1 246.9 158.7 165.9 323.7 198.5 276.9 242.3 187.2 213.9 223.9 285.0 113.0 162.6 352.4 183.2 326.4 282.1 122.4 157.0 342.4 258.1 164.2 153.7 351.0 144.1 368.4 126.8 369.5 126.2 377.3 162.9 339.8 112.3 399.1 243.1 165.0 318.4 96.5 295.5 109.1 207.7 241.4 136.8 362.5 119.5 384.3 137.8 381.4 199.0 237.5 266.1 137.9 185.5 296.5 127.8 378.2 121.5 387.9 206.4 252.6 197.9 267.6 137.1 378.5 145.4 355.2 172.4 331.3 283.4 122.2 180.4 308.9 255.0 161.5 194.2 265.1 181.9 294.6 161.3 320.6 207.2 241.7 177.5 319.2 217.0 222.1 113.1 381.6 152.4 362.6 266.4 135.5 156.0 345.9 257.4 157.1 295.7 102.0 187.2 284.6 236.7 196.8 205.3 242.0 132.8 376.2 262.9 152.0 177.1 325.5 105.4 393.6 125.4 374.3 204.3 274.3 249.0 168.0 202.9 267.9 155.8 340.7 164.6 337.6 244.7 170.9 287.7 117.2 307.7 95.5 233.0 189.1 115.8 392.9 176.9 284.1 297.9 103.8 174.2 307.5 153.1 348.1 152.0 345.6 130.6 368.3 124.0 366.2 129.7 365.7 108.7 399.2 187.2 290.8 163.9 336.8 222.5 228.8 202.0 269.0 306.0 98.0 147.7 351.6 269.2 135.6 149.3 351.5 189.5 251.7 245.5 183.1 154.9 347.6 175.0 332.7 186.8 266.5 110.3 403.0 168.7 305.1 120.7 388.2 197.9 268.7 321.5 98.9 132.6 370.9 114.5 378.5 183.7 315.4 166.1 330.3 151.8 352.4 237.3 195.1 214.4 227.8 188.9 298.4 194.0 275.5 184.5 277.2 191.0 248.1 290.6 110.6 286.0 98.2 348.3 98.7 269.8 144.8 174.7 334.5 234.2 195.2 140.2 376.8 179.8 274.2 122.7 387.9 163.9 349.8 110.3 396.8 162.1 337.0 124.5 384.9 272.6 139.8 141.4 357.8 152.5 350.9 241.8 183.0 186.6 292.8 121.2 368.6 192.5 276.0 131.4 372.3 138.4 377.1 201.0 266.4 174.1 320.0 132.1 370.9 195.2 289.6 195.4 266.0 131.7 372.1 136.7 364.8 267.9 136.2 140.7 366.5 119.7 385.7 212.0 230.6 241.9 170.6 261.4 147.5 215.6 235.5 130.3 367.9 282.8 117.1 136.0 367.3 236.8 187.3 120.4 397.2 176.0 334.3 169.4 314.4 274.1 122.2 250.1 155.5 179.7 303.4 161.5 331.3 144.5 348.5 465.9 95.6 216.6 250.5 162.5 340.8 145.3 345.4 225.1 193.2 236.6 167.4 200.8 234.4 159.5 339.7 209.6 228.4 159.9 343.3 111.1 389.2 156.2 350.6 105.5 395.6 163.4 339.4 258.3 164.5 129.1 380.9 169.9 324.0 343.6 95.0 247.5 156.4 269.4 115.1 227.9 248.2 197.7 288.2 181.2 285.9 197.3 276.9 158.5 333.3 155.2 358.0 127.8 367.9 157.7 348.5 231.3 196.7 181.4 293.7 120.0 392.0 243.7 174.0 288.9 115.9 206.5 256.4 186.9 301.4 162.7 345.5 243.7 165.4 186.8 311.4 135.0 366.8 155.0 342.4 178.6 304.3 364.8 95.6 209.9 246.9 217.4 215.5 180.6 309.3 209.2 234.6 202.1 217.3 436.7 95.6 484.6 93.8 168.5 332.6 146.4 373.8 155.2 360.1 152.5 359.5 271.6 121.6 177.2 313.2 205.7 224.8 178.7 319.4 239.4 175.9 249.0 141.1 275.2 129.4 171.2 323.9 109.4 390.3 176.7 305.6 276.8 126.7 116.1 379.5 208.3 245.6 206.4 252.9 141.1 366.9 125.2 392.5 282.8 115.6 144.2 379.7 141.0 369.1 198.0 287.3 162.7 351.5 187.4 292.0 224.3 224.4 223.1 229.9 166.8 318.4 141.4 365.1 173.6 307.1 194.6 262.5 164.4 329.0 322.5 97.2 123.7 388.9 250.8 169.7 210.7 210.7 269.7 121.0 283.3 111.4 137.4 368.6 277.8 113.1 148.0 352.8 207.5 245.7 307.4 96.0 181.6 287.0 186.9 291.2 199.0 279.4 132.3 368.5 155.6 353.9 152.0 354.6 322.7 94.0 199.8 266.3 215.3 220.3 111.6 388.3 133.3 360.6 267.3 134.7 305.9 99.2 137.6 335.1 157.6 345.0 179.1 311.0 170.5 336.2 167.0 328.5 152.0 345.4 208.0 230.9 140.9 370.3 113.7 375.9 159.9 336.4 164.0 328.5 171.3 326.8 227.3 191.2 161.2 347.4 242.2 195.2 144.7 354.7 250.0 156.1 224.7 220.9 147.0 354.6 229.4 194.1 182.1 309.9 215.2 252.1 420.7 95.8 210.1 242.2 179.8 302.8 261.9 160.1 162.8 343.0 128.4 385.8 187.0 276.9 295.1 99.2 172.8 276.1 140.6 362.8 449.5 95.5 155.0 351.8 124.1 374.4 183.0 295.4 147.7 362.3 216.5 229.5 211.4 231.7 322.1 93.7 279.0 120.5 226.1 179.2 132.5 372.2 177.3 324.9 207.2 261.9 139.4 367.8 250.0 163.6 117.0 404.1 168.2 320.4 159.7 340.7 264.2 126.3 179.1 293.0 156.0 340.9 329.6 95.0 154.6 348.2 211.8 217.9 119.8 374.5 230.7 207.7 220.5 202.9 249.0 161.0 171.9 326.5 125.2 375.1 193.5 263.0 284.2 119.0 148.7 363.8 117.1 390.0 294.4 109.4 280.9 123.6 147.7 346.6 212.2 229.5 216.2 231.3 158.4 342.3 223.8 212.9 170.5 333.3 186.4 301.8 145.1 367.0 195.2 283.1 139.2 367.8 139.8 375.7 263.4 124.3 154.5 350.9 106.3 401.3 191.1 268.7 187.3 303.8 141.6 360.8 195.9 268.2 131.8 363.9 393.4 93.1 239.0 178.4 177.5 315.9 285.8 112.7 130.4 364.9 285.7 115.7 170.4 306.6 120.8 390.8 189.4 285.7 220.9 217.0 204.7 270.6 149.2 349.5 197.1 257.9 164.8 335.6 275.0 128.7 152.2 357.6 269.4 126.8 197.7 265.6 200.1 271.6 166.9 342.5 213.5 243.7 128.7 374.3 132.9 376.6 255.5 136.2 113.8 371.3 165.3 346.1 222.3 212.4 154.0 369.0 170.3 358.6 273.0 117.9 124.1 387.5 144.5 381.5 266.7 125.6 136.6 371.9 141.6 362.2 267.7 130.6 140.9 354.6 481.4 96.5 251.6 165.4 252.2 153.1 131.5 368.5 120.4 388.6 229.1 209.7 251.1 166.9 121.3 365.5 123.1 371.5 124.8 382.7 105.7 395.2 166.4 339.0 164.0 316.1 203.4 262.5 116.7 396.0 112.9 390.2 138.6 363.7 111.6 396.2 294.0 114.2 156.8 354.2 106.6 405.3 208.4 246.2 326.8 96.5 235.0 180.1 190.2 257.9 154.6 350.8 152.6 343.8 129.6 366.7 240.6 180.4 229.2 174.6 169.9 326.7 269.3 138.6 186.2 257.1 212.0 240.9 128.2 369.0 126.3 373.4 121.1 375.1 283.8 122.7 240.7 183.1 271.5 121.5 241.3 165.8 240.0 177.5 168.9 331.8 223.4 199.4 117.8 380.8 204.7 248.8 318.5 99.2 267.8 130.2 127.6 384.7 240.2 194.8 247.1 170.0 179.6 286.2 144.5 342.5 199.7 269.6 269.3 129.5 216.2 217.0 122.3 395.3 190.9 290.7 189.7 292.1 108.3 390.6 149.7 349.7 129.0 383.4 116.2 372.4 200.8 238.7 310.6 98.9 167.1 327.4 207.7 251.9 243.1 198.8 217.7 247.1 198.7 249.4 263.3 140.2 120.0 385.1 120.1 382.6 180.3 310.4 184.9 285.6 228.0 203.9 134.7 356.2 295.1 101.3 192.2 268.2 250.1 151.8 175.9 324.4 188.6 259.9 149.8 335.9 159.6 340.2 142.5 364.8 122.0 382.5 175.0 325.4 137.7 375.5 280.7 124.4 121.7 396.0 315.9 96.7 257.2 138.4 161.2 352.9 229.4 193.2 183.5 286.7 171.0 324.6 247.1 172.0 255.4 161.0 113.7 374.6 284.0 118.6 166.6 317.2 133.0 359.9 152.5 341.5 177.9 330.1 160.2 329.9 285.3 111.1 281.7 109.7 143.6 351.5 134.0 377.0 202.0 259.0 126.2 387.2 159.5 352.4 217.2 222.5 222.2 193.6 231.6 215.4 148.3 351.8 120.9 370.8 186.9 300.6 129.6 365.9 251.5 169.5 200.4 282.6 141.4 374.9 248.3 183.1 185.3 277.6 157.6 336.5 171.8 319.3 295.7 107.9 145.0 364.5 160.5 337.8 321.6 96.6 163.0 339.9 248.4 164.8 108.0 395.1 166.8 344.2 119.0 380.3 272.6 134.4 177.8 294.4 129.7 386.6 162.8 340.8 108.4 385.0 158.5 322.6 223.0 217.6 143.2 365.4 124.6 381.3 139.3 353.0 114.9 389.6 266.7 151.8 220.7 204.8 154.7 352.2 233.7 219.5 232.2 196.2 106.0 390.9 224.1 209.8 294.7 97.3 180.7 297.4 196.0 256.6 143.7 367.9 117.1 385.6 229.4 206.2 247.5 166.5 115.6 387.8 110.4 399.7 149.3 351.8 193.4 267.0 148.6 353.2 312.6 94.6 238.3 194.0 281.4 114.2 195.8 273.7 233.0 197.0 298.5 99.2 180.6 285.1 118.1 371.3 241.6 184.9 131.9 382.0 224.2 211.2 143.9 361.8 197.9 262.7 209.2 250.8 273.6 123.5 266.1 139.8 162.9 334.5 200.2 239.2 120.1 384.0 219.5 213.5 275.9 116.1 227.3 211.9 194.2 307.3 198.4 265.2 224.6 215.2 182.2 287.4 147.8 350.6 238.3 155.8 149.2 357.9 271.4 119.8 241.1 177.5 227.3 175.7 247.3 158.6 397.9 98.4 423.8 93.9 164.6 319.6 149.9 356.9 235.2 219.8 319.6 99.6 198.4 264.6 170.3 329.4 238.0 187.5 273.3 129.4 157.2 350.6 177.1 310.9 185.5 322.5 176.1 310.8 170.7 315.2 269.9 145.5 121.5 384.6 263.3 153.0 130.2 366.8 182.0 301.3 218.4 233.9 105.4 395.6 296.0 100.9 302.8 98.9 316.9 98.4 193.2 261.4 208.6 245.0 270.7 131.5 128.0 382.8 107.6 399.6 240.1 175.5 123.9 375.4 211.9 261.1 192.7 309.6 233.6 205.9 238.1 173.0 287.4 110.9 263.5 135.7 296.9 107.0 231.4 198.9 151.0 351.5 129.6 376.8 286.9 123.1 154.4 336.6 174.2 326.8 205.0 238.6 208.9 234.5 207.5 239.3 197.9 264.0 176.9 312.9 236.8 196.7 163.1 349.5 128.7 380.8 272.5 123.0 251.8 153.4 214.7 223.4 114.4 396.1 290.2 115.5 299.7 105.1 130.9 368.2 194.5 262.0 154.8 342.8 213.6 227.3 140.3 348.0 240.6 179.3 271.2 114.7 110.5 384.1 213.8 244.3 146.0 347.8 117.7 383.7 143.8 352.5 166.5 322.6 284.0 120.0 234.7 200.5 457.0 95.4 182.4 301.1 196.0 269.5 142.8 350.8 250.6 158.4 181.3 298.6 174.3 276.9 148.9 371.5 242.0 189.4 119.3 381.1 186.9 282.2 246.9 164.1 134.0 362.3 130.6 369.7 107.8 394.5 192.5 275.8 233.6 197.0 179.7 306.7 169.4 303.9 177.0 303.6 129.9 376.5 125.0 390.6 390.3 95.4 142.6 361.5 205.2 268.6 167.4 351.2 262.3 136.9 133.7 393.0 166.4 343.9 276.3 117.9 326.8 98.6 280.6 115.6 164.2 344.4 221.0 208.5 257.2 151.9 118.2 382.8 317.7 99.4 109.8 389.4 198.1 248.6 124.7 380.4 126.9 383.8 107.7 384.4 304.9 109.0 293.4 122.0 111.5 372.8 149.3 354.5 132.3 384.8 408.7 96.9 259.6 144.7 139.5 359.6 303.8 99.0 231.0 207.5 138.7 360.2 183.6 311.7 109.1 385.6 168.6 346.4 209.3 231.0 184.1 279.6 123.7 380.4 292.7 99.0 113.7 385.2 134.5 363.3 152.6 356.4 152.6 344.4 179.8 308.1 139.2 364.2 128.0 378.0 223.6 190.5 142.3 360.1 142.4 352.9 165.3 321.6 137.9 369.9 221.9 212.2 144.0 363.9 157.5 344.4 130.6 363.9 242.2 156.8 139.2 355.8 152.7 342.9 169.7 330.5 257.0 159.5 123.5 385.0 248.7 165.7 304.1 109.1 128.6 378.2 119.6 391.0 239.3 188.0 133.3 371.4 127.8 382.4 187.6 282.2 286.4 104.6 262.1 132.9 197.2 288.3 174.8 337.0 334.5 95.8 212.7 250.9 296.9 98.2 218.0 237.7 223.2 231.2 222.1 236.6 136.6 371.9 294.9 112.1 457.2 92.5 192.5 278.9 110.3 389.2 110.7 405.5 163.6 339.9 160.8 354.7 125.2 384.7 200.8 253.4 236.4 179.6 144.6 356.1 139.5 364.1 182.5 301.4 191.9 272.5 157.5 348.9 259.6 149.7 143.8 353.7 142.5 358.1 233.3 194.9 249.4 155.6 277.0 135.3 109.2 388.7 126.4 380.9 168.4 332.2 316.7 100.9 208.5 273.2 201.3 263.2 143.5 362.8 416.1 94.7 185.0 298.6 216.0 244.5 248.6 181.2 244.8 174.4 155.6 349.5 137.5 368.9 354.9 96.5 174.1 293.1 139.7 378.6 113.7 393.4 237.5 180.0 251.5 152.4 193.1 292.0 155.2 344.7 202.4 251.2 348.4 95.6 193.0 278.3 237.0 187.0 277.1 132.0 225.9 200.1 166.7 324.2 116.8 387.9 201.2 230.5 249.2 166.8 316.0 98.0 122.7 383.3 109.8 382.6 199.8 262.6 244.7 165.3 196.3 277.9 133.8 376.0 146.8 363.7 109.6 406.1 240.5 191.2 139.1 361.1 160.7 339.3 116.4 384.0 146.1 373.7 111.0 393.7 122.2 365.5 177.8 290.7 127.6 373.3 192.4 246.1 276.0 122.1 188.9 286.0 309.1 98.4 123.4 378.7 145.9 356.3 169.7 309.0 203.4 267.6 153.9 361.4 159.9 331.9 207.9 262.3 166.3 327.1 131.3 376.1 153.3 342.6 142.8 348.7 135.3 362.7 182.5 284.1 182.2 315.2 159.9 344.3 207.1 222.1 250.9 175.3 191.5 253.0 146.7 357.7 294.0 99.7 230.2 183.0 159.2 342.2 154.5 346.9 255.3 150.8 211.2 250.8 333.5 96.4 275.6 138.7 169.8 316.8 230.6 192.8 105.8 392.0 169.2 306.8 442.9 92.6 138.3 379.2 132.6 373.2 142.3 360.2 139.0 361.9 161.3 335.2 249.9 167.7 167.9 309.7 192.9 282.5 105.4 397.4 300.2 99.7 151.4 345.6 290.0 102.4 136.0 362.9 193.5 262.6 199.0 247.6 169.7 333.1 106.6 391.4 143.7 369.2 140.3 369.9 173.8 328.1 149.6 361.5 142.0 358.5 166.3 325.3 210.9 241.3 484.1 95.0 151.9 339.4 285.4 110.6 105.7 392.0 105.7 404.3 273.8 118.2 157.6 348.0 249.3 148.9 211.6 237.8 151.8 356.7 149.5 355.1 153.9 333.8 228.3 205.7 109.4 397.6 280.3 110.0 180.3 325.4 146.0 350.7 240.4 228.6 139.0 365.1 221.2 227.6 160.4 349.7 175.5 323.9 113.4 404.6 117.1 378.0 251.1 142.0 190.1 292.9 151.8 338.6 236.8 196.3 283.4 112.4 106.3 394.3 493.8 95.6 195.3 271.4 134.9 378.4 130.1 360.5 172.6 320.9 198.3 270.0 156.8 337.6 209.2 226.2 291.7 104.8 127.7 392.9 125.9 374.0 204.3 269.8 140.2 344.0 137.2 367.7 171.7 315.0 213.5 236.5 285.9 128.8 291.9 105.1 241.5 175.6 151.6 360.2 277.5 130.0 200.5 228.6 120.1 388.5 303.1 95.1 124.7 369.1 205.8 234.8 213.1 233.8 278.9 118.2 203.6 241.2 361.4 93.4 120.9 381.6 183.4 286.5 161.4 339.9 105.0 392.8 122.9 388.5 191.3 285.3 148.5 350.6 231.8 195.9 169.4 324.0 264.0 134.9 226.9 204.2 156.5 319.7 149.2 352.7 121.3 390.9 124.2 372.9 151.1 351.5 145.6 355.5 119.1 395.2 167.4 334.2 108.6 398.7 264.4 146.5 180.6 298.1 105.7 398.0 148.2 351.8 117.8 381.3 113.7 384.8 166.7 328.2 111.9 392.9 120.2 391.5 218.7 234.1 149.3 331.9 199.9 245.5 172.9 329.7 170.6 307.4 138.6 368.3 149.3 341.1 169.4 324.4 159.0 361.9 246.7 163.1 128.6 368.1 134.8 388.3 151.4 360.1 243.6 189.7 259.8 158.2 191.8 297.9 139.6 356.4 196.5 259.9 240.4 164.1 141.4 371.0 206.3 246.7 214.3 226.2 150.0 352.9 105.7 395.4 176.8 273.9 135.8 377.9 150.0 353.8 181.6 298.9 302.2 100.8 111.5 399.2 179.8 304.6 298.2 111.3 201.7 258.3 185.6 300.2 109.3 384.3 202.8 249.8 143.6 350.5 205.6 256.2 129.1 375.3 122.4 386.1 124.8 370.6 111.8 377.9 125.3 375.7 186.6 300.2 160.4 329.4 249.5 171.5 176.2 318.8 180.0 304.8 210.7 221.7 260.8 143.6 189.5 286.9 172.7 326.6 189.7 275.5 191.5 295.5 108.3 389.5 256.4 152.2 205.5 251.5 206.3 231.6 136.8 366.5 194.4 279.0 139.4 356.2 126.6 370.5 123.0 371.6 200.0 246.2 118.2 381.5 246.4 177.8 187.7 304.6 155.6 328.7 183.6 281.7 244.6 171.6 190.1 271.4 169.6 307.8 142.1 365.4 184.4 314.0 412.3 97.4 184.1 295.7 170.2 323.5 269.3 123.2 227.4 183.8 292.6 102.8 186.0 284.9 185.9 291.4 198.2 248.1 263.4 139.2 136.9 370.7 187.9 293.4 136.8 364.6 144.9 363.9 165.3 352.6 167.0 341.5 134.9 371.1 145.8 356.7 116.3 379.3 150.7 362.6 219.9 235.0 380.0 92.8 114.3 385.7 271.8 140.6 186.4 273.9 272.8 129.6 130.7 381.0 112.0 403.4 195.6 254.3 219.1 227.7 277.7 117.3 173.6 311.6 133.8 368.5 145.1 365.0 123.8 395.6 202.9 270.0 294.4 112.0 156.0 350.5 150.3 363.1 201.3 282.7 363.2 96.0 157.5 362.1 202.6 225.4 280.7 124.1 128.8 369.9 293.5 112.4 220.0 215.6 206.7 257.3 114.5 392.7 121.7 373.4 113.2 406.1 278.4 121.7 239.7 163.8 115.2 391.5 177.1 307.1 132.4 392.7 224.2 195.8 180.9 285.4 296.9 108.2 213.6 214.9 106.5 406.6 139.0 357.9 188.0 288.0 277.3 122.6 145.5 349.7 120.3 375.3 134.4 368.7 127.0 372.2 122.5 378.6 148.0 355.6 131.9 367.2 182.9 308.4 273.0 128.9 306.7 92.6 111.7 380.7 189.2 290.6 209.7 241.4 109.8 387.7 161.7 304.7 113.9 389.8 144.4 355.8 146.0 363.2 244.7 167.7 125.4 374.4 183.2 300.9 197.0 285.1 151.8 354.4 284.8 118.0 147.4 364.4 147.2 356.5 205.5 237.1 172.1 319.2 213.6 213.6 111.7 384.2 114.5 400.6 212.1 214.3 149.1 353.9 255.6 145.3 127.6 371.0 119.8 377.8 265.9 141.4 144.5 355.3 128.2 378.9 232.8 195.9 133.5 368.7 183.0 292.5 257.3 157.9 201.3 274.0 224.1 205.2 325.3 99.1 132.6 363.0 275.6 136.5 177.3 300.3 113.9 384.4 110.9 389.4 149.5 362.9 231.0 196.8 175.4 297.5 275.8 135.6 191.6 281.7 162.1 327.9 111.3 388.2 169.8 330.2 281.4 110.4 181.7 286.4 159.7 332.9 204.5 272.5 178.0 303.5 202.9 268.2 116.9 379.4 119.7 385.1 250.0 163.9 125.7 366.4 187.3 291.2 168.6 314.6 272.2 120.8 121.4 372.0 112.4 380.6 182.1 321.5 127.2 365.8 158.6 332.5 204.4 246.8 139.7 362.3 210.5 247.0 187.0 302.4 279.5 123.6 302.5 105.0 179.8 291.4 361.1 94.1 127.2 368.3 139.4 367.6 161.7 333.8 170.3 316.7 232.9 176.5 162.8 333.4 209.9 228.1 119.0 379.3 275.8 124.4 125.9 384.4 148.4 366.8 107.3 395.6 139.4 367.7 190.2 279.0 133.1 375.4 187.0 283.2 210.3 213.6 164.2 338.3 154.9 351.7 143.5 378.6 265.9 139.4 210.7 259.8 228.3 217.1 156.5 343.9 170.2 316.7 141.0 371.5 132.9 375.8 276.6 122.1 109.1 393.0 215.8 219.0 164.8 325.0 167.1 304.3 147.5 368.6 121.4 389.6 248.4 178.0 107.1 394.5 138.6 362.0 229.1 209.6 147.6 361.7 290.9 109.6 118.9 382.7 167.0 304.6 179.7 294.0 169.8 320.6 241.8 191.5 181.4 303.6 252.4 184.5 177.5 304.2 162.1 340.9 154.8 346.8 180.4 307.1 201.1 275.1 212.9 229.1 274.6 129.5 208.7 250.0 210.1 251.6 134.0 380.3 123.7 373.6 113.6 397.0 211.2 230.8 207.5 244.8 188.2 275.3 155.1 348.2 166.5 324.7 133.4 365.0 278.7 117.8 151.1 376.5 181.0 290.5 117.7 379.7 265.8 146.1 159.7 328.9 154.9 356.3 134.5 373.4 191.0 288.0 128.6 367.7 198.3 284.8 137.7 365.9 260.8 154.8 217.0 229.4 219.5 216.8 276.5 131.6 247.6 169.2 152.7 356.8 188.5 286.3 138.6 370.4 119.8 395.0 119.8 384.7 106.2 405.4 132.6 385.2 128.6 383.4 217.5 240.2 134.9 374.1 171.1 338.3 123.2 389.1 212.2 233.0 127.8 378.0 181.6 299.5 110.9 390.5 171.2 324.1 261.9 138.5 134.3 357.9 178.9 308.4 161.7 336.8 253.9 149.2 155.7 357.5 214.5 240.0 164.4 341.1 253.2 157.2 126.3 389.3 166.9 317.6 179.4 289.7 241.3 186.6 149.9 356.6 170.9 330.0 198.9 280.2 107.1 401.6 183.5 298.6 207.5 233.7 217.9 212.2 110.2 388.7 157.9 334.8 144.8 364.9 156.9 346.0 150.5 352.5 321.4 106.3 291.6 97.9 131.4 378.6 131.3 373.3 262.3 147.3 259.4 153.8 286.3 113.0 155.3 338.0 197.1 269.9 252.9 125.0 258.9 164.9 221.0 215.9 173.2 325.7 289.8 121.3 272.0 129.1 170.7 319.7 126.1 366.1 157.1 334.6 145.3 357.2 163.2 340.7 168.4 322.1 270.8 122.4 293.1 100.4 173.4 321.1 126.8 388.5 301.4 98.7 155.3 328.3 163.4 330.7 146.2 353.6 267.5 140.5 106.3 390.2 126.4 375.9 125.2 374.1 260.2 160.0 172.7 320.3 187.1 278.4 272.5 128.0 174.2 317.8 129.5 374.0 182.9 302.7 177.4 319.3 137.7 365.5 132.1 368.6 142.1 359.4 225.7 213.7 114.1 376.4 469.0 98.1 120.7 381.5 140.5 374.3 152.7 351.4 147.5 352.2 204.0 245.9 279.0 121.8 142.1 385.0 250.8 174.2 143.0 360.8 161.6 348.0 270.3 130.5 144.8 360.6 221.1 224.7 208.0 238.3 122.2 376.5 166.2 332.0 203.6 240.5 116.4 377.6 179.2 305.6 259.5 160.1 107.8 392.3 169.6 328.2 114.5 378.5 108.9 386.6 181.0 318.5 169.5 337.1 198.1 261.6 262.7 149.2 214.2 230.8 151.3 364.4 168.4 319.4 209.5 240.4 252.4 151.1 208.8 242.3 173.1 316.9 106.1 391.8 264.4 140.1 141.0 374.0 153.6 342.8 267.9 137.5 124.6 385.3 277.2 123.7 131.2 374.1 105.6 406.5 163.0 316.8 235.6 182.5 150.4 350.8 259.2 154.8 160.8 349.5 239.2 164.0 135.3 373.5 105.7 389.8 226.7 211.3 173.8 325.1 206.1 254.2 134.1 370.5 226.6 212.8 445.7 95.7 133.7 361.2 268.5 140.2 267.3 148.8 270.5 141.3 124.1 373.3 182.5 298.7 168.6 336.1 189.1 295.3 132.8 370.7 150.7 348.3 152.8 351.1 244.1 191.5 396.2 94.9 273.5 121.8 401.6 96.7 231.8 183.7 110.6 374.7 140.9 361.6 116.1 372.7 286.0 114.6 280.5 115.9 233.0 200.9 140.2 378.0 257.4 143.5 249.0 170.0 145.2 367.4 158.4 344.4 260.5 157.5 158.3 331.5 144.5 350.2 276.9 123.2 109.8 385.5 193.7 251.9 146.6 361.8 202.2 248.6 250.0 167.7 254.2 159.6 262.8 154.4 140.6 360.2 133.5 386.6 132.6 377.3 106.4 382.6 242.6 182.9 122.5 384.4 244.8 181.6 230.4 195.9 323.9 98.1 148.5 346.0 244.4 169.0 142.3 365.4 228.2 205.7 105.7 403.3 183.6 270.2 207.6 239.4 184.6 299.5 184.9 299.8 202.2 277.8 116.2 392.2 137.8 358.1 181.6 299.5 129.6 367.9 119.0 382.0 159.2 329.6 166.4 345.5 129.2 360.6 290.3 115.0 296.1 109.7 170.5 324.5 128.0 374.7 143.9 358.5 106.6 400.3 114.7 383.0 196.3 258.9 276.8 122.3 244.2 181.3 133.8 365.7 205.2 239.8 293.4 101.5 198.6 296.3 185.8 334.7 137.4 364.2 147.2 373.3 204.9 264.3 124.9 382.2 155.2 332.9 285.0 110.3 141.2 357.1 142.0 368.3 296.1 109.5 194.0 288.2 188.3 296.2 131.5 384.5 189.6 261.4 163.9 349.3 180.9 301.8 148.2 346.1 264.0 130.1 211.3 237.1 308.7 98.4 126.6 365.2 149.8 368.0 119.8 384.0 133.8 363.6 151.4 346.5 125.6 386.9 138.3 367.4 146.9 371.5 252.9 149.9 168.3 334.5 241.7 167.7 108.5 396.0 113.7 406.5 295.0 96.4 105.6 389.2 176.8 307.1 137.7 367.9 123.7 379.2 203.0 269.3 189.2 277.9 116.0 379.2 177.0 300.5 165.2 331.4 256.3 146.2 128.7 383.3 177.8 292.6 254.6 148.5 314.6 96.4 152.1 366.9 241.6 192.4 135.9 369.5 306.2 107.2 121.6 371.7 167.6 333.2 342.5 98.6 194.2 264.5 184.7 293.5 198.7 265.6 158.5 334.5 265.9 128.4 209.2 228.3 161.4 337.4 129.1 375.4 140.7 365.8 148.9 352.7 276.7 108.9 133.0 365.8 185.2 296.1 180.5 297.8 187.4 261.9 110.6 393.7 323.0 98.2 118.9 387.9 128.8 375.2 221.0 216.7 144.0 367.2 257.6 130.8 143.6 377.5 132.1 362.9 211.5 234.3 256.6 142.0 268.3 122.8 144.5 368.7 168.2 303.1 157.2 350.2 210.0 244.7 126.7 382.8 255.7 160.1 211.6 220.7 107.4 385.4 133.6 362.8 142.6 358.6 292.0 109.5 166.3 331.5 203.8 273.6 289.0 110.5 156.6 349.4 297.9 104.2 127.4 377.5 208.7 233.9 166.2 355.2 245.1 164.5 179.9 301.8 211.0 241.4 148.5 353.7 189.1 286.3 209.0 237.3 163.4 357.6 160.4 322.8 249.7 156.8 295.5 113.6 150.6 349.7 245.1 159.3 162.9 327.6 330.9 97.8 231.8 202.9 138.7 357.5 258.7 151.7 174.7 296.5 224.5 230.5 271.4 124.9 194.9 288.0 298.5 99.9 179.1 347.9 154.7 348.9 201.1 257.7 151.1 340.8 212.1 230.8 181.2 298.3 220.6 215.0 262.4 164.1 185.3 289.0 277.3 115.8 240.0 186.8 257.1 153.0 194.2 262.7 152.3 365.0 266.0 136.3 160.9 347.8 221.9 213.2 121.1 366.6 190.2 267.1 273.2 125.9 259.7 143.3 150.5 356.1 173.3 323.7 165.4 303.0 147.7 359.3 163.7 320.1 304.4 99.5 281.3 127.9 148.5 368.1 206.9 239.2 307.6 101.6 157.6 352.8 261.5 160.0 247.7 185.1 269.3 126.8 280.5 111.6 356.1 95.2 121.2 367.9 195.1 264.8 189.0 271.5 218.7 225.2 234.5 209.2 254.6 149.6 145.5 357.9 241.1 173.3 138.8 386.5 123.6 377.3 228.7 191.1 158.4 335.8 249.3 160.3 206.5 245.2 247.3 160.0 234.7 188.2 270.0 129.6 132.1 376.0 154.9 348.9 193.2 266.3 183.8 285.7 244.7 193.8 251.5 172.7 139.9 367.2 112.2 392.0 225.0 205.9 206.8 233.1 142.4 378.3 119.1 372.6 138.6 369.5 123.4 379.5 113.6 382.5 145.0 351.6 119.1 381.7 167.2 332.8 240.7 148.2 263.1 136.5 143.4 344.6 105.0 389.5 135.5 372.8 206.6 242.4 157.9 346.0 179.5 291.7 225.1 221.6 198.2 258.1 265.4 143.9 135.9 363.7 172.7 310.4 200.2 269.6 131.2 375.9 172.9 322.6 118.1 397.1 120.2 387.6 152.1 351.5 297.3 111.1 149.6 359.8 211.2 223.2 145.3 349.9 142.2 346.1 110.1 381.7 117.1 391.8 238.1 188.7 163.8 338.8 142.6 371.6 407.8 94.6 266.9 131.7 127.6 370.6 166.7 337.5 181.9 298.7 113.9 402.4 169.1 339.1 139.0 363.0 249.9 177.0 434.8 92.1 140.2 386.3 136.7 360.2 282.7 113.9 237.5 159.5 107.3 405.4 174.3 307.4 152.9 345.7 202.3 279.5 134.7 360.6 306.3 99.0 119.3 380.0 247.7 165.2 128.3 368.8 209.2 257.6 154.5 347.8 180.1 304.6 180.5 305.3 195.6 264.9 324.9 95.0 133.1 377.0 148.1 355.5 121.9 382.4 201.5 258.5 376.4 98.6 156.2 349.6 150.6 371.9 136.3 357.0 105.4 396.5 132.8 361.6 386.3 96.9 114.3 389.0 180.8 299.9 122.2 382.3 250.6 158.4 121.8 390.5 113.5 394.0 245.6 171.0 119.5 381.2 128.9 383.9 292.7 107.6 114.3 375.7 257.9 163.0 142.7 360.8 173.5 287.6 131.1 358.5 143.2 361.9 282.8 101.8 277.8 126.3 131.8 376.2 235.6 229.1 110.5 398.0 143.2 366.4 200.4 264.7 210.9 224.2 230.5 207.5 231.5 200.6 157.8 345.7 121.3 377.9 172.8 334.5 290.2 108.0 165.9 334.5 192.1 261.1 285.9 110.5 267.1 141.2 219.6 210.3 196.8 277.6 124.3 390.0 218.2 204.0 155.5 344.3 217.7 237.6 128.5 371.9 299.3 108.4 111.1 384.9 234.4 187.8 272.4 128.1 116.5 378.2 262.1 140.8 195.0 256.9 183.3 282.8 137.5 368.3 149.8 363.9 123.6 374.1 171.8 339.0 200.8 255.4 222.4 215.2 221.4 234.7 144.1 355.7 140.6 363.5 219.6 195.1 326.4 94.3 127.6 379.1 163.3 332.0 138.0 365.2 326.9 99.0 267.5 124.7 232.6 192.6 147.2 364.9 207.6 233.8 160.8 355.1 201.4 263.3 176.2 342.6 286.2 117.0 165.2 323.1 255.1 172.4 199.9 292.4 151.5 353.0 313.5 95.3 114.5 376.9 278.1 120.1 353.5 94.6 258.2 140.7 191.2 274.4 199.2 268.0 287.1 113.8 152.9 333.9 245.9 168.0 227.6 186.9 253.8 141.4 161.8 332.2 207.4 256.4 238.5 215.0 145.0 358.1 280.3 118.4 121.4 389.5 260.4 156.0 158.5 337.9 138.6 383.3 222.7 182.3 128.5 374.7 317.5 96.1 135.5 359.3 257.2 151.5 172.9 321.9 285.1 103.7 139.4 359.9 286.6 107.8 136.0 360.0 160.0 338.8 191.2 267.5 180.9 294.6 208.5 253.4 211.1 235.9 134.1 372.5 216.7 216.6 193.3 277.3 189.5 296.5 175.9 322.7 289.6 107.7 138.7 363.2 290.4 115.7 115.3 386.4 209.3 234.2 297.4 110.5 122.8 389.5 239.2 193.4 134.3 377.1 164.5 335.5 213.6 223.5 139.7 369.1 302.9 103.0 143.1 377.9 143.9 365.9 159.2 360.4 150.8 362.1 124.7 379.3 131.0 382.0 197.4 252.6 151.9 359.0 232.2 214.4 145.8 330.5 137.0 364.7 119.0 387.9 129.9 377.1 266.9 125.5 165.5 333.5 143.1 358.4 115.8 375.1 272.0 131.3 198.8 228.6 224.7 234.1 243.3 175.4 124.5 376.9 211.4 209.6 204.3 246.4 141.3 362.1 200.8 252.5 124.8 378.7 153.1 357.3 200.8 248.9 292.1 102.7 148.5 348.6 115.8 385.0 113.2 394.1 215.2 248.1 271.7 130.4 129.7 354.7 113.9 392.9 306.2 99.9 113.8 389.4 220.2 196.9 229.5 187.8 154.8 343.3 175.6 308.8 270.0 124.0 218.7 204.8 170.9 334.0 236.1 194.1 188.9 294.5 201.7 243.6 313.1 99.8 338.8 97.7 253.7 158.6 189.0 290.9 150.2 365.0 118.3 386.0 116.6 390.5 207.4 266.0 227.8 195.3 246.8 144.7 284.6 116.6 137.6 363.9 145.4 357.8 126.0 376.3 179.3 300.2 296.7 103.9 229.8 200.4 170.1 332.9 119.8 391.4 255.6 158.7 275.6 118.8 217.2 199.2 144.4 364.9 145.4 350.7 188.2 284.3 295.9 109.0 126.9 364.8 150.5 346.2 106.2 406.2 127.9 371.6 242.7 168.8 215.6 242.4 174.0 325.6 157.1 341.2 139.0 377.1 225.0 195.8 175.3 316.1 200.9 263.4 445.6 96.6 490.0 96.4 126.6 357.6 334.2 93.6 320.2 98.5 113.7 383.0 216.9 224.0 206.2 270.7 149.8 345.4 233.9 187.1 200.3 262.5 120.2 394.8 171.6 321.3 217.8 232.3 190.5 275.0 187.4 292.6 215.7 214.3 109.0 393.1 110.3 405.4 185.5 263.1 165.4 344.0 265.9 157.8 317.5 97.8 118.4 385.9 153.6 347.4 151.3 341.1 186.2 305.4 274.7 115.2 192.0 274.6 130.9 361.3 212.7 250.4 129.9 357.2 182.2 299.4 118.3 394.9 187.7 291.6 167.8 324.9 199.2 261.5 182.8 292.8 201.9 292.9 221.7 217.2 109.5 384.6 221.8 206.3 193.4 269.7 213.5 239.3 152.5 345.5 281.7 115.0 247.6 163.7 330.9 99.3 163.8 332.8 268.9 133.5 261.1 133.0 189.3 299.6 276.3 117.6 243.7 169.4 105.9 396.8 109.4 393.8 139.4 338.9 178.2 307.4 211.6 255.9 187.7 296.0 272.8 135.6 237.1 182.9 141.5 364.5 278.0 125.6 221.3 202.7 203.1 268.7 106.9 383.9 173.0 308.5 459.4 95.3 246.7 164.2 172.1 323.4 337.4 95.6 260.5 142.9 194.1 256.1 259.9 148.9 128.5 376.5 218.1 231.0 134.2 364.8 132.9 386.4 150.2 357.5 143.3 372.1 312.9 96.6 122.9 374.9 165.7 335.7 165.8 321.3 224.0 236.1 319.7 93.4 197.6 271.0 248.2 141.8 121.5 391.1 210.7 249.5 107.4 382.7 262.0 134.8 187.9 283.7 106.4 392.4 264.7 149.6 190.3 307.0 164.9 325.7 112.5 406.2 276.9 118.2 183.8 309.4 249.7 136.0 215.0 244.9 147.4 349.8 186.7 304.1 193.3 270.2 255.1 170.9 288.1 118.7 113.0 392.6 256.7 147.0 105.7 394.1 138.8 364.4 132.1 357.7 268.2 196.0 175.0 289.3 152.7 352.5 240.5 187.7 285.7 109.0 199.6 266.6 199.7 248.0 253.7 143.2 140.0 363.1 466.1 94.6 112.7 383.0 236.1 175.9 120.2 377.3 151.6 357.8 181.5 314.6 108.4 387.6 158.8 340.2 140.0 359.0 194.6 270.3 162.0 342.2 108.5 388.1 241.4 180.4 151.7 341.9 265.4 134.0 148.0 346.9 111.6 395.7 140.2 368.2 133.9 381.5 143.2 354.5 117.3 396.6 119.2 388.4 216.2 235.3 106.5 393.0 119.7 362.5 107.6 393.3 194.1 280.2 264.1 141.7 247.0 165.1 163.0 326.5 227.6 187.8 232.4 179.5 192.5 261.0 239.5 189.5 147.6 358.2 211.2 211.1 173.5 310.1 228.9 212.0 219.6 209.6 247.6 169.6 160.1 343.2 181.7 291.4 247.0 170.6 207.7 250.2 137.0 363.3 149.6 365.6 189.8 259.1 254.2 153.9 124.5 385.3 141.7 347.6 292.1 111.9 303.0 99.5 281.0 116.2 121.0 378.5 248.4 162.7 143.3 360.8 141.5 361.4 214.5 231.0 119.5 402.3 278.4 106.5 144.3 354.8 237.3 187.0 157.5 344.7 108.9 394.5 181.5 336.1 117.7 390.9 151.9 340.7 131.1 363.0 149.1 364.6 309.9 98.4 249.3 164.1 216.2 231.2 132.6 378.8 228.3 204.9 234.7 226.7 142.9 306.7 122.9 375.9 118.6 381.0 163.6 344.3 135.2 366.4 273.7 131.5 158.8 331.8 205.7 240.1 277.3 131.0 193.8 271.1 111.5 391.5 143.0 363.1 292.7 118.1 133.5 380.5 196.0 268.2 253.8 149.2 250.2 169.4 219.9 219.4 219.5 230.8 146.2 364.3 192.8 258.8 243.2 184.5 108.1 383.0 121.0 389.6 181.1 289.0 350.5 95.7 204.4 235.9 258.8 156.2 135.3 369.1 224.6 202.4 172.2 304.5 273.0 122.9 200.5 261.2 201.9 281.0 129.3 374.9 129.2 376.4 335.8 97.7 303.2 102.0 159.1 341.6 241.3 184.3 211.0 221.7 141.8 367.7 123.0 383.3 220.7 201.7 301.9 98.0 372.3 97.9 145.0 356.1 137.3 362.2 406.7 95.8 147.8 371.6 249.3 156.9 127.6 375.5 308.4 99.7 168.7 324.0 248.9 156.0 203.1 279.0 224.7 198.6 147.5 354.7 254.9 134.4 287.3 117.4 213.4 230.5 185.1 280.6 112.8 402.6 285.3 106.6 199.5 253.7 189.1 269.1 259.7 164.2 127.1 374.2 193.0 266.7 200.6 243.6 221.5 204.7 219.0 216.5 265.8 116.8 191.5 265.1 116.7 388.9 296.4 114.8 113.2 372.9 262.6 147.4 186.0 285.3 136.7 360.9 246.7 181.0 199.1 260.3 118.7 381.3 242.8 171.2 244.1 178.2 182.3 313.8 208.0 222.5 150.5 359.7 157.4 340.3 291.8 111.3 216.2 216.4 122.6 385.0 263.7 156.5 201.5 251.1 141.0 369.3 127.4 370.8 116.5 384.7 161.8 336.6 141.7 355.4 137.4 368.0 254.2 137.0 221.5 202.2 169.3 321.1 313.6 103.5 210.2 245.2 295.4 98.7 247.5 164.5 198.8 266.4 201.7 235.0 234.4 192.7 234.4 204.1 271.7 137.6 141.6 358.9 146.8 351.4 123.5 374.0 281.4 114.5 275.2 121.0 166.7 330.4 156.2 350.6 331.5 95.0 210.7 231.5 306.8 94.5 195.8 263.9 174.8 312.6 205.6 212.9 270.9 130.0 258.6 147.0 157.2 355.7 175.8 316.0 294.1 104.2 173.2 314.9 244.0 182.3 181.8 307.7 241.1 159.8 169.6 343.0 148.6 349.8 310.1 100.0 480.8 96.8 107.8 401.2 251.0 160.9 176.2 315.3 258.4 152.7 148.6 351.6 218.5 194.7 161.8 329.0 148.2 355.2 124.2 376.2 146.9 360.1 159.6 341.0 171.8 318.1 184.8 312.2 218.7 219.8 245.3 170.7 311.9 97.1 209.4 254.4 124.9 365.4 201.0 288.5 165.5 340.9 119.6 375.0 142.8 365.8 131.1 377.9 181.0 303.8 106.7 391.8 194.1 297.9 163.0 340.4 137.8 363.1 315.8 99.2 195.8 286.6 192.3 286.8 220.2 234.9 152.1 352.5 122.2 377.7 182.8 301.7 254.7 167.2 128.2 383.0 121.2 384.6 115.2 392.6 190.2 269.0 178.3 310.2 240.7 174.1 229.3 194.6 210.0 250.9 166.9 339.8 124.5 377.3 170.9 313.4 297.7 101.6 268.5 129.2 249.5 166.6 109.3 405.2 139.0 355.5 454.1 95.6 290.9 114.3 157.0 329.7 220.7 228.1 152.7 353.7 263.3 148.9 134.8 361.8 132.9 390.3 137.1 394.0 192.4 263.4 183.4 298.9 275.8 119.2 115.0 388.3 227.6 178.5 300.0 103.1 228.5 209.5 142.1 360.9 232.1 197.9 107.9 375.9 157.9 327.1 209.7 241.7 107.6 397.2 238.4 182.5 199.9 275.9 122.4 396.7 202.0 231.6 148.2 356.5 182.0 302.9 183.5 289.4 141.9 378.5 156.3 345.7 239.9 184.6 256.0 138.1 256.8 151.7 182.3 291.3 260.1 144.2 373.8 95.2 271.9 121.6 231.0 187.7 149.2 345.7 241.5 179.8 298.6 100.6 127.8 387.0 191.7 253.6 208.3 245.6 202.8 250.6 148.4 356.4 272.6 145.8 138.9 365.8 314.7 97.4 166.0 329.4 119.4 379.4 291.5 105.7 120.1 383.5 177.9 281.6 299.2 106.4 290.9 108.7 182.7 295.5 119.6 392.9 173.0 320.5 141.5 364.2 142.3 359.0 133.4 363.0 121.1 390.4 227.6 209.0 185.9 293.1 156.2 345.6 195.2 250.3 212.7 289.7 166.6 328.3 227.6 192.7 190.7 287.7 280.5 118.6" fill="none" stroke="none" marker-start="url(#s)" marker-mid="url(#s)" marker-end="url(#s)"/>
<g stroke="#4a4a4a" stroke-width="1" fill="none">
<rect x="72.2" y="21.0" width="458.2" height="384.4"/>
<path d="M137.66 405.4v-4.6M137.66 21.0v4.6M203.11 405.4v-4.6M203.11 21.0v4.6M268.57 405.4v-4.6M268.57 21.0v4.6M334.03 405.4v-4.6M334.03 21.0v4.6M399.49 405.4v-4.6M399.49 21.0v4.6M464.94 405.4v-4.6M464.94 21.0v4.6M72.2 328.52h4.6M530.4 328.52h-4.6M72.2 251.64h4.6M530.4 251.64h-4.6M72.2 174.76h4.6M530.4 174.76h-4.6M72.2 97.88h4.6M530.4 97.88h-4.6"/>
</g>
<g font-size="14.5" fill="#111" stroke="#111" stroke-width="0.25">
<text x="71.9" y="424.9" text-anchor="middle">2</text>
<text x="137.4" y="424.9" text-anchor="middle">4</text>
<text x="202.8" y="424.9" text-anchor="middle">6</text>
<text x="268.3" y="424.9" text-anchor="middle">8</text>
<text x="333.7" y="424.9" text-anchor="middle">10</text>
<text x="399.2" y="424.9" text-anchor="middle">12</text>
<text x="464.6" y="424.9" text-anchor="middle">14</text>
<text x="530.1" y="424.9" text-anchor="middle">16</text>
<text x="66" y="410.6" text-anchor="end">0</text>
<text x="66" y="333.7" text-anchor="end">500</text>
<text x="66" y="256.8" text-anchor="end">1000</text>
<text x="66" y="180.0" text-anchor="end">1500</text>
<text x="66" y="103.1" text-anchor="end">2000</text>
<text x="66" y="26.2" text-anchor="end">2500</text>
</g>
<g font-size="16" fill="#111" stroke="#111" stroke-width="0.25">
<text x="311.3" y="443.9" text-anchor="middle">Wind Speed (m/s)</text>
<text transform="translate(29.2,208.2) rotate(-90)" text-anchor="middle">Power (KW)</text>
</g>
<rect x="313.5" y="21.0" width="216.9" height="44.6" fill="#fff" stroke="#666" stroke-width="1"/>
<g font-size="16" fill="#000" stroke="#000" stroke-width="0.3">
<text x="342.2" y="39.2">Baseline data</text>
<text x="342.2" y="60.0">Actual measurement data</text>
</g>
<path d="M328.0 30.8L328.5 32.0L329.8 32.1L328.8 33.0L329.1 34.2L328.0 33.6L326.9 34.2L327.2 33.0L326.2 32.1L327.5 32.0Z" fill="#f00"/>
<circle cx="328.0" cy="54.0" r="1.15" fill="#00f"/>
</svg>
</body></html>
